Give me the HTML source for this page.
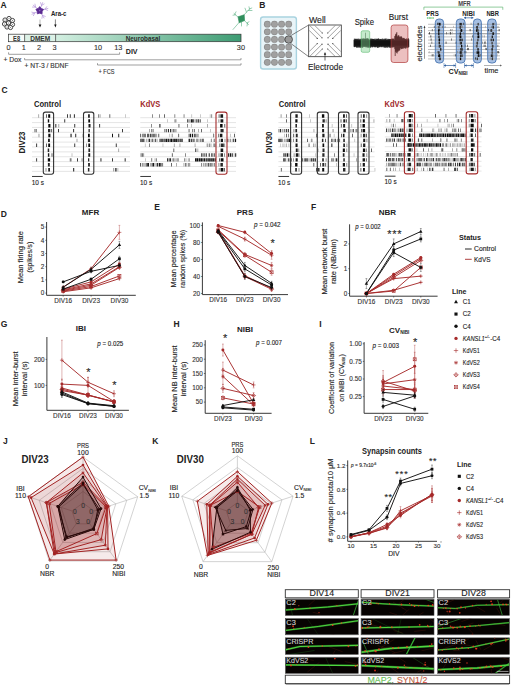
<!DOCTYPE html><html><head><meta charset="utf-8"><style>html,body{margin:0;padding:0;background:#fff;width:511px;height:685px;overflow:hidden}svg{display:block} text{font-family:"Liberation Sans", sans-serif}</style></head><body>
<svg width="511" height="685" viewBox="0 0 511 685">
<rect width="511" height="685" fill="#fff"/>
<text x="0.50" y="8.00" font-size="8.5" font-weight="bold" font-style="normal" fill="#222" text-anchor="start"  stroke="#222" stroke-width="0.0">A</text>
<circle cx="5" cy="20" r="2.1" fill="#fff" stroke="#333" stroke-width="0.9"/>
<circle cx="5" cy="20" r="0.6" fill="#777"/>
<circle cx="9" cy="18.5" r="2.1" fill="#fff" stroke="#333" stroke-width="0.9"/>
<circle cx="9" cy="18.5" r="0.6" fill="#777"/>
<circle cx="12.5" cy="20.5" r="2.1" fill="#fff" stroke="#333" stroke-width="0.9"/>
<circle cx="12.5" cy="20.5" r="0.6" fill="#777"/>
<circle cx="4.5" cy="24" r="2.1" fill="#fff" stroke="#333" stroke-width="0.9"/>
<circle cx="4.5" cy="24" r="0.6" fill="#777"/>
<circle cx="8.5" cy="23" r="2.1" fill="#fff" stroke="#333" stroke-width="0.9"/>
<circle cx="8.5" cy="23" r="0.6" fill="#777"/>
<circle cx="12.5" cy="24.5" r="2.1" fill="#fff" stroke="#333" stroke-width="0.9"/>
<circle cx="12.5" cy="24.5" r="0.6" fill="#777"/>
<circle cx="7" cy="27" r="2.1" fill="#fff" stroke="#333" stroke-width="0.9"/>
<circle cx="7" cy="27" r="0.6" fill="#777"/>
<circle cx="10.5" cy="27.5" r="2.1" fill="#fff" stroke="#333" stroke-width="0.9"/>
<circle cx="10.5" cy="27.5" r="0.6" fill="#777"/>
<g stroke="#b99ddc" stroke-width="0.75" fill="none" stroke-linecap="round"><line x1="39.7" y1="10.6" x2="42.61" y2="2.61"/><line x1="41.58" y1="5.43" x2="44.18" y2="3.93"/><line x1="41.58" y1="5.43" x2="40.56" y2="2.61"/><line x1="39.7" y1="10.6" x2="33.19" y2="5.14"/><line x1="35.49" y1="7.06" x2="34.97" y2="4.11"/><line x1="35.49" y1="7.06" x2="32.49" y2="7.06"/><line x1="39.7" y1="10.6" x2="47.91" y2="8.40"/><line x1="45.01" y1="9.18" x2="47.73" y2="10.44"/><line x1="45.01" y1="9.18" x2="46.73" y2="6.72"/><line x1="39.7" y1="10.6" x2="32.00" y2="14.19"/><line x1="34.72" y1="12.92" x2="31.82" y2="12.15"/><line x1="34.72" y1="12.92" x2="33.45" y2="15.64"/><line x1="39.7" y1="10.6" x2="43.95" y2="17.96"/><line x1="42.45" y1="15.36" x2="41.93" y2="18.32"/><line x1="42.45" y1="15.36" x2="45.27" y2="16.39"/></g>
<polygon points="39.70,6.60 38.17,8.50 35.90,9.36 37.23,11.40 37.35,13.84 39.70,13.20 42.05,13.84 42.17,11.40 43.50,9.36 41.23,8.50" fill="#5a2a92" stroke="#5a2a92" stroke-width="0.8" stroke-linejoin="round"/>
<circle cx="39.7" cy="10.6" r="0.8" fill="#8a6ab8"/>
<text x="51.00" y="15.50" font-size="7.2" font-weight="bold" font-style="normal" fill="#222" text-anchor="start" textLength="15.5" lengthAdjust="spacingAndGlyphs"  stroke="#222" stroke-width="0.0">Ara-c</text>
<line x1="40.00" y1="19.40" x2="40.00" y2="25.50" stroke="#c8c8c8" stroke-width="1.3" />
<polygon points="38.6,24.6 41.4,24.6 40,27.6" fill="#111"/>
<line x1="55.40" y1="19.40" x2="55.40" y2="25.50" stroke="#333" stroke-width="0.6" />
<polygon points="54.2,24.6 56.6,24.6 55.4,27.6" fill="#111"/>
<defs><linearGradient id="nb" x1="0" x2="1" y1="0" y2="0"><stop offset="0" stop-color="#d3efe1"/><stop offset="1" stop-color="#3d9c73"/></linearGradient></defs>
<rect x="55.60" y="34.20" width="185.40" height="7.50" fill="url(#nb)" stroke="none" stroke-width="0.8" rx="0" />
<rect x="8.60" y="34.20" width="16.00" height="7.50" fill="#f6fbf8" stroke="none" stroke-width="0.8" rx="0" />
<rect x="24.60" y="34.20" width="31.00" height="7.50" fill="#dcf1e6" stroke="none" stroke-width="0.8" rx="0" />
<rect x="8.60" y="34.20" width="232.40" height="7.50" fill="none" stroke="#333" stroke-width="0.7" rx="0" />
<line x1="24.60" y1="34.20" x2="24.60" y2="41.70" stroke="#333" stroke-width="0.7" />
<line x1="55.60" y1="34.20" x2="55.60" y2="41.70" stroke="#333" stroke-width="0.7" />
<text x="16.60" y="40.70" font-size="6.4" font-weight="bold" font-style="normal" fill="#333" text-anchor="middle" textLength="7" lengthAdjust="spacingAndGlyphs"  stroke="#333" stroke-width="0.0">E8</text>
<text x="40.20" y="40.70" font-size="6.4" font-weight="bold" font-style="normal" fill="#333" text-anchor="middle" textLength="20" lengthAdjust="spacingAndGlyphs"  stroke="#333" stroke-width="0.0">DMEM</text>
<text x="125.80" y="41.00" font-size="7.0" font-weight="bold" font-style="normal" fill="#2a2a2a" text-anchor="start" textLength="34.4" lengthAdjust="spacingAndGlyphs"  stroke="#2a2a2a" stroke-width="0.0">Neurobasal</text>
<text x="8.60" y="49.70" font-size="7.3" font-weight="normal" font-style="normal" fill="#333" text-anchor="middle"  stroke="#333" stroke-width="0.12">0</text>
<text x="23.80" y="49.70" font-size="7.3" font-weight="normal" font-style="normal" fill="#333" text-anchor="middle"  stroke="#333" stroke-width="0.12">1</text>
<text x="39.10" y="49.70" font-size="7.3" font-weight="normal" font-style="normal" fill="#333" text-anchor="middle"  stroke="#333" stroke-width="0.12">2</text>
<text x="54.50" y="49.70" font-size="7.3" font-weight="normal" font-style="normal" fill="#333" text-anchor="middle"  stroke="#333" stroke-width="0.12">3</text>
<text x="98.00" y="49.70" font-size="7.3" font-weight="normal" font-style="normal" fill="#333" text-anchor="middle"  stroke="#333" stroke-width="0.12">10</text>
<text x="118.30" y="49.70" font-size="7.3" font-weight="normal" font-style="normal" fill="#333" text-anchor="middle"  stroke="#333" stroke-width="0.12">13</text>
<text x="240.90" y="49.70" font-size="7.3" font-weight="normal" font-style="normal" fill="#333" text-anchor="middle"  stroke="#333" stroke-width="0.12">30</text>
<text x="125.80" y="54.30" font-size="6.6" font-weight="bold" font-style="normal" fill="#222" text-anchor="start" textLength="11.8" lengthAdjust="spacingAndGlyphs"  stroke="#222" stroke-width="0.0">DIV</text>
<g stroke="#777" stroke-width="0.7" fill="none">
<path d="M8.6,52.3 V54.3 H119.6 V52.3"/>
<path d="M24.6,58 V59.8 H241 V58"/>
<path d="M97.5,63.2 V65 H241 V63.2"/>
</g>
<text x="3.50" y="61.50" font-size="6.5" font-weight="normal" font-style="normal" fill="#333" text-anchor="start" textLength="18" lengthAdjust="spacingAndGlyphs"  stroke="#333" stroke-width="0.12">+ Dox</text>
<text x="24.50" y="67.90" font-size="6.5" font-weight="normal" font-style="normal" fill="#333" text-anchor="start" textLength="44" lengthAdjust="spacingAndGlyphs"  stroke="#333" stroke-width="0.12">+ NT-3 / BDNF</text>
<text x="98.50" y="74.00" font-size="6.5" font-weight="normal" font-style="normal" fill="#333" text-anchor="start" textLength="16" lengthAdjust="spacingAndGlyphs"  stroke="#333" stroke-width="0.12">+ FCS</text>
<g stroke="#4aa877" stroke-width="0.7" fill="none" stroke-linecap="round" stroke-opacity="0.8"><line x1="243.5" y1="15.5" x2="249.5" y2="9.0"/><line x1="246.5" y1="12.2" x2="245.0" y2="8.2"/><line x1="248.0" y1="10.5" x2="252.0" y2="10.5"/><line x1="249.5" y1="9.0" x2="249.0" y2="6.8"/><line x1="249.5" y1="9.0" x2="251.8" y2="8.0"/><line x1="238.0" y1="17.0" x2="234.0" y2="13.5"/><line x1="235.5" y1="14.8" x2="233.0" y2="15.2"/><line x1="234.8" y1="14.2" x2="236.0" y2="11.8"/><line x1="244.3" y1="20.5" x2="248.5" y2="24.5"/><line x1="246.8" y1="23.0" x2="249.0" y2="21.8"/><line x1="247.5" y1="23.5" x2="247.0" y2="26.0"/><line x1="239.5" y1="22.0" x2="233.0" y2="29.5"/><line x1="241.5" y1="22.0" x2="241.5" y2="26.0"/></g>
<polygon points="238.0,16.8 244.2,14.8 244.6,20.6 239.2,22.8" fill="#2f8f5c" stroke="#2f8f5c" stroke-width="0.6" stroke-linejoin="round"/>
<text x="259.30" y="7.60" font-size="8.5" font-weight="bold" font-style="normal" fill="#222" text-anchor="start"  stroke="#222" stroke-width="0.0">B</text>
<rect x="260.60" y="17.00" width="35.80" height="52.00" fill="#e9f4f8" stroke="#a9d3e0" stroke-width="1.4" rx="2.5" />
<circle cx="267.30" cy="24.20" r="3.4" fill="#8d8d8d"/>
<circle cx="267.30" cy="24.20" r="2.6" fill="#a0a0a0"/>
<circle cx="267.30" cy="31.82" r="3.4" fill="#8d8d8d"/>
<circle cx="267.30" cy="31.82" r="2.6" fill="#a0a0a0"/>
<circle cx="267.30" cy="39.44" r="3.4" fill="#8d8d8d"/>
<circle cx="267.30" cy="39.44" r="2.6" fill="#a0a0a0"/>
<circle cx="267.30" cy="47.06" r="3.4" fill="#8d8d8d"/>
<circle cx="267.30" cy="47.06" r="2.6" fill="#a0a0a0"/>
<circle cx="267.30" cy="54.68" r="3.4" fill="#8d8d8d"/>
<circle cx="267.30" cy="54.68" r="2.6" fill="#a0a0a0"/>
<circle cx="267.30" cy="62.30" r="3.4" fill="#8d8d8d"/>
<circle cx="267.30" cy="62.30" r="2.6" fill="#a0a0a0"/>
<circle cx="274.43" cy="24.20" r="3.4" fill="#8d8d8d"/>
<circle cx="274.43" cy="24.20" r="2.6" fill="#a0a0a0"/>
<circle cx="274.43" cy="31.82" r="3.4" fill="#8d8d8d"/>
<circle cx="274.43" cy="31.82" r="2.6" fill="#a0a0a0"/>
<circle cx="274.43" cy="39.44" r="3.4" fill="#8d8d8d"/>
<circle cx="274.43" cy="39.44" r="2.6" fill="#a0a0a0"/>
<circle cx="274.43" cy="47.06" r="3.4" fill="#8d8d8d"/>
<circle cx="274.43" cy="47.06" r="2.6" fill="#a0a0a0"/>
<circle cx="274.43" cy="54.68" r="3.4" fill="#8d8d8d"/>
<circle cx="274.43" cy="54.68" r="2.6" fill="#a0a0a0"/>
<circle cx="274.43" cy="62.30" r="3.4" fill="#8d8d8d"/>
<circle cx="274.43" cy="62.30" r="2.6" fill="#a0a0a0"/>
<circle cx="281.56" cy="24.20" r="3.4" fill="#8d8d8d"/>
<circle cx="281.56" cy="24.20" r="2.6" fill="#a0a0a0"/>
<circle cx="281.56" cy="31.82" r="3.4" fill="#8d8d8d"/>
<circle cx="281.56" cy="31.82" r="2.6" fill="#a0a0a0"/>
<circle cx="281.56" cy="39.44" r="3.4" fill="#8d8d8d"/>
<circle cx="281.56" cy="39.44" r="2.6" fill="#a0a0a0"/>
<circle cx="281.56" cy="47.06" r="3.4" fill="#8d8d8d"/>
<circle cx="281.56" cy="47.06" r="2.6" fill="#a0a0a0"/>
<circle cx="281.56" cy="54.68" r="3.4" fill="#8d8d8d"/>
<circle cx="281.56" cy="54.68" r="2.6" fill="#a0a0a0"/>
<circle cx="281.56" cy="62.30" r="3.4" fill="#8d8d8d"/>
<circle cx="281.56" cy="62.30" r="2.6" fill="#a0a0a0"/>
<circle cx="288.69" cy="24.20" r="3.4" fill="#8d8d8d"/>
<circle cx="288.69" cy="24.20" r="2.6" fill="#a0a0a0"/>
<circle cx="288.69" cy="31.82" r="3.4" fill="#8d8d8d"/>
<circle cx="288.69" cy="31.82" r="2.6" fill="#a0a0a0"/>
<circle cx="288.69" cy="39.44" r="3.4" fill="#8d8d8d"/>
<circle cx="288.69" cy="39.44" r="2.6" fill="#a0a0a0"/>
<circle cx="288.69" cy="47.06" r="3.4" fill="#8d8d8d"/>
<circle cx="288.69" cy="47.06" r="2.6" fill="#a0a0a0"/>
<circle cx="288.69" cy="54.68" r="3.4" fill="#8d8d8d"/>
<circle cx="288.69" cy="54.68" r="2.6" fill="#a0a0a0"/>
<circle cx="288.69" cy="62.30" r="3.4" fill="#8d8d8d"/>
<circle cx="288.69" cy="62.30" r="2.6" fill="#a0a0a0"/>
<circle cx="288.7" cy="39.5" r="3.8" fill="#999" stroke="#333" stroke-width="0.7"/>
<line x1="290.20" y1="36.00" x2="308.70" y2="25.00" stroke="#333" stroke-width="0.6" />
<line x1="290.20" y1="43.00" x2="308.70" y2="56.70" stroke="#333" stroke-width="0.6" />
<rect x="308.70" y="25.00" width="32.60" height="31.70" fill="#fff" stroke="#333" stroke-width="0.8" rx="0" />
<g stroke="#555" stroke-width="0.55">
<line x1="322.00" y1="37.80" x2="309.75" y2="25.55"/>
<line x1="322.30" y1="33.00" x2="314.85" y2="25.55"/>
<line x1="317.20" y1="38.40" x2="309.20" y2="30.40"/>
<line x1="322.00" y1="44.20" x2="309.75" y2="56.45"/>
<line x1="322.30" y1="49.00" x2="314.85" y2="56.45"/>
<line x1="317.20" y1="43.60" x2="309.20" y2="51.60"/>
<line x1="328.00" y1="37.80" x2="340.25" y2="25.55"/>
<line x1="327.70" y1="33.00" x2="335.15" y2="25.55"/>
<line x1="332.80" y1="38.40" x2="340.80" y2="30.40"/>
<line x1="328.00" y1="44.20" x2="340.25" y2="56.45"/>
<line x1="327.70" y1="49.00" x2="335.15" y2="56.45"/>
<line x1="332.80" y1="43.60" x2="340.80" y2="51.60"/>
</g>
<circle cx="322.00" cy="37.80" r="0.6" fill="#333"/>
<circle cx="322.30" cy="33.00" r="0.6" fill="#333"/>
<circle cx="317.20" cy="38.40" r="0.6" fill="#333"/>
<circle cx="322.00" cy="44.20" r="0.6" fill="#333"/>
<circle cx="322.30" cy="49.00" r="0.6" fill="#333"/>
<circle cx="317.20" cy="43.60" r="0.6" fill="#333"/>
<circle cx="328.00" cy="37.80" r="0.6" fill="#333"/>
<circle cx="327.70" cy="33.00" r="0.6" fill="#333"/>
<circle cx="332.80" cy="38.40" r="0.6" fill="#333"/>
<circle cx="328.00" cy="44.20" r="0.6" fill="#333"/>
<circle cx="327.70" cy="49.00" r="0.6" fill="#333"/>
<circle cx="332.80" cy="43.60" r="0.6" fill="#333"/>
<text x="309.00" y="22.90" font-size="8.3" font-weight="normal" font-style="normal" fill="#222" text-anchor="start" textLength="16.8" lengthAdjust="spacingAndGlyphs"  stroke="#222" stroke-width="0.12">Well</text>
<line x1="325.00" y1="53.50" x2="325.00" y2="60.50" stroke="#222" stroke-width="0.7" />
<polygon points="323.8,54.8 326.2,54.8 325,52.0" fill="#222"/>
<text x="308.00" y="69.80" font-size="8.3" font-weight="normal" font-style="normal" fill="#222" text-anchor="start" textLength="35" lengthAdjust="spacingAndGlyphs"  stroke="#222" stroke-width="0.12">Electrode</text>
<path d="M354.0,39.8V46.7M354.4,38.6V47.2M354.8,39.7V47.0M355.2,39.1V46.6M355.6,38.7V46.5M356.0,39.3V47.1M356.4,39.2V47.2M356.8,38.7V47.8M357.2,39.4V47.3M357.6,38.8V46.8M358.0,39.9V47.9M358.4,39.4V46.8M358.8,38.5V47.2M359.2,39.1V47.5M359.6,39.9V47.4M360.0,39.3V46.4M360.4,38.8V47.8M360.8,39.6V47.3M361.2,39.4V47.5M361.6,38.7V46.6M362.0,38.6V47.4M362.4,38.8V47.6M362.8,39.2V47.5M363.2,38.5V46.5M363.6,38.5V46.9M364.0,39.1V46.5M364.4,38.8V46.8M364.8,38.5V46.7M365.2,39.0V46.9M365.6,38.9V46.6M366.0,39.6V47.5M366.4,38.7V47.2M366.8,38.4V46.6M367.2,38.5V46.6M367.6,38.4V47.3M368.0,38.9V47.9M368.4,38.6V47.6M368.8,39.8V46.9M369.2,39.8V46.6M369.6,39.6V47.7M370.0,39.7V46.8M370.4,39.1V47.7M370.8,38.4V47.4M371.2,39.6V47.2M371.6,38.8V46.4M372.0,38.8V46.9M372.4,39.0V47.4M372.8,38.8V47.1M373.2,39.0V46.6M373.6,39.1V46.5M374.0,39.1V47.2M374.4,38.7V46.9M374.8,39.9V47.1M375.2,39.6V47.5M375.6,39.3V46.9M376.0,38.4V46.9M376.4,39.3V46.9M376.8,39.1V46.4M377.2,39.0V47.8M377.6,39.0V47.5M378.0,38.4V47.6M378.4,38.7V47.6M378.8,38.6V46.7M379.2,39.1V46.8M379.6,39.5V47.2M380.0,39.4V47.3M380.4,39.0V46.5M380.8,39.2V46.9M381.2,38.8V46.4M381.6,39.6V47.1M382.0,39.3V47.4M382.4,39.4V46.6M382.8,38.4V46.7M383.2,39.7V46.7M383.6,39.4V46.7M384.0,39.0V47.8M384.4,39.7V47.0M384.8,38.8V47.7M385.2,38.3V46.5M385.6,39.0V47.7M386.0,39.8V47.2M386.4,39.6V47.5M386.8,38.4V47.2M387.2,39.9V46.4M387.6,39.2V47.7M388.0,39.5V47.4M388.4,39.3V46.7M388.8,38.8V46.8M389.2,39.3V47.5M389.6,39.1V47.6M390.0,39.1V46.6M390.4,39.2V47.7M390.8,39.0V47.8M391.2,39.9V46.8M391.6,38.7V47.4M392.0,39.0V47.4M392.4,38.5V47.4M392.8,39.0V47.2M393.2,38.8V46.8M393.6,38.8V47.3M394.0,38.6V47.1M394.4,39.9V47.2M394.8,36.1V49.1M395.2,35.9V56.0M395.6,34.4V51.7M396.0,33.9V52.2M396.4,33.4V52.9M396.8,32.1V50.9M397.2,35.7V53.5M397.6,36.9V51.7M398.0,36.2V51.8M398.4,35.4V50.7M398.8,35.2V50.5M399.2,36.4V50.6M399.6,36.8V50.4M400.0,38.5V49.6M400.4,36.8V48.0M400.8,36.5V48.3M401.2,36.3V49.2M401.6,36.8V48.7M402.0,37.6V49.0M402.4,38.9V48.1M402.8,38.0V48.7M403.2,37.9V48.4M403.6,38.5V47.5M404.0,37.9V48.6M404.4,38.5V47.8M404.8,38.9V47.9M405.2,39.3V47.5M405.6,38.9V48.6M406.0,39.4V48.4M406.4,39.4V47.5M406.8,38.2V47.0M407.2,39.5V47.9M407.6,39.4V47.6M408.0,39.0V47.0M408.4,38.2V47.6M408.8,39.4V47.0" stroke="#111" stroke-width="0.75" fill="none"/>
<rect x="354" y="40.6" width="54.8" height="5" fill="#111"/>
<line x1="365.50" y1="32.70" x2="365.50" y2="45.00" stroke="#111" stroke-width="0.5" />
<rect x="361.20" y="30.80" width="8.50" height="21.50" fill="#7fd08f" stroke="#5bb86e" stroke-width="0.6" rx="1.5" fill-opacity="0.45"/>
<rect x="391.10" y="25.00" width="16.80" height="37.50" fill="#c94b4b" stroke="#b03a3a" stroke-width="0.7" rx="2.5" fill-opacity="0.35"/>
<text x="354.70" y="25.20" font-size="8.3" font-weight="normal" font-style="normal" fill="#222" text-anchor="start" textLength="19.3" lengthAdjust="spacingAndGlyphs"  stroke="#222" stroke-width="0.12">Spike</text>
<text x="388.70" y="20.00" font-size="8.3" font-weight="normal" font-style="normal" fill="#222" text-anchor="start" textLength="19.3" lengthAdjust="spacingAndGlyphs"  stroke="#222" stroke-width="0.12">Burst</text>
<text x="0" y="0" font-size="7.2" fill="#222" transform="translate(421.6,43.6) rotate(-90)" text-anchor="middle" textLength="36" lengthAdjust="spacingAndGlyphs" stroke="#222" stroke-width="0.12">electrodes</text>
<line x1="424.50" y1="58.80" x2="424.50" y2="27.00" stroke="#333" stroke-width="0.5" />
<polygon points="423.6,28 425.4,28 424.5,25.6" fill="#333"/>
<rect x="435.30" y="19.00" width="8.30" height="44.00" fill="#a6c0e4" stroke="none" stroke-width="0.8" rx="3.5" />
<rect x="456.30" y="19.00" width="8.80" height="44.00" fill="#a6c0e4" stroke="none" stroke-width="0.8" rx="3.5" />
<rect x="473.40" y="19.00" width="8.00" height="44.00" fill="#a6c0e4" stroke="none" stroke-width="0.8" rx="3.5" />
<rect x="487.70" y="19.00" width="8.50" height="44.00" fill="#a6c0e4" stroke="none" stroke-width="0.8" rx="3.5" />
<line x1="428.00" y1="24.30" x2="500.00" y2="24.30" stroke="#8f8f8f" stroke-width="0.55" />
<line x1="428.00" y1="27.45" x2="500.00" y2="27.45" stroke="#8f8f8f" stroke-width="0.55" />
<line x1="428.00" y1="30.60" x2="500.00" y2="30.60" stroke="#8f8f8f" stroke-width="0.55" />
<line x1="428.00" y1="33.75" x2="500.00" y2="33.75" stroke="#333" stroke-width="0.55" />
<line x1="428.00" y1="36.90" x2="500.00" y2="36.90" stroke="#8f8f8f" stroke-width="0.55" />
<line x1="428.00" y1="40.05" x2="500.00" y2="40.05" stroke="#8f8f8f" stroke-width="0.55" />
<line x1="428.00" y1="43.20" x2="500.00" y2="43.20" stroke="#8f8f8f" stroke-width="0.55" />
<line x1="428.00" y1="46.35" x2="500.00" y2="46.35" stroke="#8f8f8f" stroke-width="0.55" />
<line x1="428.00" y1="49.50" x2="500.00" y2="49.50" stroke="#8f8f8f" stroke-width="0.55" />
<line x1="428.00" y1="52.65" x2="500.00" y2="52.65" stroke="#8f8f8f" stroke-width="0.55" />
<line x1="428.00" y1="55.80" x2="500.00" y2="55.80" stroke="#8f8f8f" stroke-width="0.55" />
<line x1="428.00" y1="58.95" x2="500.00" y2="58.95" stroke="#8f8f8f" stroke-width="0.55" />
<rect x="463.45" y="22.70" width="0.70" height="2.20" fill="rgb(30,30,30)" stroke="none" stroke-width="0.8" rx="0" />
<rect x="470.71" y="22.70" width="0.70" height="2.20" fill="rgb(130,130,130)" stroke="none" stroke-width="0.8" rx="0" />
<rect x="438.50" y="22.70" width="0.70" height="2.20" fill="rgb(30,30,30)" stroke="none" stroke-width="0.8" rx="0" />
<rect x="493.90" y="22.70" width="0.70" height="2.20" fill="rgb(130,130,130)" stroke="none" stroke-width="0.8" rx="0" />
<rect x="437.21" y="22.70" width="0.70" height="2.20" fill="rgb(30,30,30)" stroke="none" stroke-width="0.8" rx="0" />
<rect x="439.44" y="22.90" width="1.30" height="2.60" fill="rgb(60,60,60)" stroke="none" stroke-width="0.8" rx="0" />
<rect x="438.84" y="22.90" width="1.30" height="2.60" fill="rgb(10,10,10)" stroke="none" stroke-width="0.8" rx="0" />
<rect x="460.79" y="22.90" width="1.30" height="2.60" fill="rgb(60,60,60)" stroke="none" stroke-width="0.8" rx="0" />
<rect x="459.53" y="22.90" width="1.30" height="2.60" fill="rgb(10,10,10)" stroke="none" stroke-width="0.8" rx="0" />
<rect x="477.51" y="22.90" width="1.30" height="2.60" fill="rgb(60,60,60)" stroke="none" stroke-width="0.8" rx="0" />
<rect x="492.41" y="22.90" width="1.30" height="2.60" fill="rgb(30,30,30)" stroke="none" stroke-width="0.8" rx="0" />
<rect x="497.64" y="25.85" width="0.70" height="2.20" fill="rgb(130,130,130)" stroke="none" stroke-width="0.8" rx="0" />
<rect x="442.52" y="25.85" width="0.70" height="2.20" fill="rgb(80,80,80)" stroke="none" stroke-width="0.8" rx="0" />
<rect x="462.34" y="25.85" width="0.70" height="2.20" fill="rgb(130,130,130)" stroke="none" stroke-width="0.8" rx="0" />
<rect x="453.08" y="25.85" width="0.70" height="2.20" fill="rgb(170,170,170)" stroke="none" stroke-width="0.8" rx="0" />
<rect x="444.71" y="25.85" width="0.70" height="2.20" fill="rgb(130,130,130)" stroke="none" stroke-width="0.8" rx="0" />
<rect x="484.96" y="25.85" width="0.70" height="2.20" fill="rgb(170,170,170)" stroke="none" stroke-width="0.8" rx="0" />
<rect x="437.14" y="25.85" width="0.70" height="2.20" fill="rgb(170,170,170)" stroke="none" stroke-width="0.8" rx="0" />
<rect x="461.16" y="25.85" width="0.70" height="2.20" fill="rgb(130,130,130)" stroke="none" stroke-width="0.8" rx="0" />
<rect x="433.90" y="25.85" width="0.70" height="2.20" fill="rgb(80,80,80)" stroke="none" stroke-width="0.8" rx="0" />
<rect x="491.61" y="25.85" width="0.70" height="2.20" fill="rgb(80,80,80)" stroke="none" stroke-width="0.8" rx="0" />
<rect x="438.30" y="26.05" width="1.30" height="2.60" fill="rgb(60,60,60)" stroke="none" stroke-width="0.8" rx="0" />
<rect x="459.69" y="26.05" width="1.30" height="2.60" fill="rgb(30,30,30)" stroke="none" stroke-width="0.8" rx="0" />
<rect x="459.72" y="26.05" width="1.30" height="2.60" fill="rgb(60,60,60)" stroke="none" stroke-width="0.8" rx="0" />
<rect x="476.38" y="26.05" width="1.30" height="2.60" fill="rgb(10,10,10)" stroke="none" stroke-width="0.8" rx="0" />
<rect x="476.73" y="26.05" width="1.30" height="2.60" fill="rgb(60,60,60)" stroke="none" stroke-width="0.8" rx="0" />
<rect x="492.62" y="26.05" width="1.30" height="2.60" fill="rgb(30,30,30)" stroke="none" stroke-width="0.8" rx="0" />
<rect x="452.09" y="29.00" width="0.70" height="2.20" fill="rgb(170,170,170)" stroke="none" stroke-width="0.8" rx="0" />
<rect x="439.35" y="29.00" width="0.70" height="2.20" fill="rgb(30,30,30)" stroke="none" stroke-width="0.8" rx="0" />
<rect x="498.75" y="29.00" width="0.70" height="2.20" fill="rgb(30,30,30)" stroke="none" stroke-width="0.8" rx="0" />
<rect x="477.06" y="29.00" width="0.70" height="2.20" fill="rgb(80,80,80)" stroke="none" stroke-width="0.8" rx="0" />
<rect x="431.88" y="29.00" width="0.70" height="2.20" fill="rgb(80,80,80)" stroke="none" stroke-width="0.8" rx="0" />
<rect x="488.06" y="29.00" width="0.70" height="2.20" fill="rgb(30,30,30)" stroke="none" stroke-width="0.8" rx="0" />
<rect x="469.74" y="29.00" width="0.70" height="2.20" fill="rgb(30,30,30)" stroke="none" stroke-width="0.8" rx="0" />
<rect x="450.53" y="29.00" width="0.70" height="2.20" fill="rgb(80,80,80)" stroke="none" stroke-width="0.8" rx="0" />
<rect x="434.34" y="29.00" width="0.70" height="2.20" fill="rgb(170,170,170)" stroke="none" stroke-width="0.8" rx="0" />
<rect x="438.01" y="29.20" width="1.30" height="2.60" fill="rgb(10,10,10)" stroke="none" stroke-width="0.8" rx="0" />
<rect x="460.32" y="29.20" width="1.30" height="2.60" fill="rgb(30,30,30)" stroke="none" stroke-width="0.8" rx="0" />
<rect x="460.97" y="29.20" width="1.30" height="2.60" fill="rgb(10,10,10)" stroke="none" stroke-width="0.8" rx="0" />
<rect x="476.05" y="29.20" width="1.30" height="2.60" fill="rgb(10,10,10)" stroke="none" stroke-width="0.8" rx="0" />
<rect x="477.34" y="29.20" width="1.30" height="2.60" fill="rgb(60,60,60)" stroke="none" stroke-width="0.8" rx="0" />
<rect x="490.51" y="29.20" width="1.30" height="2.60" fill="rgb(30,30,30)" stroke="none" stroke-width="0.8" rx="0" />
<rect x="490.91" y="29.20" width="1.30" height="2.60" fill="rgb(60,60,60)" stroke="none" stroke-width="0.8" rx="0" />
<rect x="429.28" y="32.15" width="0.70" height="2.20" fill="rgb(30,30,30)" stroke="none" stroke-width="0.8" rx="0" />
<rect x="448.80" y="32.15" width="0.70" height="2.20" fill="rgb(170,170,170)" stroke="none" stroke-width="0.8" rx="0" />
<rect x="463.02" y="32.15" width="0.70" height="2.20" fill="rgb(130,130,130)" stroke="none" stroke-width="0.8" rx="0" />
<rect x="488.56" y="32.15" width="0.70" height="2.20" fill="rgb(170,170,170)" stroke="none" stroke-width="0.8" rx="0" />
<rect x="450.38" y="32.15" width="0.70" height="2.20" fill="rgb(30,30,30)" stroke="none" stroke-width="0.8" rx="0" />
<rect x="446.33" y="32.15" width="0.70" height="2.20" fill="rgb(80,80,80)" stroke="none" stroke-width="0.8" rx="0" />
<rect x="494.81" y="32.15" width="0.70" height="2.20" fill="rgb(170,170,170)" stroke="none" stroke-width="0.8" rx="0" />
<rect x="452.19" y="32.15" width="0.70" height="2.20" fill="rgb(170,170,170)" stroke="none" stroke-width="0.8" rx="0" />
<rect x="450.32" y="32.15" width="0.70" height="2.20" fill="rgb(80,80,80)" stroke="none" stroke-width="0.8" rx="0" />
<rect x="438.05" y="32.35" width="1.30" height="2.60" fill="rgb(60,60,60)" stroke="none" stroke-width="0.8" rx="0" />
<rect x="438.11" y="32.35" width="1.30" height="2.60" fill="rgb(30,30,30)" stroke="none" stroke-width="0.8" rx="0" />
<rect x="459.79" y="32.35" width="1.30" height="2.60" fill="rgb(10,10,10)" stroke="none" stroke-width="0.8" rx="0" />
<rect x="477.68" y="32.35" width="1.30" height="2.60" fill="rgb(10,10,10)" stroke="none" stroke-width="0.8" rx="0" />
<rect x="477.49" y="32.35" width="1.30" height="2.60" fill="rgb(30,30,30)" stroke="none" stroke-width="0.8" rx="0" />
<rect x="492.32" y="32.35" width="1.30" height="2.60" fill="rgb(60,60,60)" stroke="none" stroke-width="0.8" rx="0" />
<rect x="492.68" y="32.35" width="1.30" height="2.60" fill="rgb(30,30,30)" stroke="none" stroke-width="0.8" rx="0" />
<rect x="472.46" y="35.30" width="0.70" height="2.20" fill="rgb(30,30,30)" stroke="none" stroke-width="0.8" rx="0" />
<rect x="459.46" y="35.30" width="0.70" height="2.20" fill="rgb(30,30,30)" stroke="none" stroke-width="0.8" rx="0" />
<rect x="483.83" y="35.30" width="0.70" height="2.20" fill="rgb(130,130,130)" stroke="none" stroke-width="0.8" rx="0" />
<rect x="481.91" y="35.30" width="0.70" height="2.20" fill="rgb(170,170,170)" stroke="none" stroke-width="0.8" rx="0" />
<rect x="430.51" y="35.30" width="0.70" height="2.20" fill="rgb(30,30,30)" stroke="none" stroke-width="0.8" rx="0" />
<rect x="438.34" y="35.50" width="1.30" height="2.60" fill="rgb(30,30,30)" stroke="none" stroke-width="0.8" rx="0" />
<rect x="459.55" y="35.50" width="1.30" height="2.60" fill="rgb(60,60,60)" stroke="none" stroke-width="0.8" rx="0" />
<rect x="460.06" y="35.50" width="1.30" height="2.60" fill="rgb(10,10,10)" stroke="none" stroke-width="0.8" rx="0" />
<rect x="477.99" y="35.50" width="1.30" height="2.60" fill="rgb(10,10,10)" stroke="none" stroke-width="0.8" rx="0" />
<rect x="477.43" y="35.50" width="1.30" height="2.60" fill="rgb(10,10,10)" stroke="none" stroke-width="0.8" rx="0" />
<rect x="491.65" y="35.50" width="1.30" height="2.60" fill="rgb(30,30,30)" stroke="none" stroke-width="0.8" rx="0" />
<rect x="471.38" y="38.45" width="0.70" height="2.20" fill="rgb(80,80,80)" stroke="none" stroke-width="0.8" rx="0" />
<rect x="430.74" y="38.45" width="0.70" height="2.20" fill="rgb(30,30,30)" stroke="none" stroke-width="0.8" rx="0" />
<rect x="436.18" y="38.45" width="0.70" height="2.20" fill="rgb(170,170,170)" stroke="none" stroke-width="0.8" rx="0" />
<rect x="473.23" y="38.45" width="0.70" height="2.20" fill="rgb(130,130,130)" stroke="none" stroke-width="0.8" rx="0" />
<rect x="451.06" y="38.45" width="0.70" height="2.20" fill="rgb(80,80,80)" stroke="none" stroke-width="0.8" rx="0" />
<rect x="438.79" y="38.65" width="1.30" height="2.60" fill="rgb(10,10,10)" stroke="none" stroke-width="0.8" rx="0" />
<rect x="438.71" y="38.65" width="1.30" height="2.60" fill="rgb(10,10,10)" stroke="none" stroke-width="0.8" rx="0" />
<rect x="461.39" y="38.65" width="1.30" height="2.60" fill="rgb(30,30,30)" stroke="none" stroke-width="0.8" rx="0" />
<rect x="459.48" y="38.65" width="1.30" height="2.60" fill="rgb(10,10,10)" stroke="none" stroke-width="0.8" rx="0" />
<rect x="477.25" y="38.65" width="1.30" height="2.60" fill="rgb(60,60,60)" stroke="none" stroke-width="0.8" rx="0" />
<rect x="492.63" y="38.65" width="1.30" height="2.60" fill="rgb(30,30,30)" stroke="none" stroke-width="0.8" rx="0" />
<rect x="490.61" y="38.65" width="1.30" height="2.60" fill="rgb(60,60,60)" stroke="none" stroke-width="0.8" rx="0" />
<rect x="476.52" y="41.60" width="0.70" height="2.20" fill="rgb(170,170,170)" stroke="none" stroke-width="0.8" rx="0" />
<rect x="438.22" y="41.60" width="0.70" height="2.20" fill="rgb(170,170,170)" stroke="none" stroke-width="0.8" rx="0" />
<rect x="431.50" y="41.60" width="0.70" height="2.20" fill="rgb(80,80,80)" stroke="none" stroke-width="0.8" rx="0" />
<rect x="484.93" y="41.60" width="0.70" height="2.20" fill="rgb(130,130,130)" stroke="none" stroke-width="0.8" rx="0" />
<rect x="485.13" y="41.60" width="0.70" height="2.20" fill="rgb(130,130,130)" stroke="none" stroke-width="0.8" rx="0" />
<rect x="481.99" y="41.60" width="0.70" height="2.20" fill="rgb(130,130,130)" stroke="none" stroke-width="0.8" rx="0" />
<rect x="484.07" y="41.60" width="0.70" height="2.20" fill="rgb(80,80,80)" stroke="none" stroke-width="0.8" rx="0" />
<rect x="445.69" y="41.60" width="0.70" height="2.20" fill="rgb(30,30,30)" stroke="none" stroke-width="0.8" rx="0" />
<rect x="455.72" y="41.60" width="0.70" height="2.20" fill="rgb(30,30,30)" stroke="none" stroke-width="0.8" rx="0" />
<rect x="438.64" y="41.80" width="1.30" height="2.60" fill="rgb(30,30,30)" stroke="none" stroke-width="0.8" rx="0" />
<rect x="460.65" y="41.80" width="1.30" height="2.60" fill="rgb(30,30,30)" stroke="none" stroke-width="0.8" rx="0" />
<rect x="459.78" y="41.80" width="1.30" height="2.60" fill="rgb(60,60,60)" stroke="none" stroke-width="0.8" rx="0" />
<rect x="476.76" y="41.80" width="1.30" height="2.60" fill="rgb(60,60,60)" stroke="none" stroke-width="0.8" rx="0" />
<rect x="476.60" y="41.80" width="1.30" height="2.60" fill="rgb(60,60,60)" stroke="none" stroke-width="0.8" rx="0" />
<rect x="491.45" y="41.80" width="1.30" height="2.60" fill="rgb(60,60,60)" stroke="none" stroke-width="0.8" rx="0" />
<rect x="475.81" y="44.75" width="0.70" height="2.20" fill="rgb(130,130,130)" stroke="none" stroke-width="0.8" rx="0" />
<rect x="464.80" y="44.75" width="0.70" height="2.20" fill="rgb(80,80,80)" stroke="none" stroke-width="0.8" rx="0" />
<rect x="497.54" y="44.75" width="0.70" height="2.20" fill="rgb(80,80,80)" stroke="none" stroke-width="0.8" rx="0" />
<rect x="434.82" y="44.75" width="0.70" height="2.20" fill="rgb(130,130,130)" stroke="none" stroke-width="0.8" rx="0" />
<rect x="466.99" y="44.75" width="0.70" height="2.20" fill="rgb(80,80,80)" stroke="none" stroke-width="0.8" rx="0" />
<rect x="430.04" y="44.75" width="0.70" height="2.20" fill="rgb(80,80,80)" stroke="none" stroke-width="0.8" rx="0" />
<rect x="484.75" y="44.75" width="0.70" height="2.20" fill="rgb(30,30,30)" stroke="none" stroke-width="0.8" rx="0" />
<rect x="483.65" y="44.75" width="0.70" height="2.20" fill="rgb(80,80,80)" stroke="none" stroke-width="0.8" rx="0" />
<rect x="492.03" y="44.75" width="0.70" height="2.20" fill="rgb(130,130,130)" stroke="none" stroke-width="0.8" rx="0" />
<rect x="438.67" y="44.95" width="1.30" height="2.60" fill="rgb(60,60,60)" stroke="none" stroke-width="0.8" rx="0" />
<rect x="439.50" y="44.95" width="1.30" height="2.60" fill="rgb(60,60,60)" stroke="none" stroke-width="0.8" rx="0" />
<rect x="461.00" y="44.95" width="1.30" height="2.60" fill="rgb(10,10,10)" stroke="none" stroke-width="0.8" rx="0" />
<rect x="476.27" y="44.95" width="1.30" height="2.60" fill="rgb(60,60,60)" stroke="none" stroke-width="0.8" rx="0" />
<rect x="492.11" y="44.95" width="1.30" height="2.60" fill="rgb(60,60,60)" stroke="none" stroke-width="0.8" rx="0" />
<rect x="491.79" y="44.95" width="1.30" height="2.60" fill="rgb(60,60,60)" stroke="none" stroke-width="0.8" rx="0" />
<rect x="459.80" y="47.90" width="0.70" height="2.20" fill="rgb(170,170,170)" stroke="none" stroke-width="0.8" rx="0" />
<rect x="468.17" y="47.90" width="0.70" height="2.20" fill="rgb(80,80,80)" stroke="none" stroke-width="0.8" rx="0" />
<rect x="467.41" y="47.90" width="0.70" height="2.20" fill="rgb(30,30,30)" stroke="none" stroke-width="0.8" rx="0" />
<rect x="485.84" y="47.90" width="0.70" height="2.20" fill="rgb(30,30,30)" stroke="none" stroke-width="0.8" rx="0" />
<rect x="485.02" y="47.90" width="0.70" height="2.20" fill="rgb(130,130,130)" stroke="none" stroke-width="0.8" rx="0" />
<rect x="440.07" y="48.10" width="1.30" height="2.60" fill="rgb(30,30,30)" stroke="none" stroke-width="0.8" rx="0" />
<rect x="461.30" y="48.10" width="1.30" height="2.60" fill="rgb(10,10,10)" stroke="none" stroke-width="0.8" rx="0" />
<rect x="460.09" y="48.10" width="1.30" height="2.60" fill="rgb(60,60,60)" stroke="none" stroke-width="0.8" rx="0" />
<rect x="477.39" y="48.10" width="1.30" height="2.60" fill="rgb(10,10,10)" stroke="none" stroke-width="0.8" rx="0" />
<rect x="491.48" y="48.10" width="1.30" height="2.60" fill="rgb(10,10,10)" stroke="none" stroke-width="0.8" rx="0" />
<rect x="437.78" y="51.05" width="0.70" height="2.20" fill="rgb(170,170,170)" stroke="none" stroke-width="0.8" rx="0" />
<rect x="457.38" y="51.05" width="0.70" height="2.20" fill="rgb(130,130,130)" stroke="none" stroke-width="0.8" rx="0" />
<rect x="465.51" y="51.05" width="0.70" height="2.20" fill="rgb(30,30,30)" stroke="none" stroke-width="0.8" rx="0" />
<rect x="437.52" y="51.05" width="0.70" height="2.20" fill="rgb(80,80,80)" stroke="none" stroke-width="0.8" rx="0" />
<rect x="464.35" y="51.05" width="0.70" height="2.20" fill="rgb(80,80,80)" stroke="none" stroke-width="0.8" rx="0" />
<rect x="440.16" y="51.05" width="0.70" height="2.20" fill="rgb(170,170,170)" stroke="none" stroke-width="0.8" rx="0" />
<rect x="428.81" y="51.05" width="0.70" height="2.20" fill="rgb(170,170,170)" stroke="none" stroke-width="0.8" rx="0" />
<rect x="460.65" y="51.05" width="0.70" height="2.20" fill="rgb(30,30,30)" stroke="none" stroke-width="0.8" rx="0" />
<rect x="497.19" y="51.05" width="0.70" height="2.20" fill="rgb(80,80,80)" stroke="none" stroke-width="0.8" rx="0" />
<rect x="498.36" y="51.05" width="0.70" height="2.20" fill="rgb(30,30,30)" stroke="none" stroke-width="0.8" rx="0" />
<rect x="438.24" y="51.25" width="1.30" height="2.60" fill="rgb(30,30,30)" stroke="none" stroke-width="0.8" rx="0" />
<rect x="459.70" y="51.25" width="1.30" height="2.60" fill="rgb(30,30,30)" stroke="none" stroke-width="0.8" rx="0" />
<rect x="460.91" y="51.25" width="1.30" height="2.60" fill="rgb(60,60,60)" stroke="none" stroke-width="0.8" rx="0" />
<rect x="476.59" y="51.25" width="1.30" height="2.60" fill="rgb(10,10,10)" stroke="none" stroke-width="0.8" rx="0" />
<rect x="477.98" y="51.25" width="1.30" height="2.60" fill="rgb(10,10,10)" stroke="none" stroke-width="0.8" rx="0" />
<rect x="491.50" y="51.25" width="1.30" height="2.60" fill="rgb(60,60,60)" stroke="none" stroke-width="0.8" rx="0" />
<rect x="480.36" y="54.20" width="0.70" height="2.20" fill="rgb(80,80,80)" stroke="none" stroke-width="0.8" rx="0" />
<rect x="496.92" y="54.20" width="0.70" height="2.20" fill="rgb(170,170,170)" stroke="none" stroke-width="0.8" rx="0" />
<rect x="439.29" y="54.20" width="0.70" height="2.20" fill="rgb(30,30,30)" stroke="none" stroke-width="0.8" rx="0" />
<rect x="453.73" y="54.20" width="0.70" height="2.20" fill="rgb(170,170,170)" stroke="none" stroke-width="0.8" rx="0" />
<rect x="433.07" y="54.20" width="0.70" height="2.20" fill="rgb(130,130,130)" stroke="none" stroke-width="0.8" rx="0" />
<rect x="431.80" y="54.20" width="0.70" height="2.20" fill="rgb(30,30,30)" stroke="none" stroke-width="0.8" rx="0" />
<rect x="455.40" y="54.20" width="0.70" height="2.20" fill="rgb(30,30,30)" stroke="none" stroke-width="0.8" rx="0" />
<rect x="480.49" y="54.20" width="0.70" height="2.20" fill="rgb(130,130,130)" stroke="none" stroke-width="0.8" rx="0" />
<rect x="438.02" y="54.40" width="1.30" height="2.60" fill="rgb(30,30,30)" stroke="none" stroke-width="0.8" rx="0" />
<rect x="439.03" y="54.40" width="1.30" height="2.60" fill="rgb(10,10,10)" stroke="none" stroke-width="0.8" rx="0" />
<rect x="461.40" y="54.40" width="1.30" height="2.60" fill="rgb(60,60,60)" stroke="none" stroke-width="0.8" rx="0" />
<rect x="460.08" y="54.40" width="1.30" height="2.60" fill="rgb(30,30,30)" stroke="none" stroke-width="0.8" rx="0" />
<rect x="478.13" y="54.40" width="1.30" height="2.60" fill="rgb(10,10,10)" stroke="none" stroke-width="0.8" rx="0" />
<rect x="477.69" y="54.40" width="1.30" height="2.60" fill="rgb(30,30,30)" stroke="none" stroke-width="0.8" rx="0" />
<rect x="490.82" y="54.40" width="1.30" height="2.60" fill="rgb(30,30,30)" stroke="none" stroke-width="0.8" rx="0" />
<rect x="491.83" y="54.40" width="1.30" height="2.60" fill="rgb(60,60,60)" stroke="none" stroke-width="0.8" rx="0" />
<rect x="475.10" y="57.35" width="0.70" height="2.20" fill="rgb(30,30,30)" stroke="none" stroke-width="0.8" rx="0" />
<rect x="492.99" y="57.35" width="0.70" height="2.20" fill="rgb(170,170,170)" stroke="none" stroke-width="0.8" rx="0" />
<rect x="459.81" y="57.35" width="0.70" height="2.20" fill="rgb(170,170,170)" stroke="none" stroke-width="0.8" rx="0" />
<rect x="492.08" y="57.35" width="0.70" height="2.20" fill="rgb(30,30,30)" stroke="none" stroke-width="0.8" rx="0" />
<rect x="489.80" y="57.35" width="0.70" height="2.20" fill="rgb(130,130,130)" stroke="none" stroke-width="0.8" rx="0" />
<rect x="439.38" y="57.55" width="1.30" height="2.60" fill="rgb(10,10,10)" stroke="none" stroke-width="0.8" rx="0" />
<rect x="438.85" y="57.55" width="1.30" height="2.60" fill="rgb(60,60,60)" stroke="none" stroke-width="0.8" rx="0" />
<rect x="459.90" y="57.55" width="1.30" height="2.60" fill="rgb(10,10,10)" stroke="none" stroke-width="0.8" rx="0" />
<rect x="476.68" y="57.55" width="1.30" height="2.60" fill="rgb(60,60,60)" stroke="none" stroke-width="0.8" rx="0" />
<rect x="491.66" y="57.55" width="1.30" height="2.60" fill="rgb(60,60,60)" stroke="none" stroke-width="0.8" rx="0" />
<rect x="435.30" y="19.00" width="8.30" height="44.00" fill="none" stroke="#4674b0" stroke-width="0.9" rx="3.5" />
<rect x="456.30" y="19.00" width="8.80" height="44.00" fill="none" stroke="#4674b0" stroke-width="0.9" rx="3.5" />
<rect x="473.40" y="19.00" width="8.00" height="44.00" fill="none" stroke="#4674b0" stroke-width="0.9" rx="3.5" />
<rect x="487.70" y="19.00" width="8.50" height="44.00" fill="none" stroke="#4674b0" stroke-width="0.9" rx="3.5" />
<path d="M423.9,9.8 V7.1 H502.8 V9.8" stroke="#62b672" stroke-width="0.7" fill="none"/>
<text x="464.50" y="5.60" font-size="6.4" font-weight="bold" font-style="normal" fill="#444" text-anchor="middle" textLength="12.5" lengthAdjust="spacingAndGlyphs"  stroke="#444" stroke-width="0.0">MFR</text>
<text x="426.20" y="16.20" font-size="6.5" font-weight="bold" font-style="normal" fill="#222" text-anchor="start" textLength="12.5" lengthAdjust="spacingAndGlyphs"  stroke="#222" stroke-width="0.0">PRS</text>
<text x="468.40" y="16.20" font-size="6.5" font-weight="bold" font-style="normal" fill="#222" text-anchor="middle" textLength="12.5" lengthAdjust="spacingAndGlyphs"  stroke="#222" stroke-width="0.0">NIBI</text>
<text x="492.70" y="16.20" font-size="6.5" font-weight="bold" font-style="normal" fill="#222" text-anchor="middle" textLength="12.5" lengthAdjust="spacingAndGlyphs"  stroke="#222" stroke-width="0.0">NBR</text>
<line x1="427.20" y1="18.00" x2="429.60" y2="18.00" stroke="#3db04d" stroke-width="0.6" />
<polygon points="430.20000000000005,18 429.0,17.2 429.0,18.8" fill="#3db04d"/>
<polygon points="426.59999999999997,18 427.8,17.2 427.8,18.8" fill="#3db04d"/>
<line x1="430.50" y1="18.00" x2="433.50" y2="18.00" stroke="#3db04d" stroke-width="0.6" />
<polygon points="434.1,18 432.9,17.2 432.9,18.8" fill="#3db04d"/>
<polygon points="429.9,18 431.1,17.2 431.1,18.8" fill="#3db04d"/>
<line x1="464.00" y1="17.80" x2="473.40" y2="17.80" stroke="#2f5f9e" stroke-width="0.7" />
<polygon points="464.0,17.8 466.0,16.6 466.0,19.0" fill="#2f5f9e"/>
<polygon points="473.4,17.8 471.4,16.6 471.4,19.0" fill="#2f5f9e"/>
<line x1="444.00" y1="65.50" x2="455.60" y2="65.50" stroke="#2f5f9e" stroke-width="0.7" />
<polygon points="444.0,65.5 446.0,64.3 446.0,66.7" fill="#2f5f9e"/>
<polygon points="455.6,65.5 453.6,64.3 453.6,66.7" fill="#2f5f9e"/>
<line x1="464.50" y1="65.50" x2="473.40" y2="65.50" stroke="#2f5f9e" stroke-width="0.7" />
<polygon points="464.5,65.5 466.5,64.3 466.5,66.7" fill="#2f5f9e"/>
<polygon points="473.4,65.5 471.4,64.3 471.4,66.7" fill="#2f5f9e"/>
<line x1="444.00" y1="63.00" x2="444.00" y2="68.00" stroke="#2f5f9e" stroke-width="0.5" />
<line x1="455.60" y1="63.00" x2="455.60" y2="68.00" stroke="#2f5f9e" stroke-width="0.5" />
<line x1="464.50" y1="63.00" x2="464.50" y2="68.00" stroke="#2f5f9e" stroke-width="0.5" />
<line x1="473.40" y1="63.00" x2="473.40" y2="68.00" stroke="#2f5f9e" stroke-width="0.5" />
<text x="448.5" y="73.5" font-size="7.2" font-weight="bold" fill="#222" stroke="#222" stroke-width="0.0">CV<tspan font-size="4.5" dy="1.8">NIBI</tspan></text>
<line x1="484.00" y1="65.50" x2="501.00" y2="65.50" stroke="#666" stroke-width="0.5" />
<polygon points="502,65.5 500,64.6 500,66.4" fill="#666"/>
<text x="484.50" y="73.20" font-size="8.0" font-weight="normal" font-style="normal" fill="#222" text-anchor="start" textLength="14" lengthAdjust="spacingAndGlyphs"  stroke="#222" stroke-width="0.12">time</text>
<text x="1.50" y="93.00" font-size="8.5" font-weight="bold" font-style="normal" fill="#222" text-anchor="start"  stroke="#222" stroke-width="0.0">C</text>
<text x="34.00" y="107.00" font-size="8.2" font-weight="bold" font-style="normal" fill="#222" text-anchor="start" textLength="27" lengthAdjust="spacingAndGlyphs"  stroke="#222" stroke-width="0.0">Control</text>
<text x="140.30" y="107.00" font-size="8.2" font-weight="bold" font-style="normal" fill="#a02828" text-anchor="start" textLength="20" lengthAdjust="spacingAndGlyphs"  stroke="#a02828" stroke-width="0.0">KdVS</text>
<text x="278.70" y="107.00" font-size="8.2" font-weight="bold" font-style="normal" fill="#222" text-anchor="start" textLength="27" lengthAdjust="spacingAndGlyphs"  stroke="#222" stroke-width="0.0">Control</text>
<text x="384.60" y="107.00" font-size="8.2" font-weight="bold" font-style="normal" fill="#a02828" text-anchor="start" textLength="20" lengthAdjust="spacingAndGlyphs"  stroke="#a02828" stroke-width="0.0">KdVS</text>
<text font-size="8.2" font-weight="bold" fill="#222" text-anchor="middle" transform="translate(25.2,142.5) rotate(-90)" textLength="22" lengthAdjust="spacingAndGlyphs" stroke="#222" stroke-width="0.0">DIV23</text>
<text font-size="8.2" font-weight="bold" fill="#222" text-anchor="middle" transform="translate(272.0,142.5) rotate(-90)" textLength="22" lengthAdjust="spacingAndGlyphs" stroke="#222" stroke-width="0.0">DIV30</text>
<line x1="32.00" y1="117.70" x2="130.00" y2="117.70" stroke="#d4d4d4" stroke-width="0.6" />
<line x1="32.00" y1="122.58" x2="130.00" y2="122.58" stroke="#d4d4d4" stroke-width="0.6" />
<line x1="32.00" y1="127.46" x2="130.00" y2="127.46" stroke="#d4d4d4" stroke-width="0.6" />
<line x1="32.00" y1="132.34" x2="130.00" y2="132.34" stroke="#d4d4d4" stroke-width="0.6" />
<line x1="32.00" y1="137.22" x2="130.00" y2="137.22" stroke="#d4d4d4" stroke-width="0.6" />
<line x1="32.00" y1="142.10" x2="130.00" y2="142.10" stroke="#d4d4d4" stroke-width="0.6" />
<line x1="32.00" y1="146.98" x2="130.00" y2="146.98" stroke="#d4d4d4" stroke-width="0.6" />
<line x1="32.00" y1="151.86" x2="130.00" y2="151.86" stroke="#d4d4d4" stroke-width="0.6" />
<line x1="32.00" y1="156.74" x2="130.00" y2="156.74" stroke="#d4d4d4" stroke-width="0.6" />
<line x1="32.00" y1="161.62" x2="130.00" y2="161.62" stroke="#d4d4d4" stroke-width="0.6" />
<line x1="32.00" y1="166.50" x2="130.00" y2="166.50" stroke="#d4d4d4" stroke-width="0.6" />
<line x1="32.00" y1="171.38" x2="130.00" y2="171.38" stroke="#d4d4d4" stroke-width="0.6" />
<path d="M38.3,114.3h0.8v3.4h-0.8zM58.4,124.1h0.8v3.4h-0.8zM76.6,138.7h0.8v3.4h-0.8zM118.3,148.5h0.8v3.4h-0.8z" fill="rgb(150,150,150)"/>
<path d="M67.0,114.3h0.9v3.4h-0.9zM69.8,114.3h0.9v3.4h-0.9zM109.5,114.3h0.7v3.4h-0.7zM64.3,119.2h0.9v3.4h-0.9zM74.3,124.1h0.9v3.4h-0.9zM99.2,124.1h0.9v3.4h-0.9zM58.1,128.9h0.9v3.4h-0.9zM122.0,128.9h0.9v3.4h-0.9zM48.0,128.9h2.3v3.4h-2.3zM88.5,128.9h1.3v3.4h-1.3zM87.9,138.7h2.2v3.4h-2.2zM36.2,143.6h0.9v3.4h-0.9zM74.3,143.6h0.9v3.4h-0.9zM115.8,143.6h0.9v3.4h-0.9zM47.7,148.5h1.5v3.4h-1.5zM88.4,148.5h1.7v3.4h-1.7zM36.2,158.2h0.9v3.4h-0.9zM77.0,158.2h0.9v3.4h-0.9zM112.0,158.2h0.9v3.4h-0.9zM88.0,158.2h1.3v3.4h-1.3zM47.9,163.1h1.9v3.4h-1.9zM87.9,168.0h1.5v3.4h-1.5z" fill="rgb(40,40,40)"/>
<path d="M73.9,114.3h0.9v3.4h-0.9zM55.4,124.1h0.9v3.4h-0.9zM73.2,128.9h0.9v3.4h-0.9zM70.5,133.8h1.1v3.4h-1.1zM75.3,133.8h0.9v3.4h-0.9zM82.8,133.8h0.9v3.4h-0.9zM112.0,133.8h1.0v3.4h-1.0zM118.3,133.8h0.9v3.4h-0.9zM100.5,158.2h0.9v3.4h-0.9zM124.7,158.2h0.9v3.4h-0.9zM73.2,168.0h1.0v3.4h-1.0zM115.3,168.0h1.2v3.4h-1.2z" fill="rgb(20,20,20)"/>
<path d="M98.0,114.3h1.1v3.4h-1.1zM34.2,128.9h0.7v3.4h-0.7zM35.2,128.9h0.7v3.4h-0.7zM70.9,158.2h0.7v3.4h-0.7z" fill="rgb(140,140,140)"/>
<path d="M99.5,114.3h1.2v3.4h-1.2zM125.3,114.3h0.7v3.4h-0.7zM38.3,133.8h1.3v3.4h-1.3zM71.6,153.3h0.8v3.4h-0.8z" fill="rgb(180,180,180)"/>
<path d="M48.2,114.3h2.0v3.4h-2.0zM47.8,119.2h1.4v3.4h-1.4zM88.3,119.2h1.8v3.4h-1.8zM48.3,124.1h2.1v3.4h-2.1zM48.3,133.8h2.1v3.4h-2.1zM88.0,133.8h1.8v3.4h-1.8zM48.1,138.7h1.7v3.4h-1.7zM48.2,143.6h1.9v3.4h-1.9zM88.3,143.6h1.8v3.4h-1.8zM47.8,158.2h2.3v3.4h-2.3zM88.2,163.1h1.6v3.4h-1.6zM48.3,168.0h1.6v3.4h-1.6z" fill="rgb(10,10,10)"/>
<path d="M46.1,114.3h0.8v3.4h-0.8zM51.3,128.9h0.8v3.4h-0.8zM46.0,143.6h0.8v3.4h-0.8zM51.6,153.3h0.8v3.4h-0.8z" fill="rgb(60,60,60)"/>
<path d="M88.1,114.3h1.7v3.4h-1.7zM88.5,124.1h2.0v3.4h-2.0zM47.9,153.3h1.4v3.4h-1.4zM88.3,153.3h1.9v3.4h-1.9z" fill="rgb(25,25,25)"/>
<path d="M36.0,128.9h0.7v3.4h-0.7zM69.8,158.2h1.0v3.4h-1.0z" fill="rgb(100,100,100)"/>
<path d="M86.1,143.6h0.8v3.4h-0.8zM45.6,168.0h0.8v3.4h-0.8z" fill="rgb(120,120,120)"/>
<path d="M81.4,158.2h0.9v3.4h-0.9zM113.0,168.0h1.2v3.4h-1.2zM117.5,168.0h0.8v3.4h-0.8z" fill="rgb(170,170,170)"/>
<path d="M82.6,158.2h0.9v3.4h-0.9z" fill="rgb(130,130,130)"/>
<rect x="43.30" y="112.10" width="10.30" height="62.08" fill="none" stroke="#333" stroke-width="1.1" rx="2.2" />
<rect x="83.50" y="112.10" width="10.30" height="62.08" fill="none" stroke="#333" stroke-width="1.1" rx="2.2" />
<line x1="32.00" y1="176.48" x2="42.70" y2="176.48" stroke="#222" stroke-width="0.9" />
<text x="31.70" y="184.58" font-size="7.2" font-weight="normal" font-style="normal" fill="#222" text-anchor="start" textLength="12.2" lengthAdjust="spacingAndGlyphs"  stroke="#222" stroke-width="0.12">10 s</text>
<line x1="140.30" y1="117.70" x2="236.00" y2="117.70" stroke="#d4d4d4" stroke-width="0.6" />
<line x1="140.30" y1="122.58" x2="236.00" y2="122.58" stroke="#d4d4d4" stroke-width="0.6" />
<line x1="140.30" y1="127.46" x2="236.00" y2="127.46" stroke="#d4d4d4" stroke-width="0.6" />
<line x1="140.30" y1="132.34" x2="236.00" y2="132.34" stroke="#d4d4d4" stroke-width="0.6" />
<line x1="140.30" y1="137.22" x2="236.00" y2="137.22" stroke="#d4d4d4" stroke-width="0.6" />
<line x1="140.30" y1="142.10" x2="236.00" y2="142.10" stroke="#d4d4d4" stroke-width="0.6" />
<line x1="140.30" y1="146.98" x2="236.00" y2="146.98" stroke="#d4d4d4" stroke-width="0.6" />
<line x1="140.30" y1="151.86" x2="236.00" y2="151.86" stroke="#d4d4d4" stroke-width="0.6" />
<line x1="140.30" y1="156.74" x2="236.00" y2="156.74" stroke="#d4d4d4" stroke-width="0.6" />
<line x1="140.30" y1="161.62" x2="236.00" y2="161.62" stroke="#d4d4d4" stroke-width="0.6" />
<line x1="140.30" y1="166.50" x2="236.00" y2="166.50" stroke="#d4d4d4" stroke-width="0.6" />
<line x1="140.30" y1="171.38" x2="236.00" y2="171.38" stroke="#d4d4d4" stroke-width="0.6" />
<path d="M152.2,114.3h0.7v3.4h-0.7zM159.1,114.3h0.7v3.4h-0.7zM174.5,114.3h0.7v3.4h-0.7zM183.7,114.3h0.7v3.4h-0.7zM211.4,114.3h0.7v3.4h-0.7zM188.6,119.2h0.9v3.4h-0.9zM195.7,119.2h1.0v3.4h-1.0zM198.7,119.2h0.7v3.4h-0.7zM200.1,119.2h0.8v3.4h-0.8zM151.1,124.1h0.7v3.4h-0.7zM159.8,124.1h0.7v3.4h-0.7zM187.2,124.1h0.7v3.4h-0.7zM151.3,128.9h0.7v3.4h-0.7zM164.4,128.9h0.8v3.4h-0.8zM165.8,128.9h1.1v3.4h-1.1zM173.2,128.9h1.3v3.4h-1.3zM192.3,128.9h0.7v3.4h-0.7zM143.4,133.8h1.4v3.4h-1.4zM145.1,133.8h0.8v3.4h-0.8zM148.0,133.8h1.0v3.4h-1.0zM154.2,133.8h1.4v3.4h-1.4zM178.2,133.8h0.7v3.4h-0.7zM178.4,133.8h0.7v3.4h-0.7zM171.8,133.8h0.7v3.4h-0.7zM188.6,133.8h1.1v3.4h-1.1zM193.8,133.8h1.3v3.4h-1.3zM197.5,133.8h0.9v3.4h-0.9zM143.0,138.7h1.1v3.4h-1.1zM155.0,138.7h1.2v3.4h-1.2zM192.5,138.7h1.3v3.4h-1.3zM201.6,138.7h0.7v3.4h-0.7zM202.4,138.7h1.4v3.4h-1.4zM210.9,138.7h0.7v3.4h-0.7zM233.0,138.7h1.0v3.4h-1.0zM149.3,143.6h0.7v3.4h-0.7zM195.4,148.5h0.7v3.4h-0.7zM185.1,153.3h0.7v3.4h-0.7zM211.1,153.3h1.0v3.4h-1.0zM231.7,153.3h1.3v3.4h-1.3zM156.1,158.2h0.7v3.4h-0.7zM151.4,158.2h0.7v3.4h-0.7zM173.3,158.2h0.9v3.4h-0.9zM144.7,163.1h0.6v3.4h-0.6zM151.5,163.1h1.2v3.4h-1.2zM201.3,163.1h0.7v3.4h-0.7zM204.8,163.1h0.8v3.4h-0.8zM206.6,163.1h0.8v3.4h-0.8zM214.0,163.1h0.7v3.4h-0.7z" fill="rgb(90,90,90)"/>
<path d="M164.0,114.3h0.7v3.4h-0.7zM159.4,124.1h0.7v3.4h-0.7zM178.6,124.1h0.7v3.4h-0.7zM152.7,128.9h0.7v3.4h-0.7zM201.3,128.9h0.7v3.4h-0.7zM193.9,128.9h0.7v3.4h-0.7zM188.7,128.9h0.7v3.4h-0.7zM220.5,128.9h3.1v3.4h-3.1zM213.4,133.8h0.7v3.4h-0.7zM234.3,133.8h0.7v3.4h-0.7zM162.1,138.7h0.8v3.4h-0.8zM167.8,138.7h1.7v3.4h-1.7zM172.4,138.7h1.2v3.4h-1.2zM173.8,138.7h1.3v3.4h-1.3zM179.9,138.7h0.9v3.4h-0.9zM181.3,138.7h1.4v3.4h-1.4zM213.8,138.7h0.7v3.4h-0.7zM220.7,143.6h3.1v3.4h-3.1zM173.5,148.5h0.7v3.4h-0.7zM195.5,148.5h0.7v3.4h-0.7zM171.9,153.3h0.7v3.4h-0.7zM220.5,153.3h2.5v3.4h-2.5zM184.5,158.2h0.7v3.4h-0.7zM188.7,158.2h0.7v3.4h-0.7zM205.5,158.2h1.4v3.4h-1.4zM209.1,158.2h1.7v3.4h-1.7zM212.7,158.2h1.6v3.4h-1.6zM214.7,158.2h1.2v3.4h-1.2zM171.1,163.1h0.7v3.4h-0.7zM185.4,163.1h0.7v3.4h-0.7zM220.4,163.1h2.5v3.4h-2.5z" fill="rgb(40,40,40)"/>
<path d="M191.4,114.3h0.7v3.4h-0.7zM200.0,114.3h0.7v3.4h-0.7zM209.8,114.3h0.7v3.4h-0.7zM167.1,119.2h0.7v3.4h-0.7zM176.4,119.2h0.6v3.4h-0.6zM207.1,119.2h0.7v3.4h-0.7zM191.2,124.1h0.7v3.4h-0.7zM210.0,128.9h0.7v3.4h-0.7zM169.4,133.8h0.7v3.4h-0.7zM230.3,133.8h0.7v3.4h-0.7zM144.9,143.6h0.7v3.4h-0.7zM162.6,143.6h0.7v3.4h-0.7zM210.4,143.6h1.1v3.4h-1.1zM213.0,143.6h1.1v3.4h-1.1zM145.1,158.2h0.7v3.4h-0.7zM186.5,158.2h0.7v3.4h-0.7zM188.3,163.1h0.7v3.4h-0.7z" fill="rgb(180,180,180)"/>
<path d="M220.4,114.3h2.7v3.4h-2.7zM220.5,119.2h2.8v3.4h-2.8zM220.0,133.8h2.4v3.4h-2.4zM220.7,138.7h2.3v3.4h-2.3zM220.6,148.5h2.6v3.4h-2.6z" fill="rgb(25,25,25)"/>
<path d="M218.7,114.3h0.8v3.4h-0.8zM224.4,124.1h0.8v3.4h-0.8zM218.4,133.8h0.8v3.4h-0.8zM219.2,158.2h0.8v3.4h-0.8zM224.0,168.0h0.8v3.4h-0.8z" fill="rgb(60,60,60)"/>
<path d="M174.6,119.2h1.0v3.4h-1.0zM207.4,143.6h0.7v3.4h-0.7zM208.9,143.6h0.8v3.4h-0.8zM214.3,143.6h1.1v3.4h-1.1z" fill="rgb(100,100,100)"/>
<path d="M187.3,119.2h0.8v3.4h-0.8zM190.7,119.2h1.4v3.4h-1.4zM192.3,119.2h1.4v3.4h-1.4zM196.8,119.2h0.6v3.4h-0.6zM198.0,119.2h0.7v3.4h-0.7zM167.9,128.9h1.0v3.4h-1.0zM149.8,133.8h1.0v3.4h-1.0zM190.0,133.8h1.1v3.4h-1.1zM191.9,133.8h1.1v3.4h-1.1zM141.5,138.7h1.2v3.4h-1.2zM148.6,138.7h1.3v3.4h-1.3zM164.6,138.7h0.9v3.4h-0.9zM165.9,138.7h1.5v3.4h-1.5zM188.6,138.7h1.3v3.4h-1.3zM234.8,138.7h1.3v3.4h-1.3zM141.6,153.3h1.0v3.4h-1.0zM201.3,153.3h1.1v3.4h-1.1zM228.1,153.3h1.1v3.4h-1.1zM229.9,153.3h1.3v3.4h-1.3zM235.2,153.3h1.0v3.4h-1.0zM170.1,158.2h1.0v3.4h-1.0zM195.0,158.2h1.3v3.4h-1.3zM198.6,158.2h1.8v3.4h-1.8zM200.7,158.2h1.7v3.4h-1.7zM202.7,158.2h0.9v3.4h-0.9zM204.0,158.2h1.0v3.4h-1.0zM140.3,163.1h0.8v3.4h-0.8zM146.4,163.1h1.1v3.4h-1.1zM147.7,163.1h1.3v3.4h-1.3zM152.8,163.1h1.3v3.4h-1.3zM158.7,163.1h1.4v3.4h-1.4zM160.4,163.1h1.0v3.4h-1.0zM208.3,163.1h0.8v3.4h-0.8z" fill="rgb(20,20,20)"/>
<path d="M194.4,119.2h1.2v3.4h-1.2zM171.2,128.9h0.7v3.4h-0.7zM155.8,133.8h1.3v3.4h-1.3zM146.1,138.7h1.3v3.4h-1.3zM153.4,138.7h1.2v3.4h-1.2zM156.8,138.7h0.8v3.4h-0.8zM195.9,138.7h0.7v3.4h-0.7zM198.3,138.7h1.2v3.4h-1.2zM228.1,138.7h0.8v3.4h-0.8zM231.8,138.7h0.9v3.4h-0.9zM140.3,153.3h1.0v3.4h-1.0zM208.0,153.3h0.8v3.4h-0.8zM233.7,153.3h0.8v3.4h-0.8zM172.0,158.2h0.8v3.4h-0.8zM174.5,158.2h1.1v3.4h-1.1zM176.3,158.2h1.0v3.4h-1.0zM143.5,163.1h0.9v3.4h-0.9zM149.9,163.1h1.2v3.4h-1.2zM154.4,163.1h1.2v3.4h-1.2zM202.9,163.1h1.3v3.4h-1.3zM209.3,163.1h0.9v3.4h-0.9zM212.2,163.1h1.3v3.4h-1.3z" fill="rgb(170,170,170)"/>
<path d="M218.5,119.2h0.8v3.4h-0.8zM218.9,138.7h0.8v3.4h-0.8zM224.6,138.7h0.8v3.4h-0.8zM219.3,143.6h0.8v3.4h-0.8zM224.3,143.6h0.8v3.4h-0.8zM218.6,153.3h0.8v3.4h-0.8zM224.1,153.3h0.8v3.4h-0.8zM218.5,163.1h0.8v3.4h-0.8zM218.8,168.0h0.8v3.4h-0.8z" fill="rgb(120,120,120)"/>
<path d="M207.3,124.1h0.7v3.4h-0.7zM149.2,128.9h0.7v3.4h-0.7zM198.1,128.9h0.7v3.4h-0.7zM213.3,133.8h0.7v3.4h-0.7zM179.6,143.6h0.7v3.4h-0.7zM173.9,143.6h0.7v3.4h-0.7zM194.7,143.6h0.7v3.4h-0.7zM197.5,148.5h0.7v3.4h-0.7zM151.4,158.2h0.7v3.4h-0.7zM154.7,158.2h0.7v3.4h-0.7zM183.6,163.1h0.7v3.4h-0.7zM188.6,163.1h0.7v3.4h-0.7zM188.2,163.1h0.7v3.4h-0.7zM176.0,163.1h0.7v3.4h-0.7zM189.5,163.1h0.7v3.4h-0.7zM186.5,163.1h0.7v3.4h-0.7zM188.6,163.1h0.7v3.4h-0.7z" fill="rgb(140,140,140)"/>
<path d="M220.1,124.1h2.5v3.4h-2.5zM163.5,138.7h0.9v3.4h-0.9zM170.9,138.7h1.1v3.4h-1.1zM175.3,138.7h1.6v3.4h-1.6zM196.4,158.2h1.8v3.4h-1.8zM211.2,158.2h1.4v3.4h-1.4zM220.7,158.2h2.8v3.4h-2.8zM220.6,168.0h2.8v3.4h-2.8z" fill="rgb(10,10,10)"/>
<path d="M170.0,128.9h1.0v3.4h-1.0zM140.3,133.8h0.8v3.4h-0.8zM147.0,133.8h0.8v3.4h-0.8zM151.5,133.8h0.9v3.4h-0.9zM152.8,133.8h0.9v3.4h-0.9zM195.4,133.8h1.0v3.4h-1.0zM140.3,138.7h1.0v3.4h-1.0zM151.9,138.7h0.8v3.4h-0.8zM190.7,138.7h1.2v3.4h-1.2zM196.7,138.7h0.8v3.4h-0.8zM205.8,153.3h1.0v3.4h-1.0zM209.1,153.3h0.8v3.4h-0.8zM212.5,153.3h0.8v3.4h-0.8zM214.1,153.3h0.7v3.4h-0.7zM167.0,158.2h1.1v3.4h-1.1zM168.7,158.2h1.0v3.4h-1.0zM156.6,163.1h1.4v3.4h-1.4zM210.3,163.1h0.6v3.4h-0.6zM211.5,163.1h0.6v3.4h-0.6z" fill="rgb(50,50,50)"/>
<path d="M172.5,128.9h0.6v3.4h-0.6zM175.4,128.9h1.0v3.4h-1.0zM142.1,133.8h1.3v3.4h-1.3zM158.0,133.8h1.3v3.4h-1.3zM144.4,138.7h0.7v3.4h-0.7zM150.7,138.7h0.8v3.4h-0.8zM194.2,138.7h0.8v3.4h-0.8zM200.1,138.7h0.9v3.4h-0.9zM226.8,138.7h1.2v3.4h-1.2zM229.7,138.7h1.1v3.4h-1.1zM143.3,153.3h0.8v3.4h-0.8zM203.2,153.3h0.9v3.4h-0.9zM204.1,153.3h1.2v3.4h-1.2zM177.4,158.2h1.3v3.4h-1.3zM142.2,163.1h1.1v3.4h-1.1zM145.7,163.1h0.6v3.4h-0.6zM161.7,163.1h1.4v3.4h-1.4z" fill="rgb(130,130,130)"/>
<path d="M159.4,138.7h1.3v3.4h-1.3zM160.9,138.7h1.0v3.4h-1.0zM170.0,138.7h0.9v3.4h-0.9zM177.3,138.7h1.3v3.4h-1.3zM178.7,138.7h0.9v3.4h-0.9zM206.9,158.2h0.8v3.4h-0.8zM207.9,158.2h1.2v3.4h-1.2z" fill="rgb(70,70,70)"/>
<path d="M206.4,143.6h0.8v3.4h-0.8z" fill="rgb(200,200,200)"/>
<rect x="216.00" y="112.10" width="11.00" height="62.08" fill="none" stroke="#a32a2a" stroke-width="1.1" rx="2.2" />
<line x1="140.30" y1="176.48" x2="151.00" y2="176.48" stroke="#222" stroke-width="0.9" />
<text x="140.00" y="184.58" font-size="7.2" font-weight="normal" font-style="normal" fill="#222" text-anchor="start" textLength="12.2" lengthAdjust="spacingAndGlyphs"  stroke="#222" stroke-width="0.12">10 s</text>
<line x1="278.40" y1="117.70" x2="374.60" y2="117.70" stroke="#d4d4d4" stroke-width="0.6" />
<line x1="278.40" y1="122.58" x2="374.60" y2="122.58" stroke="#d4d4d4" stroke-width="0.6" />
<line x1="278.40" y1="127.46" x2="374.60" y2="127.46" stroke="#d4d4d4" stroke-width="0.6" />
<line x1="278.40" y1="132.34" x2="374.60" y2="132.34" stroke="#d4d4d4" stroke-width="0.6" />
<line x1="278.40" y1="137.22" x2="374.60" y2="137.22" stroke="#d4d4d4" stroke-width="0.6" />
<line x1="278.40" y1="142.10" x2="374.60" y2="142.10" stroke="#d4d4d4" stroke-width="0.6" />
<line x1="278.40" y1="146.98" x2="374.60" y2="146.98" stroke="#d4d4d4" stroke-width="0.6" />
<line x1="278.40" y1="151.86" x2="374.60" y2="151.86" stroke="#d4d4d4" stroke-width="0.6" />
<line x1="278.40" y1="156.74" x2="374.60" y2="156.74" stroke="#d4d4d4" stroke-width="0.6" />
<line x1="278.40" y1="161.62" x2="374.60" y2="161.62" stroke="#d4d4d4" stroke-width="0.6" />
<line x1="278.40" y1="166.50" x2="374.60" y2="166.50" stroke="#d4d4d4" stroke-width="0.6" />
<line x1="278.40" y1="171.38" x2="374.60" y2="171.38" stroke="#d4d4d4" stroke-width="0.6" />
<path d="M280.5,114.3h0.7v3.4h-0.7zM281.1,114.3h0.7v3.4h-0.7zM309.3,114.3h0.7v3.4h-0.7zM310.2,119.2h0.7v3.4h-0.7zM331.8,124.1h0.7v3.4h-0.7zM351.4,124.1h0.7v3.4h-0.7zM369.2,128.9h0.7v3.4h-0.7zM284.0,133.8h0.7v3.4h-0.7zM333.8,133.8h0.7v3.4h-0.7zM354.4,138.7h0.7v3.4h-0.7zM280.4,143.6h0.6v3.4h-0.6zM282.5,143.6h1.0v3.4h-1.0zM315.1,143.6h0.7v3.4h-0.7zM315.4,153.3h0.7v3.4h-0.7zM353.7,153.3h0.7v3.4h-0.7zM336.3,163.1h0.7v3.4h-0.7zM374.6,168.0h0.7v3.4h-0.7z" fill="rgb(180,180,180)"/>
<path d="M286.2,114.3h0.7v3.4h-0.7zM332.7,128.9h0.7v3.4h-0.7zM288.0,133.8h0.7v3.4h-0.7zM285.7,138.7h0.7v3.4h-0.7zM311.6,138.7h0.7v3.4h-0.7zM334.9,138.7h1.2v3.4h-1.2zM313.5,143.6h0.7v3.4h-0.7zM331.0,143.6h0.7v3.4h-0.7zM331.8,143.6h0.7v3.4h-0.7zM283.0,153.3h0.8v3.4h-0.8zM288.5,153.3h0.9v3.4h-0.9zM334.0,153.3h0.7v3.4h-0.7zM290.5,158.2h1.3v3.4h-1.3zM302.1,158.2h1.1v3.4h-1.1zM331.3,158.2h1.2v3.4h-1.2z" fill="rgb(90,90,90)"/>
<path d="M295.4,114.3h2.3v3.4h-2.3zM343.3,119.2h2.0v3.4h-2.0zM322.1,128.9h2.0v3.4h-2.0zM343.4,128.9h2.4v3.4h-2.4zM322.3,133.8h2.2v3.4h-2.2zM342.9,133.8h1.6v3.4h-1.6zM343.3,138.7h1.5v3.4h-1.5zM363.2,138.7h2.0v3.4h-2.0zM295.5,143.6h2.1v3.4h-2.1zM343.3,143.6h1.6v3.4h-1.6zM363.1,143.6h2.2v3.4h-2.2zM295.8,148.5h1.9v3.4h-1.9zM295.8,153.3h2.3v3.4h-2.3zM362.5,153.3h2.1v3.4h-2.1zM295.6,158.2h2.1v3.4h-2.1zM322.2,158.2h1.6v3.4h-1.6zM362.6,158.2h2.4v3.4h-2.4zM342.8,163.1h2.2v3.4h-2.2zM362.7,163.1h2.2v3.4h-2.2z" fill="rgb(25,25,25)"/>
<path d="M321.9,114.3h2.4v3.4h-2.4zM343.1,114.3h1.7v3.4h-1.7zM295.3,119.2h2.2v3.4h-2.2zM362.8,119.2h2.0v3.4h-2.0zM322.1,124.1h1.7v3.4h-1.7zM362.5,124.1h2.4v3.4h-2.4zM362.6,128.9h2.5v3.4h-2.5zM322.5,143.6h1.7v3.4h-1.7zM342.8,148.5h2.1v3.4h-2.1zM362.9,148.5h2.3v3.4h-2.3zM295.1,163.1h2.4v3.4h-2.4zM322.2,168.0h2.0v3.4h-2.0zM363.0,168.0h1.9v3.4h-1.9z" fill="rgb(10,10,10)"/>
<path d="M346.0,114.3h0.8v3.4h-0.8zM360.8,114.3h0.8v3.4h-0.8zM340.6,119.2h0.8v3.4h-0.8zM346.0,119.2h0.8v3.4h-0.8zM360.4,119.2h0.8v3.4h-0.8zM340.9,124.1h0.8v3.4h-0.8zM361.2,128.9h0.8v3.4h-0.8zM293.3,133.8h0.8v3.4h-0.8zM341.2,133.8h0.8v3.4h-0.8zM366.2,133.8h0.8v3.4h-0.8zM325.2,138.7h0.8v3.4h-0.8zM360.8,143.6h0.8v3.4h-0.8zM298.5,153.3h0.8v3.4h-0.8zM365.9,158.2h0.8v3.4h-0.8zM320.0,163.1h0.8v3.4h-0.8zM325.3,163.1h0.8v3.4h-0.8zM360.5,168.0h0.8v3.4h-0.8z" fill="rgb(60,60,60)"/>
<path d="M363.0,114.3h1.8v3.4h-1.8zM286.0,119.2h0.7v3.4h-0.7zM322.5,119.2h2.3v3.4h-2.3zM295.4,124.1h1.6v3.4h-1.6zM343.1,124.1h2.0v3.4h-2.0zM295.4,128.9h1.7v3.4h-1.7zM286.1,133.8h0.7v3.4h-0.7zM316.4,133.8h0.7v3.4h-0.7zM329.7,133.8h0.7v3.4h-0.7zM352.1,133.8h0.7v3.4h-0.7zM295.8,133.8h1.9v3.4h-1.9zM363.0,133.8h2.3v3.4h-2.3zM307.0,138.7h0.7v3.4h-0.7zM295.8,138.7h1.6v3.4h-1.6zM321.9,138.7h1.5v3.4h-1.5zM308.7,143.6h0.7v3.4h-0.7zM371.1,148.5h0.7v3.4h-0.7zM322.5,148.5h2.0v3.4h-2.0zM322.3,153.3h2.2v3.4h-2.2zM342.8,153.3h1.7v3.4h-1.7zM343.3,158.2h1.5v3.4h-1.5zM290.6,163.1h0.7v3.4h-0.7zM313.5,163.1h0.7v3.4h-0.7zM322.3,163.1h2.0v3.4h-2.0zM280.9,168.0h0.7v3.4h-0.7zM318.1,168.0h1.4v3.4h-1.4zM295.2,168.0h1.7v3.4h-1.7zM343.0,168.0h2.4v3.4h-2.4z" fill="rgb(40,40,40)"/>
<path d="M366.3,114.3h0.8v3.4h-0.8zM325.7,119.2h0.8v3.4h-0.8zM360.5,124.1h0.8v3.4h-0.8zM293.5,128.9h0.8v3.4h-0.8zM360.7,133.8h0.8v3.4h-0.8zM293.0,138.7h0.8v3.4h-0.8zM366.5,138.7h0.8v3.4h-0.8zM346.5,143.6h0.8v3.4h-0.8zM298.4,148.5h0.8v3.4h-0.8zM346.4,148.5h0.8v3.4h-0.8zM366.2,148.5h0.8v3.4h-0.8zM293.7,153.3h0.8v3.4h-0.8zM366.4,153.3h0.8v3.4h-0.8zM293.0,158.2h0.8v3.4h-0.8zM325.7,158.2h0.8v3.4h-0.8zM346.4,163.1h0.8v3.4h-0.8zM360.3,163.1h0.8v3.4h-0.8zM298.6,168.0h0.8v3.4h-0.8z" fill="rgb(120,120,120)"/>
<path d="M373.6,119.2h0.7v3.4h-0.7zM313.6,128.9h0.7v3.4h-0.7zM310.9,138.7h0.7v3.4h-0.7zM286.3,143.6h0.6v3.4h-0.6zM317.7,148.5h0.7v3.4h-0.7zM356.0,158.2h0.7v3.4h-0.7z" fill="rgb(140,140,140)"/>
<path d="M278.4,128.9h1.0v3.4h-1.0zM283.7,128.9h1.3v3.4h-1.3zM350.4,128.9h1.0v3.4h-1.0zM352.1,128.9h0.6v3.4h-0.6zM356.1,128.9h1.3v3.4h-1.3zM281.7,138.7h1.1v3.4h-1.1zM333.5,138.7h1.2v3.4h-1.2zM337.0,138.7h0.7v3.4h-0.7zM338.8,138.7h1.3v3.4h-1.3zM290.0,153.3h1.0v3.4h-1.0zM284.6,158.2h1.4v3.4h-1.4zM332.7,158.2h1.2v3.4h-1.2z" fill="rgb(130,130,130)"/>
<path d="M279.9,128.9h1.2v3.4h-1.2zM280.2,138.7h1.4v3.4h-1.4zM287.8,138.7h0.9v3.4h-0.9zM290.4,138.7h0.8v3.4h-0.8zM331.3,138.7h1.2v3.4h-1.2zM284.4,153.3h0.8v3.4h-0.8zM285.4,153.3h0.7v3.4h-0.7zM283.0,158.2h0.6v3.4h-0.6zM283.8,158.2h0.9v3.4h-0.9zM288.2,158.2h1.2v3.4h-1.2zM304.4,158.2h1.4v3.4h-1.4zM310.6,158.2h0.6v3.4h-0.6zM311.3,158.2h1.2v3.4h-1.2zM335.7,158.2h1.3v3.4h-1.3z" fill="rgb(50,50,50)"/>
<path d="M281.8,128.9h1.3v3.4h-1.3zM355.0,128.9h0.8v3.4h-0.8zM283.8,138.7h1.1v3.4h-1.1zM286.7,158.2h0.7v3.4h-0.7zM307.8,158.2h0.9v3.4h-0.9zM309.0,158.2h0.7v3.4h-0.7zM334.8,158.2h0.7v3.4h-0.7zM337.2,158.2h1.2v3.4h-1.2z" fill="rgb(170,170,170)"/>
<path d="M285.8,128.9h1.0v3.4h-1.0zM287.8,128.9h1.0v3.4h-1.0zM353.1,128.9h0.7v3.4h-0.7zM278.4,138.7h1.3v3.4h-1.3zM286.9,138.7h0.6v3.4h-0.6zM289.0,138.7h1.3v3.4h-1.3zM286.7,153.3h1.3v3.4h-1.3zM306.4,158.2h1.2v3.4h-1.2zM313.2,158.2h1.0v3.4h-1.0zM314.8,158.2h1.0v3.4h-1.0z" fill="rgb(20,20,20)"/>
<path d="M284.4,143.6h1.0v3.4h-1.0zM288.3,143.6h1.1v3.4h-1.1zM290.0,143.6h0.6v3.4h-0.6z" fill="rgb(200,200,200)"/>
<path d="M316.1,168.0h1.6v3.4h-1.6z" fill="rgb(70,70,70)"/>
<rect x="290.60" y="112.10" width="11.00" height="62.08" fill="none" stroke="#333" stroke-width="1.1" rx="2.2" />
<rect x="317.30" y="112.10" width="11.00" height="62.08" fill="none" stroke="#333" stroke-width="1.1" rx="2.2" />
<rect x="338.50" y="112.10" width="10.50" height="62.08" fill="none" stroke="#333" stroke-width="1.1" rx="2.2" />
<rect x="358.00" y="112.10" width="11.00" height="62.08" fill="none" stroke="#333" stroke-width="1.1" rx="2.2" />
<line x1="278.40" y1="176.48" x2="289.10" y2="176.48" stroke="#222" stroke-width="0.9" />
<text x="278.10" y="184.58" font-size="7.2" font-weight="normal" font-style="normal" fill="#222" text-anchor="start" textLength="12.2" lengthAdjust="spacingAndGlyphs"  stroke="#222" stroke-width="0.12">10 s</text>
<line x1="384.80" y1="117.40" x2="481.50" y2="117.40" stroke="#d4d4d4" stroke-width="0.6" />
<line x1="384.80" y1="122.28" x2="481.50" y2="122.28" stroke="#d4d4d4" stroke-width="0.6" />
<line x1="384.80" y1="127.16" x2="481.50" y2="127.16" stroke="#d4d4d4" stroke-width="0.6" />
<line x1="384.80" y1="132.04" x2="481.50" y2="132.04" stroke="#d4d4d4" stroke-width="0.6" />
<line x1="384.80" y1="136.92" x2="481.50" y2="136.92" stroke="#d4d4d4" stroke-width="0.6" />
<line x1="384.80" y1="141.80" x2="481.50" y2="141.80" stroke="#d4d4d4" stroke-width="0.6" />
<line x1="384.80" y1="146.68" x2="481.50" y2="146.68" stroke="#d4d4d4" stroke-width="0.6" />
<line x1="384.80" y1="151.56" x2="481.50" y2="151.56" stroke="#d4d4d4" stroke-width="0.6" />
<line x1="384.80" y1="156.44" x2="481.50" y2="156.44" stroke="#d4d4d4" stroke-width="0.6" />
<line x1="384.80" y1="161.32" x2="481.50" y2="161.32" stroke="#d4d4d4" stroke-width="0.6" />
<line x1="384.80" y1="166.20" x2="481.50" y2="166.20" stroke="#d4d4d4" stroke-width="0.6" />
<line x1="384.80" y1="171.08" x2="481.50" y2="171.08" stroke="#d4d4d4" stroke-width="0.6" />
<path d="M389.0,114.0h0.7v3.4h-0.7zM386.5,118.9h0.7v3.4h-0.7zM444.0,118.9h0.7v3.4h-0.7zM456.8,118.9h0.7v3.4h-0.7zM421.2,123.8h0.7v3.4h-0.7zM417.3,123.8h0.7v3.4h-0.7zM451.4,123.8h0.7v3.4h-0.7zM447.7,123.8h0.7v3.4h-0.7zM432.2,138.4h0.7v3.4h-0.7zM454.2,138.4h0.7v3.4h-0.7zM442.9,143.3h1.1v3.4h-1.1zM456.7,143.3h1.0v3.4h-1.0zM458.7,143.3h0.8v3.4h-0.8zM460.3,143.3h0.7v3.4h-0.7zM463.8,143.3h0.8v3.4h-0.8zM431.6,148.2h0.7v3.4h-0.7zM428.3,148.2h0.7v3.4h-0.7zM452.2,148.2h0.7v3.4h-0.7zM461.7,148.2h0.7v3.4h-0.7zM418.4,153.0h0.8v3.4h-0.8zM427.0,153.0h0.9v3.4h-0.9zM449.7,153.0h0.8v3.4h-0.8zM454.7,153.0h0.9v3.4h-0.9zM457.0,153.0h0.9v3.4h-0.9zM393.1,167.7h0.7v3.4h-0.7zM448.2,167.7h0.7v3.4h-0.7zM416.8,167.7h0.7v3.4h-0.7z" fill="rgb(140,140,140)"/>
<path d="M396.7,114.0h0.7v3.4h-0.7zM445.6,114.0h0.7v3.4h-0.7zM455.8,114.0h0.7v3.4h-0.7zM389.5,118.9h0.7v3.4h-0.7zM447.1,118.9h0.7v3.4h-0.7zM461.3,118.9h0.7v3.4h-0.7zM453.0,123.8h0.7v3.4h-0.7zM387.8,128.6h0.7v3.4h-0.7zM402.9,128.6h0.7v3.4h-0.7zM440.8,128.6h0.7v3.4h-0.7zM446.4,128.6h0.7v3.4h-0.7zM460.2,128.6h0.7v3.4h-0.7zM452.4,128.6h0.7v3.4h-0.7zM432.6,128.6h0.7v3.4h-0.7zM438.6,128.6h0.7v3.4h-0.7zM386.1,138.4h0.9v3.4h-0.9zM388.7,138.4h1.0v3.4h-1.0zM418.4,138.4h0.7v3.4h-0.7zM454.9,138.4h0.7v3.4h-0.7zM460.9,138.4h0.7v3.4h-0.7zM456.6,138.4h0.7v3.4h-0.7zM414.4,148.2h0.7v3.4h-0.7zM456.5,148.2h0.7v3.4h-0.7zM463.4,148.2h0.7v3.4h-0.7zM386.1,153.0h0.7v3.4h-0.7zM388.1,153.0h1.1v3.4h-1.1zM390.1,153.0h0.8v3.4h-0.8zM400.8,153.0h1.1v3.4h-1.1zM390.0,157.9h1.3v3.4h-1.3zM399.2,157.9h1.1v3.4h-1.1zM416.6,157.9h0.9v3.4h-0.9zM421.1,157.9h0.9v3.4h-0.9zM427.8,157.9h0.6v3.4h-0.6zM435.9,157.9h1.3v3.4h-1.3zM438.6,157.9h1.2v3.4h-1.2zM446.1,157.9h1.4v3.4h-1.4zM448.3,157.9h1.2v3.4h-1.2zM459.8,157.9h1.0v3.4h-1.0zM463.3,157.9h0.8v3.4h-0.8zM388.3,162.8h1.2v3.4h-1.2zM389.9,162.8h0.7v3.4h-0.7zM399.8,162.8h1.2v3.4h-1.2zM434.8,162.8h1.0v3.4h-1.0zM443.5,162.8h1.0v3.4h-1.0zM446.4,162.8h0.7v3.4h-0.7zM464.3,162.8h0.9v3.4h-0.9zM430.5,167.7h0.7v3.4h-0.7zM455.6,167.7h0.7v3.4h-0.7z" fill="rgb(90,90,90)"/>
<path d="M435.1,114.0h0.7v3.4h-0.7zM439.6,118.9h0.7v3.4h-0.7zM458.4,118.9h0.7v3.4h-0.7zM392.9,123.8h0.7v3.4h-0.7zM481.1,123.8h0.7v3.4h-0.7zM421.4,128.6h0.7v3.4h-0.7zM455.5,128.6h0.7v3.4h-0.7zM458.2,128.6h0.7v3.4h-0.7zM453.8,128.6h0.7v3.4h-0.7zM408.7,128.6h3.0v3.4h-3.0zM391.2,133.5h1.1v3.4h-1.1zM402.1,133.5h0.8v3.4h-0.8zM405.1,133.5h1.3v3.4h-1.3zM419.2,133.5h1.5v3.4h-1.5zM433.4,133.5h1.5v3.4h-1.5zM441.5,133.5h0.9v3.4h-0.9zM451.9,133.5h1.0v3.4h-1.0zM455.6,133.5h1.8v3.4h-1.8zM421.5,138.4h0.7v3.4h-0.7zM417.9,138.4h0.7v3.4h-0.7zM440.3,138.4h0.7v3.4h-0.7zM446.6,138.4h0.7v3.4h-0.7zM470.9,138.4h2.6v3.4h-2.6zM393.2,143.3h0.7v3.4h-0.7zM396.1,143.3h0.7v3.4h-0.7zM416.2,143.3h1.3v3.4h-1.3zM420.3,143.3h1.4v3.4h-1.4zM425.0,143.3h1.8v3.4h-1.8zM431.1,143.3h1.0v3.4h-1.0zM423.2,148.2h0.7v3.4h-0.7zM442.5,148.2h0.7v3.4h-0.7zM464.6,148.2h0.7v3.4h-0.7zM462.4,148.2h0.7v3.4h-0.7zM441.5,148.2h0.7v3.4h-0.7zM479.8,153.0h0.7v3.4h-0.7zM470.6,153.0h2.7v3.4h-2.7zM408.4,162.8h2.7v3.4h-2.7zM470.4,162.8h3.1v3.4h-3.1zM389.9,167.7h0.7v3.4h-0.7zM386.5,167.7h0.7v3.4h-0.7zM455.1,167.7h0.7v3.4h-0.7zM454.8,167.7h0.7v3.4h-0.7zM454.2,167.7h0.7v3.4h-0.7zM429.1,167.7h0.7v3.4h-0.7zM432.6,167.7h0.7v3.4h-0.7zM457.2,167.7h0.7v3.4h-0.7zM443.7,167.7h0.7v3.4h-0.7zM429.1,167.7h0.7v3.4h-0.7zM423.4,167.7h0.7v3.4h-0.7zM432.1,167.7h0.7v3.4h-0.7zM408.0,167.7h2.6v3.4h-2.6z" fill="rgb(40,40,40)"/>
<path d="M455.1,114.0h0.7v3.4h-0.7zM456.1,114.0h0.7v3.4h-0.7zM393.8,118.9h0.7v3.4h-0.7zM426.8,118.9h0.7v3.4h-0.7zM395.3,123.8h0.7v3.4h-0.7zM390.9,123.8h0.7v3.4h-0.7zM437.6,123.8h0.7v3.4h-0.7zM449.2,123.8h0.7v3.4h-0.7zM440.6,128.6h0.7v3.4h-0.7zM446.9,128.6h0.7v3.4h-0.7zM445.8,128.6h0.7v3.4h-0.7zM421.7,128.6h0.7v3.4h-0.7zM444.5,128.6h0.7v3.4h-0.7zM433.5,128.6h0.7v3.4h-0.7zM440.1,138.4h0.7v3.4h-0.7zM441.0,138.4h0.7v3.4h-0.7zM444.9,143.3h1.1v3.4h-1.1zM448.6,143.3h0.6v3.4h-0.6zM454.3,143.3h1.2v3.4h-1.2zM461.5,143.3h1.1v3.4h-1.1zM416.6,148.2h0.7v3.4h-0.7zM461.7,148.2h0.7v3.4h-0.7zM414.1,153.0h1.2v3.4h-1.2zM429.9,153.0h1.1v3.4h-1.1zM433.7,153.0h0.6v3.4h-0.6zM440.1,153.0h0.8v3.4h-0.8zM441.9,153.0h0.7v3.4h-0.7zM443.7,153.0h0.6v3.4h-0.6zM447.5,153.0h1.1v3.4h-1.1zM452.1,153.0h0.8v3.4h-0.8zM453.2,153.0h1.2v3.4h-1.2zM395.3,167.7h0.7v3.4h-0.7zM399.3,167.7h0.7v3.4h-0.7zM395.0,167.7h0.7v3.4h-0.7zM421.1,167.7h0.7v3.4h-0.7zM427.0,167.7h0.7v3.4h-0.7z" fill="rgb(180,180,180)"/>
<path d="M408.7,114.0h3.0v3.4h-3.0zM470.9,118.9h2.9v3.4h-2.9zM470.5,123.8h3.2v3.4h-3.2zM470.4,128.6h3.0v3.4h-3.0zM392.4,133.5h1.2v3.4h-1.2zM394.9,133.5h1.7v3.4h-1.7zM398.9,133.5h1.7v3.4h-1.7zM401.0,133.5h0.8v3.4h-0.8zM446.8,133.5h1.5v3.4h-1.5zM450.1,133.5h1.5v3.4h-1.5zM453.2,133.5h1.0v3.4h-1.0zM408.1,133.5h2.4v3.4h-2.4zM408.4,138.4h2.6v3.4h-2.6zM412.6,143.3h1.4v3.4h-1.4zM414.0,143.3h1.6v3.4h-1.6zM423.8,143.3h1.1v3.4h-1.1zM439.5,143.3h1.6v3.4h-1.6zM470.8,143.3h3.1v3.4h-3.1zM471.0,148.2h2.3v3.4h-2.3z" fill="rgb(10,10,10)"/>
<path d="M412.1,114.0h0.8v3.4h-0.8zM469.1,114.0h0.8v3.4h-0.8zM474.7,118.9h0.8v3.4h-0.8zM412.0,128.6h0.8v3.4h-0.8zM475.1,133.5h0.8v3.4h-0.8zM411.8,138.4h0.8v3.4h-0.8zM474.2,143.3h0.8v3.4h-0.8zM411.8,148.2h0.8v3.4h-0.8zM407.3,153.0h0.8v3.4h-0.8zM469.3,153.0h0.8v3.4h-0.8zM474.3,153.0h0.8v3.4h-0.8zM412.5,157.9h0.8v3.4h-0.8zM468.9,162.8h0.8v3.4h-0.8zM474.2,162.8h0.8v3.4h-0.8zM412.4,167.7h0.8v3.4h-0.8z" fill="rgb(60,60,60)"/>
<path d="M470.6,114.0h2.6v3.4h-2.6zM408.5,118.9h2.6v3.4h-2.6zM408.7,123.8h2.8v3.4h-2.8zM470.6,133.5h2.2v3.4h-2.2zM408.0,143.3h2.9v3.4h-2.9zM408.5,148.2h2.8v3.4h-2.8zM408.1,153.0h2.6v3.4h-2.6zM408.0,157.9h2.3v3.4h-2.3zM470.5,157.9h2.3v3.4h-2.3zM470.7,167.7h3.1v3.4h-3.1z" fill="rgb(25,25,25)"/>
<path d="M474.5,114.0h0.8v3.4h-0.8zM407.1,118.9h0.8v3.4h-0.8zM411.9,118.9h0.8v3.4h-0.8zM468.8,118.9h0.8v3.4h-0.8zM412.3,123.8h0.8v3.4h-0.8zM468.8,123.8h0.8v3.4h-0.8zM406.6,128.6h0.8v3.4h-0.8zM412.0,133.5h0.8v3.4h-0.8zM469.7,133.5h0.8v3.4h-0.8zM406.9,143.3h0.8v3.4h-0.8zM406.5,157.9h0.8v3.4h-0.8zM406.9,162.8h0.8v3.4h-0.8zM406.9,167.7h0.8v3.4h-0.8zM469.6,167.7h0.8v3.4h-0.8zM474.8,167.7h0.8v3.4h-0.8z" fill="rgb(120,120,120)"/>
<path d="M401.4,118.9h1.4v3.4h-1.4zM392.0,128.6h1.1v3.4h-1.1zM475.1,128.6h1.0v3.4h-1.0zM477.0,128.6h0.9v3.4h-0.9zM480.5,128.6h0.9v3.4h-0.9zM391.9,138.4h0.8v3.4h-0.8zM393.7,138.4h1.3v3.4h-1.3zM397.6,138.4h0.6v3.4h-0.6zM398.4,138.4h1.0v3.4h-1.0zM387.2,153.0h0.8v3.4h-0.8zM393.6,153.0h0.9v3.4h-0.9zM399.2,153.0h1.3v3.4h-1.3zM389.2,157.9h0.8v3.4h-0.8zM396.1,157.9h0.8v3.4h-0.8zM397.9,157.9h0.9v3.4h-0.9zM401.5,157.9h1.3v3.4h-1.3zM418.4,157.9h0.9v3.4h-0.9zM419.6,157.9h1.1v3.4h-1.1zM424.2,157.9h0.8v3.4h-0.8zM430.7,157.9h0.9v3.4h-0.9zM432.6,157.9h1.4v3.4h-1.4zM437.8,157.9h0.7v3.4h-0.7zM442.5,157.9h0.8v3.4h-0.8zM444.9,157.9h0.6v3.4h-0.6zM453.0,157.9h0.6v3.4h-0.6zM455.4,157.9h0.8v3.4h-0.8zM394.4,162.8h1.0v3.4h-1.0zM418.3,162.8h1.2v3.4h-1.2zM425.4,162.8h1.4v3.4h-1.4zM429.7,162.8h0.8v3.4h-0.8zM436.5,162.8h1.2v3.4h-1.2zM449.7,162.8h1.2v3.4h-1.2zM451.4,162.8h0.7v3.4h-0.7zM457.0,162.8h0.9v3.4h-0.9zM462.0,162.8h0.8v3.4h-0.8zM463.5,162.8h0.7v3.4h-0.7z" fill="rgb(50,50,50)"/>
<path d="M403.7,118.9h0.8v3.4h-0.8zM386.1,128.6h0.8v3.4h-0.8zM390.5,128.6h0.6v3.4h-0.6zM393.7,128.6h0.7v3.4h-0.7zM399.8,128.6h1.1v3.4h-1.1zM401.6,128.6h1.1v3.4h-1.1zM397.1,133.5h1.3v3.4h-1.3zM403.2,133.5h1.5v3.4h-1.5zM420.7,133.5h1.6v3.4h-1.6zM422.8,133.5h1.1v3.4h-1.1zM425.3,133.5h1.5v3.4h-1.5zM427.1,133.5h1.6v3.4h-1.6zM428.8,133.5h1.4v3.4h-1.4zM430.6,133.5h0.9v3.4h-0.9zM431.5,133.5h1.8v3.4h-1.8zM436.8,133.5h1.1v3.4h-1.1zM440.2,133.5h1.2v3.4h-1.2zM442.5,133.5h1.7v3.4h-1.7zM444.7,133.5h1.6v3.4h-1.6zM448.4,133.5h1.5v3.4h-1.5zM457.6,133.5h1.4v3.4h-1.4zM461.1,133.5h1.7v3.4h-1.7zM462.9,133.5h1.2v3.4h-1.2zM400.1,138.4h0.6v3.4h-0.6zM403.5,138.4h1.3v3.4h-1.3zM407.7,143.3h1.1v3.4h-1.1zM418.6,143.3h1.6v3.4h-1.6zM422.1,143.3h1.3v3.4h-1.3zM429.0,143.3h1.7v3.4h-1.7zM436.0,143.3h1.7v3.4h-1.7zM403.5,153.0h0.6v3.4h-0.6zM386.1,157.9h0.9v3.4h-0.9zM388.1,157.9h0.7v3.4h-0.7zM392.3,157.9h1.4v3.4h-1.4zM426.1,157.9h1.3v3.4h-1.3zM443.7,157.9h1.1v3.4h-1.1zM453.8,157.9h1.2v3.4h-1.2zM461.2,157.9h1.4v3.4h-1.4zM464.7,157.9h1.0v3.4h-1.0zM391.5,162.8h1.1v3.4h-1.1zM393.0,162.8h0.6v3.4h-0.6zM416.6,162.8h1.3v3.4h-1.3zM419.5,162.8h1.2v3.4h-1.2zM438.7,162.8h0.8v3.4h-0.8zM441.7,162.8h0.8v3.4h-0.8zM448.2,162.8h1.1v3.4h-1.1zM455.0,162.8h0.8v3.4h-0.8zM458.8,162.8h1.4v3.4h-1.4z" fill="rgb(20,20,20)"/>
<path d="M389.1,128.6h0.7v3.4h-0.7zM396.7,128.6h0.9v3.4h-0.9zM479.0,128.6h1.2v3.4h-1.2zM396.1,138.4h0.6v3.4h-0.6zM401.5,138.4h1.1v3.4h-1.1zM395.3,153.0h1.3v3.4h-1.3zM397.8,153.0h1.2v3.4h-1.2zM402.3,153.0h0.7v3.4h-0.7zM404.9,153.0h0.8v3.4h-0.8zM393.9,157.9h1.4v3.4h-1.4zM422.5,157.9h1.4v3.4h-1.4zM434.8,157.9h0.7v3.4h-0.7zM440.0,157.9h1.4v3.4h-1.4zM450.5,157.9h0.9v3.4h-0.9zM452.1,157.9h0.6v3.4h-0.6zM386.1,162.8h1.1v3.4h-1.1zM396.1,162.8h1.3v3.4h-1.3zM398.4,162.8h0.8v3.4h-0.8zM401.8,162.8h1.3v3.4h-1.3zM403.1,162.8h1.4v3.4h-1.4zM421.8,162.8h1.2v3.4h-1.2zM428.5,162.8h1.2v3.4h-1.2zM432.9,162.8h0.9v3.4h-0.9zM440.5,162.8h0.8v3.4h-0.8z" fill="rgb(170,170,170)"/>
<path d="M394.7,128.6h1.0v3.4h-1.0zM398.2,128.6h0.9v3.4h-0.9zM387.4,138.4h0.9v3.4h-0.9zM389.9,138.4h1.2v3.4h-1.2zM402.6,138.4h0.8v3.4h-0.8zM404.8,138.4h1.2v3.4h-1.2zM391.8,153.0h1.4v3.4h-1.4zM400.5,157.9h0.6v3.4h-0.6zM403.7,157.9h1.3v3.4h-1.3zM429.3,157.9h1.0v3.4h-1.0zM456.5,157.9h0.8v3.4h-0.8zM457.6,157.9h1.0v3.4h-1.0zM423.8,162.8h1.1v3.4h-1.1zM427.1,162.8h1.3v3.4h-1.3zM430.9,162.8h0.9v3.4h-0.9zM444.8,162.8h1.4v3.4h-1.4zM452.9,162.8h1.2v3.4h-1.2zM460.2,162.8h1.1v3.4h-1.1z" fill="rgb(130,130,130)"/>
<path d="M393.8,133.5h0.9v3.4h-0.9zM424.1,133.5h0.8v3.4h-0.8zM435.0,133.5h1.4v3.4h-1.4zM438.2,133.5h1.7v3.4h-1.7zM454.3,133.5h1.2v3.4h-1.2zM459.4,133.5h1.5v3.4h-1.5zM464.4,133.5h1.2v3.4h-1.2zM409.2,143.3h1.6v3.4h-1.6zM411.0,143.3h1.1v3.4h-1.1zM417.6,143.3h0.9v3.4h-0.9zM427.1,143.3h1.5v3.4h-1.5zM432.3,143.3h1.0v3.4h-1.0zM433.4,143.3h1.0v3.4h-1.0zM434.7,143.3h1.0v3.4h-1.0zM437.9,143.3h1.0v3.4h-1.0z" fill="rgb(70,70,70)"/>
<path d="M442.1,143.3h0.7v3.4h-0.7zM446.2,143.3h1.1v3.4h-1.1zM450.3,143.3h0.7v3.4h-0.7zM452.5,143.3h0.9v3.4h-0.9zM416.7,153.0h1.1v3.4h-1.1zM431.4,153.0h1.1v3.4h-1.1zM436.3,153.0h1.1v3.4h-1.1zM451.1,153.0h0.8v3.4h-0.8z" fill="rgb(100,100,100)"/>
<path d="M449.7,143.3h0.6v3.4h-0.6zM415.6,153.0h1.1v3.4h-1.1zM420.6,153.0h1.2v3.4h-1.2zM423.0,153.0h1.1v3.4h-1.1zM425.5,153.0h0.7v3.4h-0.7zM428.7,153.0h0.6v3.4h-0.6zM435.3,153.0h0.9v3.4h-0.9zM438.9,153.0h0.8v3.4h-0.8zM445.0,153.0h1.0v3.4h-1.0zM455.7,153.0h1.1v3.4h-1.1z" fill="rgb(200,200,200)"/>
<rect x="404.40" y="111.80" width="10.20" height="62.08" fill="none" stroke="#a32a2a" stroke-width="1.1" rx="2.2" />
<rect x="466.20" y="111.80" width="11.50" height="62.08" fill="none" stroke="#a32a2a" stroke-width="1.1" rx="2.2" />
<line x1="384.80" y1="176.18" x2="395.50" y2="176.18" stroke="#222" stroke-width="0.9" />
<text x="384.50" y="184.28" font-size="7.2" font-weight="normal" font-style="normal" fill="#222" text-anchor="start" textLength="12.2" lengthAdjust="spacingAndGlyphs"  stroke="#222" stroke-width="0.12">10 s</text>
<path d="M63.20,287.16 L91.10,268.68 L119.40,232.38" stroke="#a62b2b" stroke-width="0.95" fill="none"/>
<path d="M63.20,289.14 L91.10,281.88 L119.40,264.06" stroke="#a62b2b" stroke-width="0.95" fill="none"/>
<path d="M63.20,289.80 L91.10,283.86 L119.40,266.70" stroke="#a62b2b" stroke-width="0.95" fill="none"/>
<path d="M63.20,290.46 L91.10,285.18 L119.40,267.36" stroke="#a62b2b" stroke-width="0.95" fill="none"/>
<path d="M63.20,291.12 L91.10,286.50 L119.40,275.94" stroke="#a62b2b" stroke-width="0.95" fill="none"/>
<path d="M63.20,291.78 L91.10,287.82 L119.40,278.58" stroke="#a62b2b" stroke-width="0.95" fill="none"/>
<path d="M63.20,281.88 L91.10,271.32 L119.40,265.38" stroke="#111" stroke-width="0.95" fill="none"/>
<path d="M63.20,287.16 L91.10,269.34 L119.40,244.92" stroke="#111" stroke-width="0.95" fill="none"/>
<path d="M63.20,289.14 L91.10,279.24 L119.40,258.78" stroke="#111" stroke-width="0.95" fill="none"/>
<line x1="63.20" y1="286.36" x2="63.20" y2="287.96" stroke="#a62b2b" stroke-width="0.5" stroke-opacity="0.7"/>
<line x1="62.30" y1="286.36" x2="64.10" y2="286.36" stroke="#a62b2b" stroke-width="0.5" stroke-opacity="0.7"/>
<line x1="62.30" y1="287.96" x2="64.10" y2="287.96" stroke="#a62b2b" stroke-width="0.5" stroke-opacity="0.7"/>
<line x1="61.25" y1="287.16" x2="65.16" y2="287.16" stroke="#a62b2b" stroke-width="0.6" />
<line x1="63.20" y1="285.21" x2="63.20" y2="289.12" stroke="#a62b2b" stroke-width="0.6" />
<line x1="91.10" y1="267.18" x2="91.10" y2="270.18" stroke="#a62b2b" stroke-width="0.5" stroke-opacity="0.7"/>
<line x1="90.20" y1="267.18" x2="92.00" y2="267.18" stroke="#a62b2b" stroke-width="0.5" stroke-opacity="0.7"/>
<line x1="90.20" y1="270.18" x2="92.00" y2="270.18" stroke="#a62b2b" stroke-width="0.5" stroke-opacity="0.7"/>
<line x1="89.14" y1="268.68" x2="93.05" y2="268.68" stroke="#a62b2b" stroke-width="0.6" />
<line x1="91.10" y1="266.73" x2="91.10" y2="270.63" stroke="#a62b2b" stroke-width="0.6" />
<line x1="119.40" y1="225.38" x2="119.40" y2="239.38" stroke="#a62b2b" stroke-width="0.5" stroke-opacity="0.7"/>
<line x1="118.50" y1="225.38" x2="120.30" y2="225.38" stroke="#a62b2b" stroke-width="0.5" stroke-opacity="0.7"/>
<line x1="118.50" y1="239.38" x2="120.30" y2="239.38" stroke="#a62b2b" stroke-width="0.5" stroke-opacity="0.7"/>
<line x1="117.45" y1="232.38" x2="121.36" y2="232.38" stroke="#a62b2b" stroke-width="0.6" />
<line x1="119.40" y1="230.43" x2="119.40" y2="234.34" stroke="#a62b2b" stroke-width="0.6" />
<line x1="63.20" y1="288.54" x2="63.20" y2="289.74" stroke="#a62b2b" stroke-width="0.5" stroke-opacity="0.7"/>
<line x1="62.30" y1="288.54" x2="64.10" y2="288.54" stroke="#a62b2b" stroke-width="0.5" stroke-opacity="0.7"/>
<line x1="62.30" y1="289.74" x2="64.10" y2="289.74" stroke="#a62b2b" stroke-width="0.5" stroke-opacity="0.7"/>
<circle cx="63.20" cy="289.14" r="1.49" fill="#a62b2b"/>
<line x1="91.10" y1="280.88" x2="91.10" y2="282.88" stroke="#a62b2b" stroke-width="0.5" stroke-opacity="0.7"/>
<line x1="90.20" y1="280.88" x2="92.00" y2="280.88" stroke="#a62b2b" stroke-width="0.5" stroke-opacity="0.7"/>
<line x1="90.20" y1="282.88" x2="92.00" y2="282.88" stroke="#a62b2b" stroke-width="0.5" stroke-opacity="0.7"/>
<circle cx="91.10" cy="281.88" r="1.49" fill="#a62b2b"/>
<line x1="119.40" y1="262.56" x2="119.40" y2="265.56" stroke="#a62b2b" stroke-width="0.5" stroke-opacity="0.7"/>
<line x1="118.50" y1="262.56" x2="120.30" y2="262.56" stroke="#a62b2b" stroke-width="0.5" stroke-opacity="0.7"/>
<line x1="118.50" y1="265.56" x2="120.30" y2="265.56" stroke="#a62b2b" stroke-width="0.5" stroke-opacity="0.7"/>
<circle cx="119.40" cy="264.06" r="1.49" fill="#a62b2b"/>
<line x1="63.20" y1="289.20" x2="63.20" y2="290.40" stroke="#a62b2b" stroke-width="0.5" stroke-opacity="0.7"/>
<line x1="62.30" y1="289.20" x2="64.10" y2="289.20" stroke="#a62b2b" stroke-width="0.5" stroke-opacity="0.7"/>
<line x1="62.30" y1="290.40" x2="64.10" y2="290.40" stroke="#a62b2b" stroke-width="0.5" stroke-opacity="0.7"/>
<line x1="61.48" y1="289.80" x2="64.92" y2="289.80" stroke="#a62b2b" stroke-width="0.6" />
<line x1="63.20" y1="288.07" x2="63.20" y2="291.53" stroke="#a62b2b" stroke-width="0.6" />
<line x1="61.94" y1="288.54" x2="64.47" y2="291.06" stroke="#a62b2b" stroke-width="0.6" />
<line x1="61.94" y1="291.06" x2="64.47" y2="288.54" stroke="#a62b2b" stroke-width="0.6" />
<line x1="91.10" y1="282.86" x2="91.10" y2="284.86" stroke="#a62b2b" stroke-width="0.5" stroke-opacity="0.7"/>
<line x1="90.20" y1="282.86" x2="92.00" y2="282.86" stroke="#a62b2b" stroke-width="0.5" stroke-opacity="0.7"/>
<line x1="90.20" y1="284.86" x2="92.00" y2="284.86" stroke="#a62b2b" stroke-width="0.5" stroke-opacity="0.7"/>
<line x1="89.38" y1="283.86" x2="92.82" y2="283.86" stroke="#a62b2b" stroke-width="0.6" />
<line x1="91.10" y1="282.13" x2="91.10" y2="285.59" stroke="#a62b2b" stroke-width="0.6" />
<line x1="89.83" y1="282.60" x2="92.36" y2="285.12" stroke="#a62b2b" stroke-width="0.6" />
<line x1="89.83" y1="285.12" x2="92.36" y2="282.60" stroke="#a62b2b" stroke-width="0.6" />
<line x1="119.40" y1="265.20" x2="119.40" y2="268.20" stroke="#a62b2b" stroke-width="0.5" stroke-opacity="0.7"/>
<line x1="118.50" y1="265.20" x2="120.30" y2="265.20" stroke="#a62b2b" stroke-width="0.5" stroke-opacity="0.7"/>
<line x1="118.50" y1="268.20" x2="120.30" y2="268.20" stroke="#a62b2b" stroke-width="0.5" stroke-opacity="0.7"/>
<line x1="117.68" y1="266.70" x2="121.12" y2="266.70" stroke="#a62b2b" stroke-width="0.6" />
<line x1="119.40" y1="264.98" x2="119.40" y2="268.43" stroke="#a62b2b" stroke-width="0.6" />
<line x1="118.14" y1="265.44" x2="120.67" y2="267.97" stroke="#a62b2b" stroke-width="0.6" />
<line x1="118.14" y1="267.97" x2="120.67" y2="265.44" stroke="#a62b2b" stroke-width="0.6" />
<line x1="63.20" y1="289.86" x2="63.20" y2="291.06" stroke="#a62b2b" stroke-width="0.5" stroke-opacity="0.7"/>
<line x1="62.30" y1="289.86" x2="64.10" y2="289.86" stroke="#a62b2b" stroke-width="0.5" stroke-opacity="0.7"/>
<line x1="62.30" y1="291.06" x2="64.10" y2="291.06" stroke="#a62b2b" stroke-width="0.5" stroke-opacity="0.7"/>
<polygon points="63.20,288.51 65.16,290.46 63.20,292.42 61.25,290.46" fill="none" stroke="#a62b2b" stroke-width="0.6"/>
<line x1="61.25" y1="290.46" x2="65.16" y2="290.46" stroke="#a62b2b" stroke-width="0.5" />
<line x1="63.20" y1="288.51" x2="63.20" y2="292.42" stroke="#a62b2b" stroke-width="0.5" />
<line x1="91.10" y1="284.18" x2="91.10" y2="286.18" stroke="#a62b2b" stroke-width="0.5" stroke-opacity="0.7"/>
<line x1="90.20" y1="284.18" x2="92.00" y2="284.18" stroke="#a62b2b" stroke-width="0.5" stroke-opacity="0.7"/>
<line x1="90.20" y1="286.18" x2="92.00" y2="286.18" stroke="#a62b2b" stroke-width="0.5" stroke-opacity="0.7"/>
<polygon points="91.10,283.23 93.05,285.18 91.10,287.13 89.14,285.18" fill="none" stroke="#a62b2b" stroke-width="0.6"/>
<line x1="89.14" y1="285.18" x2="93.05" y2="285.18" stroke="#a62b2b" stroke-width="0.5" />
<line x1="91.10" y1="283.23" x2="91.10" y2="287.13" stroke="#a62b2b" stroke-width="0.5" />
<line x1="119.40" y1="265.86" x2="119.40" y2="268.86" stroke="#a62b2b" stroke-width="0.5" stroke-opacity="0.7"/>
<line x1="118.50" y1="265.86" x2="120.30" y2="265.86" stroke="#a62b2b" stroke-width="0.5" stroke-opacity="0.7"/>
<line x1="118.50" y1="268.86" x2="120.30" y2="268.86" stroke="#a62b2b" stroke-width="0.5" stroke-opacity="0.7"/>
<polygon points="119.40,265.41 121.36,267.36 119.40,269.31 117.45,267.36" fill="none" stroke="#a62b2b" stroke-width="0.6"/>
<line x1="117.45" y1="267.36" x2="121.36" y2="267.36" stroke="#a62b2b" stroke-width="0.5" />
<line x1="119.40" y1="265.41" x2="119.40" y2="269.31" stroke="#a62b2b" stroke-width="0.5" />
<line x1="63.20" y1="290.52" x2="63.20" y2="291.72" stroke="#a62b2b" stroke-width="0.5" stroke-opacity="0.7"/>
<line x1="62.30" y1="290.52" x2="64.10" y2="290.52" stroke="#a62b2b" stroke-width="0.5" stroke-opacity="0.7"/>
<line x1="62.30" y1="291.72" x2="64.10" y2="291.72" stroke="#a62b2b" stroke-width="0.5" stroke-opacity="0.7"/>
<rect x="61.71" y="289.62" width="2.99" height="2.99" fill="none" stroke="#a62b2b" stroke-width="0.6" rx="0" />
<line x1="61.71" y1="289.62" x2="64.70" y2="292.62" stroke="#a62b2b" stroke-width="0.5" />
<line x1="61.71" y1="292.62" x2="64.70" y2="289.62" stroke="#a62b2b" stroke-width="0.5" />
<line x1="91.10" y1="285.50" x2="91.10" y2="287.50" stroke="#a62b2b" stroke-width="0.5" stroke-opacity="0.7"/>
<line x1="90.20" y1="285.50" x2="92.00" y2="285.50" stroke="#a62b2b" stroke-width="0.5" stroke-opacity="0.7"/>
<line x1="90.20" y1="287.50" x2="92.00" y2="287.50" stroke="#a62b2b" stroke-width="0.5" stroke-opacity="0.7"/>
<rect x="89.60" y="285.00" width="2.99" height="2.99" fill="none" stroke="#a62b2b" stroke-width="0.6" rx="0" />
<line x1="89.60" y1="285.00" x2="92.59" y2="288.00" stroke="#a62b2b" stroke-width="0.5" />
<line x1="89.60" y1="288.00" x2="92.59" y2="285.00" stroke="#a62b2b" stroke-width="0.5" />
<line x1="119.40" y1="274.74" x2="119.40" y2="277.14" stroke="#a62b2b" stroke-width="0.5" stroke-opacity="0.7"/>
<line x1="118.50" y1="274.74" x2="120.30" y2="274.74" stroke="#a62b2b" stroke-width="0.5" stroke-opacity="0.7"/>
<line x1="118.50" y1="277.14" x2="120.30" y2="277.14" stroke="#a62b2b" stroke-width="0.5" stroke-opacity="0.7"/>
<rect x="117.91" y="274.44" width="2.99" height="2.99" fill="none" stroke="#a62b2b" stroke-width="0.6" rx="0" />
<line x1="117.91" y1="274.44" x2="120.90" y2="277.44" stroke="#a62b2b" stroke-width="0.5" />
<line x1="117.91" y1="277.44" x2="120.90" y2="274.44" stroke="#a62b2b" stroke-width="0.5" />
<line x1="63.20" y1="291.18" x2="63.20" y2="292.38" stroke="#a62b2b" stroke-width="0.5" stroke-opacity="0.7"/>
<line x1="62.30" y1="291.18" x2="64.10" y2="291.18" stroke="#a62b2b" stroke-width="0.5" stroke-opacity="0.7"/>
<line x1="62.30" y1="292.38" x2="64.10" y2="292.38" stroke="#a62b2b" stroke-width="0.5" stroke-opacity="0.7"/>
<line x1="61.25" y1="291.78" x2="65.16" y2="291.78" stroke="#a62b2b" stroke-width="0.6" />
<line x1="63.20" y1="289.83" x2="63.20" y2="293.74" stroke="#a62b2b" stroke-width="0.6" />
<line x1="91.10" y1="286.82" x2="91.10" y2="288.82" stroke="#a62b2b" stroke-width="0.5" stroke-opacity="0.7"/>
<line x1="90.20" y1="286.82" x2="92.00" y2="286.82" stroke="#a62b2b" stroke-width="0.5" stroke-opacity="0.7"/>
<line x1="90.20" y1="288.82" x2="92.00" y2="288.82" stroke="#a62b2b" stroke-width="0.5" stroke-opacity="0.7"/>
<line x1="89.14" y1="287.82" x2="93.05" y2="287.82" stroke="#a62b2b" stroke-width="0.6" />
<line x1="91.10" y1="285.87" x2="91.10" y2="289.78" stroke="#a62b2b" stroke-width="0.6" />
<line x1="119.40" y1="277.38" x2="119.40" y2="279.78" stroke="#a62b2b" stroke-width="0.5" stroke-opacity="0.7"/>
<line x1="118.50" y1="277.38" x2="120.30" y2="277.38" stroke="#a62b2b" stroke-width="0.5" stroke-opacity="0.7"/>
<line x1="118.50" y1="279.78" x2="120.30" y2="279.78" stroke="#a62b2b" stroke-width="0.5" stroke-opacity="0.7"/>
<line x1="117.45" y1="278.58" x2="121.36" y2="278.58" stroke="#a62b2b" stroke-width="0.6" />
<line x1="119.40" y1="276.63" x2="119.40" y2="280.54" stroke="#a62b2b" stroke-width="0.6" />
<line x1="63.20" y1="281.28" x2="63.20" y2="282.48" stroke="#111" stroke-width="0.5" stroke-opacity="0.7"/>
<line x1="62.30" y1="281.28" x2="64.10" y2="281.28" stroke="#111" stroke-width="0.5" stroke-opacity="0.7"/>
<line x1="62.30" y1="282.48" x2="64.10" y2="282.48" stroke="#111" stroke-width="0.5" stroke-opacity="0.7"/>
<circle cx="63.20" cy="281.88" r="1.49" fill="#111"/>
<line x1="91.10" y1="269.82" x2="91.10" y2="272.82" stroke="#111" stroke-width="0.5" stroke-opacity="0.7"/>
<line x1="90.20" y1="269.82" x2="92.00" y2="269.82" stroke="#111" stroke-width="0.5" stroke-opacity="0.7"/>
<line x1="90.20" y1="272.82" x2="92.00" y2="272.82" stroke="#111" stroke-width="0.5" stroke-opacity="0.7"/>
<circle cx="91.10" cy="271.32" r="1.49" fill="#111"/>
<line x1="119.40" y1="263.38" x2="119.40" y2="267.38" stroke="#111" stroke-width="0.5" stroke-opacity="0.7"/>
<line x1="118.50" y1="263.38" x2="120.30" y2="263.38" stroke="#111" stroke-width="0.5" stroke-opacity="0.7"/>
<line x1="118.50" y1="267.38" x2="120.30" y2="267.38" stroke="#111" stroke-width="0.5" stroke-opacity="0.7"/>
<circle cx="119.40" cy="265.38" r="1.49" fill="#111"/>
<line x1="63.20" y1="286.56" x2="63.20" y2="287.76" stroke="#111" stroke-width="0.5" stroke-opacity="0.7"/>
<line x1="62.30" y1="286.56" x2="64.10" y2="286.56" stroke="#111" stroke-width="0.5" stroke-opacity="0.7"/>
<line x1="62.30" y1="287.76" x2="64.10" y2="287.76" stroke="#111" stroke-width="0.5" stroke-opacity="0.7"/>
<polygon points="63.20,285.32 64.92,288.31 61.48,288.31" fill="#111"/>
<line x1="91.10" y1="267.84" x2="91.10" y2="270.84" stroke="#111" stroke-width="0.5" stroke-opacity="0.7"/>
<line x1="90.20" y1="267.84" x2="92.00" y2="267.84" stroke="#111" stroke-width="0.5" stroke-opacity="0.7"/>
<line x1="90.20" y1="270.84" x2="92.00" y2="270.84" stroke="#111" stroke-width="0.5" stroke-opacity="0.7"/>
<polygon points="91.10,267.50 92.82,270.49 89.38,270.49" fill="#111"/>
<line x1="119.40" y1="241.42" x2="119.40" y2="248.42" stroke="#111" stroke-width="0.5" stroke-opacity="0.7"/>
<line x1="118.50" y1="241.42" x2="120.30" y2="241.42" stroke="#111" stroke-width="0.5" stroke-opacity="0.7"/>
<line x1="118.50" y1="248.42" x2="120.30" y2="248.42" stroke="#111" stroke-width="0.5" stroke-opacity="0.7"/>
<polygon points="119.40,243.08 121.12,246.07 117.68,246.07" fill="#111"/>
<line x1="63.20" y1="288.54" x2="63.20" y2="289.74" stroke="#111" stroke-width="0.5" stroke-opacity="0.7"/>
<line x1="62.30" y1="288.54" x2="64.10" y2="288.54" stroke="#111" stroke-width="0.5" stroke-opacity="0.7"/>
<line x1="62.30" y1="289.74" x2="64.10" y2="289.74" stroke="#111" stroke-width="0.5" stroke-opacity="0.7"/>
<rect x="61.82" y="287.76" width="2.76" height="2.76" fill="#111" stroke="none" stroke-width="0.8" rx="0" />
<line x1="91.10" y1="278.04" x2="91.10" y2="280.44" stroke="#111" stroke-width="0.5" stroke-opacity="0.7"/>
<line x1="90.20" y1="278.04" x2="92.00" y2="278.04" stroke="#111" stroke-width="0.5" stroke-opacity="0.7"/>
<line x1="90.20" y1="280.44" x2="92.00" y2="280.44" stroke="#111" stroke-width="0.5" stroke-opacity="0.7"/>
<rect x="89.72" y="277.86" width="2.76" height="2.76" fill="#111" stroke="none" stroke-width="0.8" rx="0" />
<line x1="119.40" y1="256.28" x2="119.40" y2="261.28" stroke="#111" stroke-width="0.5" stroke-opacity="0.7"/>
<line x1="118.50" y1="256.28" x2="120.30" y2="256.28" stroke="#111" stroke-width="0.5" stroke-opacity="0.7"/>
<line x1="118.50" y1="261.28" x2="120.30" y2="261.28" stroke="#111" stroke-width="0.5" stroke-opacity="0.7"/>
<rect x="118.02" y="257.40" width="2.76" height="2.76" fill="#111" stroke="none" stroke-width="0.8" rx="0" />
<line x1="46.60" y1="222.00" x2="46.60" y2="295.30" stroke="#222" stroke-width="0.9" />
<line x1="46.60" y1="295.30" x2="135.80" y2="295.30" stroke="#222" stroke-width="0.9" />
<line x1="45.30" y1="293.10" x2="46.60" y2="293.10" stroke="#222" stroke-width="0.6" />
<text x="44.30" y="295.40" font-size="6.4" font-weight="normal" font-style="normal" fill="#333" text-anchor="end"  stroke="#333" stroke-width="0.12">0</text>
<line x1="45.30" y1="279.90" x2="46.60" y2="279.90" stroke="#222" stroke-width="0.6" />
<text x="44.30" y="282.20" font-size="6.4" font-weight="normal" font-style="normal" fill="#333" text-anchor="end"  stroke="#333" stroke-width="0.12">1</text>
<line x1="45.30" y1="266.70" x2="46.60" y2="266.70" stroke="#222" stroke-width="0.6" />
<text x="44.30" y="269.00" font-size="6.4" font-weight="normal" font-style="normal" fill="#333" text-anchor="end"  stroke="#333" stroke-width="0.12">2</text>
<line x1="45.30" y1="253.50" x2="46.60" y2="253.50" stroke="#222" stroke-width="0.6" />
<text x="44.30" y="255.80" font-size="6.4" font-weight="normal" font-style="normal" fill="#333" text-anchor="end"  stroke="#333" stroke-width="0.12">3</text>
<line x1="45.30" y1="240.30" x2="46.60" y2="240.30" stroke="#222" stroke-width="0.6" />
<text x="44.30" y="242.60" font-size="6.4" font-weight="normal" font-style="normal" fill="#333" text-anchor="end"  stroke="#333" stroke-width="0.12">4</text>
<line x1="45.30" y1="227.10" x2="46.60" y2="227.10" stroke="#222" stroke-width="0.6" />
<text x="44.30" y="229.40" font-size="6.4" font-weight="normal" font-style="normal" fill="#333" text-anchor="end"  stroke="#333" stroke-width="0.12">5</text>
<line x1="63.20" y1="295.30" x2="63.20" y2="296.60" stroke="#222" stroke-width="0.6" />
<text x="63.20" y="302.90" font-size="6.4" font-weight="normal" font-style="normal" fill="#333" text-anchor="middle"  stroke="#333" stroke-width="0.12">DIV16</text>
<line x1="91.10" y1="295.30" x2="91.10" y2="296.60" stroke="#222" stroke-width="0.6" />
<text x="91.10" y="302.90" font-size="6.4" font-weight="normal" font-style="normal" fill="#333" text-anchor="middle"  stroke="#333" stroke-width="0.12">DIV23</text>
<line x1="119.40" y1="295.30" x2="119.40" y2="296.60" stroke="#222" stroke-width="0.6" />
<text x="119.40" y="302.90" font-size="6.4" font-weight="normal" font-style="normal" fill="#333" text-anchor="middle"  stroke="#333" stroke-width="0.12">DIV30</text>
<text x="90.50" y="214.50" font-size="8.0" font-weight="bold" font-style="normal" fill="#222" text-anchor="middle"  stroke="#222" stroke-width="0.0">MFR</text>
<text x="0.80" y="217.00" font-size="8.5" font-weight="bold" font-style="normal" fill="#222" text-anchor="start"  stroke="#222" stroke-width="0.0">D</text>
<text font-size="7.0" fill="#222" text-anchor="middle" transform="translate(22.80,257.20) rotate(-90)" textLength="52" lengthAdjust="spacingAndGlyphs" stroke="#222" stroke-width="0.12">Mean firing rate</text><text font-size="7.0" fill="#222" text-anchor="middle" transform="translate(32.30,257.20) rotate(-90)" textLength="31" lengthAdjust="spacingAndGlyphs" stroke="#222" stroke-width="0.12">(spikes/s)</text>
<path d="M218.20,225.50 L244.80,232.30 L271.60,253.55" stroke="#a62b2b" stroke-width="0.95" fill="none"/>
<path d="M218.20,226.35 L244.80,239.10 L271.60,255.25" stroke="#a62b2b" stroke-width="0.95" fill="none"/>
<path d="M218.20,229.75 L244.80,254.40 L271.60,265.45" stroke="#a62b2b" stroke-width="0.95" fill="none"/>
<path d="M218.20,230.60 L244.80,255.25 L271.60,272.25" stroke="#a62b2b" stroke-width="0.95" fill="none"/>
<path d="M218.20,232.30 L244.80,276.50 L271.60,289.25" stroke="#a62b2b" stroke-width="0.95" fill="none"/>
<path d="M218.20,231.45 L244.80,275.65 L271.60,288.40" stroke="#a62b2b" stroke-width="0.95" fill="none"/>
<path d="M218.20,230.60 L244.80,265.45 L271.60,283.30" stroke="#111" stroke-width="0.95" fill="none"/>
<path d="M218.20,231.45 L244.80,268.85 L271.60,285.00" stroke="#111" stroke-width="0.95" fill="none"/>
<path d="M218.20,232.30 L244.80,276.50 L271.60,287.55" stroke="#111" stroke-width="0.95" fill="none"/>
<line x1="218.20" y1="224.50" x2="218.20" y2="226.50" stroke="#a62b2b" stroke-width="0.5" stroke-opacity="0.7"/>
<line x1="217.30" y1="224.50" x2="219.10" y2="224.50" stroke="#a62b2b" stroke-width="0.5" stroke-opacity="0.7"/>
<line x1="217.30" y1="226.50" x2="219.10" y2="226.50" stroke="#a62b2b" stroke-width="0.5" stroke-opacity="0.7"/>
<circle cx="218.20" cy="225.50" r="1.49" fill="#a62b2b"/>
<line x1="244.80" y1="230.80" x2="244.80" y2="233.80" stroke="#a62b2b" stroke-width="0.5" stroke-opacity="0.7"/>
<line x1="243.90" y1="230.80" x2="245.70" y2="230.80" stroke="#a62b2b" stroke-width="0.5" stroke-opacity="0.7"/>
<line x1="243.90" y1="233.80" x2="245.70" y2="233.80" stroke="#a62b2b" stroke-width="0.5" stroke-opacity="0.7"/>
<circle cx="244.80" cy="232.30" r="1.49" fill="#a62b2b"/>
<line x1="271.60" y1="250.55" x2="271.60" y2="256.55" stroke="#a62b2b" stroke-width="0.5" stroke-opacity="0.7"/>
<line x1="270.70" y1="250.55" x2="272.50" y2="250.55" stroke="#a62b2b" stroke-width="0.5" stroke-opacity="0.7"/>
<line x1="270.70" y1="256.55" x2="272.50" y2="256.55" stroke="#a62b2b" stroke-width="0.5" stroke-opacity="0.7"/>
<circle cx="271.60" cy="253.55" r="1.49" fill="#a62b2b"/>
<line x1="218.20" y1="225.35" x2="218.20" y2="227.35" stroke="#a62b2b" stroke-width="0.5" stroke-opacity="0.7"/>
<line x1="217.30" y1="225.35" x2="219.10" y2="225.35" stroke="#a62b2b" stroke-width="0.5" stroke-opacity="0.7"/>
<line x1="217.30" y1="227.35" x2="219.10" y2="227.35" stroke="#a62b2b" stroke-width="0.5" stroke-opacity="0.7"/>
<line x1="216.24" y1="226.35" x2="220.16" y2="226.35" stroke="#a62b2b" stroke-width="0.6" />
<line x1="218.20" y1="224.40" x2="218.20" y2="228.31" stroke="#a62b2b" stroke-width="0.6" />
<line x1="244.80" y1="237.10" x2="244.80" y2="241.10" stroke="#a62b2b" stroke-width="0.5" stroke-opacity="0.7"/>
<line x1="243.90" y1="237.10" x2="245.70" y2="237.10" stroke="#a62b2b" stroke-width="0.5" stroke-opacity="0.7"/>
<line x1="243.90" y1="241.10" x2="245.70" y2="241.10" stroke="#a62b2b" stroke-width="0.5" stroke-opacity="0.7"/>
<line x1="242.84" y1="239.10" x2="246.76" y2="239.10" stroke="#a62b2b" stroke-width="0.6" />
<line x1="244.80" y1="237.14" x2="244.80" y2="241.06" stroke="#a62b2b" stroke-width="0.6" />
<line x1="271.60" y1="251.25" x2="271.60" y2="259.25" stroke="#a62b2b" stroke-width="0.5" stroke-opacity="0.7"/>
<line x1="270.70" y1="251.25" x2="272.50" y2="251.25" stroke="#a62b2b" stroke-width="0.5" stroke-opacity="0.7"/>
<line x1="270.70" y1="259.25" x2="272.50" y2="259.25" stroke="#a62b2b" stroke-width="0.5" stroke-opacity="0.7"/>
<line x1="269.65" y1="255.25" x2="273.56" y2="255.25" stroke="#a62b2b" stroke-width="0.6" />
<line x1="271.60" y1="253.29" x2="271.60" y2="257.20" stroke="#a62b2b" stroke-width="0.6" />
<line x1="218.20" y1="228.75" x2="218.20" y2="230.75" stroke="#a62b2b" stroke-width="0.5" stroke-opacity="0.7"/>
<line x1="217.30" y1="228.75" x2="219.10" y2="228.75" stroke="#a62b2b" stroke-width="0.5" stroke-opacity="0.7"/>
<line x1="217.30" y1="230.75" x2="219.10" y2="230.75" stroke="#a62b2b" stroke-width="0.5" stroke-opacity="0.7"/>
<line x1="216.47" y1="229.75" x2="219.92" y2="229.75" stroke="#a62b2b" stroke-width="0.6" />
<line x1="218.20" y1="228.03" x2="218.20" y2="231.47" stroke="#a62b2b" stroke-width="0.6" />
<line x1="216.94" y1="228.49" x2="219.46" y2="231.01" stroke="#a62b2b" stroke-width="0.6" />
<line x1="216.94" y1="231.01" x2="219.46" y2="228.49" stroke="#a62b2b" stroke-width="0.6" />
<line x1="244.80" y1="252.40" x2="244.80" y2="256.40" stroke="#a62b2b" stroke-width="0.5" stroke-opacity="0.7"/>
<line x1="243.90" y1="252.40" x2="245.70" y2="252.40" stroke="#a62b2b" stroke-width="0.5" stroke-opacity="0.7"/>
<line x1="243.90" y1="256.40" x2="245.70" y2="256.40" stroke="#a62b2b" stroke-width="0.5" stroke-opacity="0.7"/>
<line x1="243.08" y1="254.40" x2="246.53" y2="254.40" stroke="#a62b2b" stroke-width="0.6" />
<line x1="244.80" y1="252.68" x2="244.80" y2="256.12" stroke="#a62b2b" stroke-width="0.6" />
<line x1="243.54" y1="253.14" x2="246.06" y2="255.66" stroke="#a62b2b" stroke-width="0.6" />
<line x1="243.54" y1="255.66" x2="246.06" y2="253.14" stroke="#a62b2b" stroke-width="0.6" />
<line x1="271.60" y1="262.45" x2="271.60" y2="268.45" stroke="#a62b2b" stroke-width="0.5" stroke-opacity="0.7"/>
<line x1="270.70" y1="262.45" x2="272.50" y2="262.45" stroke="#a62b2b" stroke-width="0.5" stroke-opacity="0.7"/>
<line x1="270.70" y1="268.45" x2="272.50" y2="268.45" stroke="#a62b2b" stroke-width="0.5" stroke-opacity="0.7"/>
<line x1="269.88" y1="265.45" x2="273.33" y2="265.45" stroke="#a62b2b" stroke-width="0.6" />
<line x1="271.60" y1="263.72" x2="271.60" y2="267.18" stroke="#a62b2b" stroke-width="0.6" />
<line x1="270.34" y1="264.19" x2="272.87" y2="266.71" stroke="#a62b2b" stroke-width="0.6" />
<line x1="270.34" y1="266.71" x2="272.87" y2="264.19" stroke="#a62b2b" stroke-width="0.6" />
<line x1="218.20" y1="229.60" x2="218.20" y2="231.60" stroke="#a62b2b" stroke-width="0.5" stroke-opacity="0.7"/>
<line x1="217.30" y1="229.60" x2="219.10" y2="229.60" stroke="#a62b2b" stroke-width="0.5" stroke-opacity="0.7"/>
<line x1="217.30" y1="231.60" x2="219.10" y2="231.60" stroke="#a62b2b" stroke-width="0.5" stroke-opacity="0.7"/>
<rect x="216.70" y="229.10" width="2.99" height="2.99" fill="none" stroke="#a62b2b" stroke-width="0.6" rx="0" />
<line x1="216.70" y1="229.10" x2="219.69" y2="232.09" stroke="#a62b2b" stroke-width="0.5" />
<line x1="216.70" y1="232.09" x2="219.69" y2="229.10" stroke="#a62b2b" stroke-width="0.5" />
<line x1="244.80" y1="253.25" x2="244.80" y2="257.25" stroke="#a62b2b" stroke-width="0.5" stroke-opacity="0.7"/>
<line x1="243.90" y1="253.25" x2="245.70" y2="253.25" stroke="#a62b2b" stroke-width="0.5" stroke-opacity="0.7"/>
<line x1="243.90" y1="257.25" x2="245.70" y2="257.25" stroke="#a62b2b" stroke-width="0.5" stroke-opacity="0.7"/>
<rect x="243.31" y="253.75" width="2.99" height="2.99" fill="none" stroke="#a62b2b" stroke-width="0.6" rx="0" />
<line x1="243.31" y1="253.75" x2="246.30" y2="256.75" stroke="#a62b2b" stroke-width="0.5" />
<line x1="243.31" y1="256.75" x2="246.30" y2="253.75" stroke="#a62b2b" stroke-width="0.5" />
<line x1="271.60" y1="269.25" x2="271.60" y2="275.25" stroke="#a62b2b" stroke-width="0.5" stroke-opacity="0.7"/>
<line x1="270.70" y1="269.25" x2="272.50" y2="269.25" stroke="#a62b2b" stroke-width="0.5" stroke-opacity="0.7"/>
<line x1="270.70" y1="275.25" x2="272.50" y2="275.25" stroke="#a62b2b" stroke-width="0.5" stroke-opacity="0.7"/>
<rect x="270.11" y="270.75" width="2.99" height="2.99" fill="none" stroke="#a62b2b" stroke-width="0.6" rx="0" />
<line x1="270.11" y1="270.75" x2="273.10" y2="273.75" stroke="#a62b2b" stroke-width="0.5" />
<line x1="270.11" y1="273.75" x2="273.10" y2="270.75" stroke="#a62b2b" stroke-width="0.5" />
<line x1="218.20" y1="231.30" x2="218.20" y2="233.30" stroke="#a62b2b" stroke-width="0.5" stroke-opacity="0.7"/>
<line x1="217.30" y1="231.30" x2="219.10" y2="231.30" stroke="#a62b2b" stroke-width="0.5" stroke-opacity="0.7"/>
<line x1="217.30" y1="233.30" x2="219.10" y2="233.30" stroke="#a62b2b" stroke-width="0.5" stroke-opacity="0.7"/>
<polygon points="218.20,230.34 220.16,232.30 218.20,234.26 216.24,232.30" fill="none" stroke="#a62b2b" stroke-width="0.6"/>
<line x1="216.24" y1="232.30" x2="220.16" y2="232.30" stroke="#a62b2b" stroke-width="0.5" />
<line x1="218.20" y1="230.34" x2="218.20" y2="234.26" stroke="#a62b2b" stroke-width="0.5" />
<line x1="244.80" y1="274.50" x2="244.80" y2="278.50" stroke="#a62b2b" stroke-width="0.5" stroke-opacity="0.7"/>
<line x1="243.90" y1="274.50" x2="245.70" y2="274.50" stroke="#a62b2b" stroke-width="0.5" stroke-opacity="0.7"/>
<line x1="243.90" y1="278.50" x2="245.70" y2="278.50" stroke="#a62b2b" stroke-width="0.5" stroke-opacity="0.7"/>
<polygon points="244.80,274.55 246.76,276.50 244.80,278.45 242.84,276.50" fill="none" stroke="#a62b2b" stroke-width="0.6"/>
<line x1="242.84" y1="276.50" x2="246.76" y2="276.50" stroke="#a62b2b" stroke-width="0.5" />
<line x1="244.80" y1="274.55" x2="244.80" y2="278.45" stroke="#a62b2b" stroke-width="0.5" />
<line x1="271.60" y1="287.25" x2="271.60" y2="291.25" stroke="#a62b2b" stroke-width="0.5" stroke-opacity="0.7"/>
<line x1="270.70" y1="287.25" x2="272.50" y2="287.25" stroke="#a62b2b" stroke-width="0.5" stroke-opacity="0.7"/>
<line x1="270.70" y1="291.25" x2="272.50" y2="291.25" stroke="#a62b2b" stroke-width="0.5" stroke-opacity="0.7"/>
<polygon points="271.60,287.30 273.56,289.25 271.60,291.20 269.65,289.25" fill="none" stroke="#a62b2b" stroke-width="0.6"/>
<line x1="269.65" y1="289.25" x2="273.56" y2="289.25" stroke="#a62b2b" stroke-width="0.5" />
<line x1="271.60" y1="287.30" x2="271.60" y2="291.20" stroke="#a62b2b" stroke-width="0.5" />
<line x1="218.20" y1="230.45" x2="218.20" y2="232.45" stroke="#a62b2b" stroke-width="0.5" stroke-opacity="0.7"/>
<line x1="217.30" y1="230.45" x2="219.10" y2="230.45" stroke="#a62b2b" stroke-width="0.5" stroke-opacity="0.7"/>
<line x1="217.30" y1="232.45" x2="219.10" y2="232.45" stroke="#a62b2b" stroke-width="0.5" stroke-opacity="0.7"/>
<line x1="216.24" y1="231.45" x2="220.16" y2="231.45" stroke="#a62b2b" stroke-width="0.6" />
<line x1="218.20" y1="229.49" x2="218.20" y2="233.41" stroke="#a62b2b" stroke-width="0.6" />
<line x1="244.80" y1="273.65" x2="244.80" y2="277.65" stroke="#a62b2b" stroke-width="0.5" stroke-opacity="0.7"/>
<line x1="243.90" y1="273.65" x2="245.70" y2="273.65" stroke="#a62b2b" stroke-width="0.5" stroke-opacity="0.7"/>
<line x1="243.90" y1="277.65" x2="245.70" y2="277.65" stroke="#a62b2b" stroke-width="0.5" stroke-opacity="0.7"/>
<line x1="242.84" y1="275.65" x2="246.76" y2="275.65" stroke="#a62b2b" stroke-width="0.6" />
<line x1="244.80" y1="273.69" x2="244.80" y2="277.60" stroke="#a62b2b" stroke-width="0.6" />
<line x1="271.60" y1="286.40" x2="271.60" y2="290.40" stroke="#a62b2b" stroke-width="0.5" stroke-opacity="0.7"/>
<line x1="270.70" y1="286.40" x2="272.50" y2="286.40" stroke="#a62b2b" stroke-width="0.5" stroke-opacity="0.7"/>
<line x1="270.70" y1="290.40" x2="272.50" y2="290.40" stroke="#a62b2b" stroke-width="0.5" stroke-opacity="0.7"/>
<line x1="269.65" y1="288.40" x2="273.56" y2="288.40" stroke="#a62b2b" stroke-width="0.6" />
<line x1="271.60" y1="286.44" x2="271.60" y2="290.35" stroke="#a62b2b" stroke-width="0.6" />
<line x1="218.20" y1="229.60" x2="218.20" y2="231.60" stroke="#111" stroke-width="0.5" stroke-opacity="0.7"/>
<line x1="217.30" y1="229.60" x2="219.10" y2="229.60" stroke="#111" stroke-width="0.5" stroke-opacity="0.7"/>
<line x1="217.30" y1="231.60" x2="219.10" y2="231.60" stroke="#111" stroke-width="0.5" stroke-opacity="0.7"/>
<polygon points="218.20,228.76 219.92,231.75 216.47,231.75" fill="#111"/>
<line x1="244.80" y1="262.45" x2="244.80" y2="268.45" stroke="#111" stroke-width="0.5" stroke-opacity="0.7"/>
<line x1="243.90" y1="262.45" x2="245.70" y2="262.45" stroke="#111" stroke-width="0.5" stroke-opacity="0.7"/>
<line x1="243.90" y1="268.45" x2="245.70" y2="268.45" stroke="#111" stroke-width="0.5" stroke-opacity="0.7"/>
<polygon points="244.80,263.61 246.53,266.60 243.08,266.60" fill="#111"/>
<line x1="271.60" y1="281.30" x2="271.60" y2="285.30" stroke="#111" stroke-width="0.5" stroke-opacity="0.7"/>
<line x1="270.70" y1="281.30" x2="272.50" y2="281.30" stroke="#111" stroke-width="0.5" stroke-opacity="0.7"/>
<line x1="270.70" y1="285.30" x2="272.50" y2="285.30" stroke="#111" stroke-width="0.5" stroke-opacity="0.7"/>
<polygon points="271.60,281.46 273.33,284.45 269.88,284.45" fill="#111"/>
<line x1="218.20" y1="230.45" x2="218.20" y2="232.45" stroke="#111" stroke-width="0.5" stroke-opacity="0.7"/>
<line x1="217.30" y1="230.45" x2="219.10" y2="230.45" stroke="#111" stroke-width="0.5" stroke-opacity="0.7"/>
<line x1="217.30" y1="232.45" x2="219.10" y2="232.45" stroke="#111" stroke-width="0.5" stroke-opacity="0.7"/>
<rect x="216.82" y="230.07" width="2.76" height="2.76" fill="#111" stroke="none" stroke-width="0.8" rx="0" />
<line x1="244.80" y1="265.85" x2="244.80" y2="271.85" stroke="#111" stroke-width="0.5" stroke-opacity="0.7"/>
<line x1="243.90" y1="265.85" x2="245.70" y2="265.85" stroke="#111" stroke-width="0.5" stroke-opacity="0.7"/>
<line x1="243.90" y1="271.85" x2="245.70" y2="271.85" stroke="#111" stroke-width="0.5" stroke-opacity="0.7"/>
<rect x="243.42" y="267.47" width="2.76" height="2.76" fill="#111" stroke="none" stroke-width="0.8" rx="0" />
<line x1="271.60" y1="283.00" x2="271.60" y2="287.00" stroke="#111" stroke-width="0.5" stroke-opacity="0.7"/>
<line x1="270.70" y1="283.00" x2="272.50" y2="283.00" stroke="#111" stroke-width="0.5" stroke-opacity="0.7"/>
<line x1="270.70" y1="287.00" x2="272.50" y2="287.00" stroke="#111" stroke-width="0.5" stroke-opacity="0.7"/>
<rect x="270.22" y="283.62" width="2.76" height="2.76" fill="#111" stroke="none" stroke-width="0.8" rx="0" />
<line x1="218.20" y1="231.30" x2="218.20" y2="233.30" stroke="#111" stroke-width="0.5" stroke-opacity="0.7"/>
<line x1="217.30" y1="231.30" x2="219.10" y2="231.30" stroke="#111" stroke-width="0.5" stroke-opacity="0.7"/>
<line x1="217.30" y1="233.30" x2="219.10" y2="233.30" stroke="#111" stroke-width="0.5" stroke-opacity="0.7"/>
<circle cx="218.20" cy="232.30" r="1.49" fill="#111"/>
<line x1="244.80" y1="273.50" x2="244.80" y2="279.50" stroke="#111" stroke-width="0.5" stroke-opacity="0.7"/>
<line x1="243.90" y1="273.50" x2="245.70" y2="273.50" stroke="#111" stroke-width="0.5" stroke-opacity="0.7"/>
<line x1="243.90" y1="279.50" x2="245.70" y2="279.50" stroke="#111" stroke-width="0.5" stroke-opacity="0.7"/>
<circle cx="244.80" cy="276.50" r="1.49" fill="#111"/>
<line x1="271.60" y1="285.55" x2="271.60" y2="289.55" stroke="#111" stroke-width="0.5" stroke-opacity="0.7"/>
<line x1="270.70" y1="285.55" x2="272.50" y2="285.55" stroke="#111" stroke-width="0.5" stroke-opacity="0.7"/>
<line x1="270.70" y1="289.55" x2="272.50" y2="289.55" stroke="#111" stroke-width="0.5" stroke-opacity="0.7"/>
<circle cx="271.60" cy="287.55" r="1.49" fill="#111"/>
<line x1="202.40" y1="222.40" x2="202.40" y2="294.60" stroke="#222" stroke-width="0.9" />
<line x1="202.40" y1="294.60" x2="288.00" y2="294.60" stroke="#222" stroke-width="0.9" />
<line x1="201.10" y1="293.50" x2="202.40" y2="293.50" stroke="#222" stroke-width="0.6" />
<text x="200.10" y="295.80" font-size="6.4" font-weight="normal" font-style="normal" fill="#333" text-anchor="end"  stroke="#333" stroke-width="0.12">20</text>
<line x1="201.10" y1="276.50" x2="202.40" y2="276.50" stroke="#222" stroke-width="0.6" />
<text x="200.10" y="278.80" font-size="6.4" font-weight="normal" font-style="normal" fill="#333" text-anchor="end"  stroke="#333" stroke-width="0.12">40</text>
<line x1="201.10" y1="259.50" x2="202.40" y2="259.50" stroke="#222" stroke-width="0.6" />
<text x="200.10" y="261.80" font-size="6.4" font-weight="normal" font-style="normal" fill="#333" text-anchor="end"  stroke="#333" stroke-width="0.12">60</text>
<line x1="201.10" y1="242.50" x2="202.40" y2="242.50" stroke="#222" stroke-width="0.6" />
<text x="200.10" y="244.80" font-size="6.4" font-weight="normal" font-style="normal" fill="#333" text-anchor="end"  stroke="#333" stroke-width="0.12">80</text>
<line x1="201.10" y1="225.50" x2="202.40" y2="225.50" stroke="#222" stroke-width="0.6" />
<text x="200.10" y="227.80" font-size="6.4" font-weight="normal" font-style="normal" fill="#333" text-anchor="end"  stroke="#333" stroke-width="0.12">100</text>
<line x1="218.20" y1="294.60" x2="218.20" y2="295.90" stroke="#222" stroke-width="0.6" />
<text x="218.20" y="302.20" font-size="6.4" font-weight="normal" font-style="normal" fill="#333" text-anchor="middle"  stroke="#333" stroke-width="0.12">DIV16</text>
<line x1="244.80" y1="294.60" x2="244.80" y2="295.90" stroke="#222" stroke-width="0.6" />
<text x="244.80" y="302.20" font-size="6.4" font-weight="normal" font-style="normal" fill="#333" text-anchor="middle"  stroke="#333" stroke-width="0.12">DIV23</text>
<line x1="271.60" y1="294.60" x2="271.60" y2="295.90" stroke="#222" stroke-width="0.6" />
<text x="271.60" y="302.20" font-size="6.4" font-weight="normal" font-style="normal" fill="#333" text-anchor="middle"  stroke="#333" stroke-width="0.12">DIV30</text>
<text x="245.00" y="214.50" font-size="8.0" font-weight="bold" font-style="normal" fill="#222" text-anchor="middle"  stroke="#222" stroke-width="0.0">PRS</text>
<text x="154.30" y="210.00" font-size="8.5" font-weight="bold" font-style="normal" fill="#222" text-anchor="start"  stroke="#222" stroke-width="0.0">E</text>
<text font-size="7.0" fill="#222" text-anchor="middle" transform="translate(176.00,259.00) rotate(-90)" textLength="57" lengthAdjust="spacingAndGlyphs" stroke="#222" stroke-width="0.12">Mean percentage</text><text font-size="7.0" fill="#222" text-anchor="middle" transform="translate(185.20,259.00) rotate(-90)" textLength="58" lengthAdjust="spacingAndGlyphs" stroke="#222" stroke-width="0.12">random spikes (%)</text>
<text x="254.0" y="227.4" font-size="6.4" fill="#222" textLength="26.5" lengthAdjust="spacingAndGlyphs" stroke="#222" stroke-width="0.12"><tspan font-style="italic">p</tspan> = 0.042</text>
<text x="272.60" y="246.50" font-size="11" font-weight="normal" font-style="normal" fill="#222" text-anchor="middle"  stroke="#222" stroke-width="0.12">*</text>
<path d="M366.40,293.50 L393.70,274.16 L420.80,257.54" stroke="#a62b2b" stroke-width="0.95" fill="none"/>
<path d="M366.40,293.50 L393.70,275.64 L420.80,258.78" stroke="#a62b2b" stroke-width="0.95" fill="none"/>
<path d="M366.40,293.50 L393.70,277.38 L420.80,260.52" stroke="#a62b2b" stroke-width="0.95" fill="none"/>
<path d="M366.40,293.50 L393.70,278.62 L420.80,276.14" stroke="#a62b2b" stroke-width="0.95" fill="none"/>
<path d="M366.40,293.50 L393.70,291.02 L420.80,267.46" stroke="#a62b2b" stroke-width="0.95" fill="none"/>
<path d="M366.40,293.50 L393.70,290.28 L420.80,282.34" stroke="#a62b2b" stroke-width="0.95" fill="none"/>
<path d="M366.40,283.58 L393.70,243.90 L420.80,231.50" stroke="#111" stroke-width="0.95" fill="none"/>
<path d="M366.40,293.50 L393.70,250.10 L420.80,238.94" stroke="#111" stroke-width="0.95" fill="none"/>
<path d="M366.40,293.50 L393.70,252.58 L420.80,267.46" stroke="#111" stroke-width="0.95" fill="none"/>
<line x1="366.40" y1="293.20" x2="366.40" y2="293.80" stroke="#a62b2b" stroke-width="0.5" stroke-opacity="0.7"/>
<line x1="365.50" y1="293.20" x2="367.30" y2="293.20" stroke="#a62b2b" stroke-width="0.5" stroke-opacity="0.7"/>
<line x1="365.50" y1="293.80" x2="367.30" y2="293.80" stroke="#a62b2b" stroke-width="0.5" stroke-opacity="0.7"/>
<circle cx="366.40" cy="293.50" r="1.49" fill="#a62b2b"/>
<line x1="393.70" y1="273.96" x2="393.70" y2="274.36" stroke="#a62b2b" stroke-width="0.5" stroke-opacity="0.7"/>
<line x1="392.80" y1="273.96" x2="394.60" y2="273.96" stroke="#a62b2b" stroke-width="0.5" stroke-opacity="0.7"/>
<line x1="392.80" y1="274.36" x2="394.60" y2="274.36" stroke="#a62b2b" stroke-width="0.5" stroke-opacity="0.7"/>
<circle cx="393.70" cy="274.16" r="1.49" fill="#a62b2b"/>
<line x1="420.80" y1="257.34" x2="420.80" y2="257.74" stroke="#a62b2b" stroke-width="0.5" stroke-opacity="0.7"/>
<line x1="419.90" y1="257.34" x2="421.70" y2="257.34" stroke="#a62b2b" stroke-width="0.5" stroke-opacity="0.7"/>
<line x1="419.90" y1="257.74" x2="421.70" y2="257.74" stroke="#a62b2b" stroke-width="0.5" stroke-opacity="0.7"/>
<circle cx="420.80" cy="257.54" r="1.49" fill="#a62b2b"/>
<line x1="366.40" y1="293.20" x2="366.40" y2="293.80" stroke="#a62b2b" stroke-width="0.5" stroke-opacity="0.7"/>
<line x1="365.50" y1="293.20" x2="367.30" y2="293.20" stroke="#a62b2b" stroke-width="0.5" stroke-opacity="0.7"/>
<line x1="365.50" y1="293.80" x2="367.30" y2="293.80" stroke="#a62b2b" stroke-width="0.5" stroke-opacity="0.7"/>
<line x1="364.67" y1="293.50" x2="368.12" y2="293.50" stroke="#a62b2b" stroke-width="0.6" />
<line x1="366.40" y1="291.77" x2="366.40" y2="295.23" stroke="#a62b2b" stroke-width="0.6" />
<line x1="365.13" y1="292.24" x2="367.66" y2="294.76" stroke="#a62b2b" stroke-width="0.6" />
<line x1="365.13" y1="294.76" x2="367.66" y2="292.24" stroke="#a62b2b" stroke-width="0.6" />
<line x1="393.70" y1="275.44" x2="393.70" y2="275.84" stroke="#a62b2b" stroke-width="0.5" stroke-opacity="0.7"/>
<line x1="392.80" y1="275.44" x2="394.60" y2="275.44" stroke="#a62b2b" stroke-width="0.5" stroke-opacity="0.7"/>
<line x1="392.80" y1="275.84" x2="394.60" y2="275.84" stroke="#a62b2b" stroke-width="0.5" stroke-opacity="0.7"/>
<line x1="391.97" y1="275.64" x2="395.43" y2="275.64" stroke="#a62b2b" stroke-width="0.6" />
<line x1="393.70" y1="273.92" x2="393.70" y2="277.37" stroke="#a62b2b" stroke-width="0.6" />
<line x1="392.44" y1="274.38" x2="394.96" y2="276.91" stroke="#a62b2b" stroke-width="0.6" />
<line x1="392.44" y1="276.91" x2="394.96" y2="274.38" stroke="#a62b2b" stroke-width="0.6" />
<line x1="420.80" y1="258.58" x2="420.80" y2="258.98" stroke="#a62b2b" stroke-width="0.5" stroke-opacity="0.7"/>
<line x1="419.90" y1="258.58" x2="421.70" y2="258.58" stroke="#a62b2b" stroke-width="0.5" stroke-opacity="0.7"/>
<line x1="419.90" y1="258.98" x2="421.70" y2="258.98" stroke="#a62b2b" stroke-width="0.5" stroke-opacity="0.7"/>
<line x1="419.07" y1="258.78" x2="422.53" y2="258.78" stroke="#a62b2b" stroke-width="0.6" />
<line x1="420.80" y1="257.05" x2="420.80" y2="260.50" stroke="#a62b2b" stroke-width="0.6" />
<line x1="419.54" y1="257.51" x2="422.06" y2="260.04" stroke="#a62b2b" stroke-width="0.6" />
<line x1="419.54" y1="260.04" x2="422.06" y2="257.51" stroke="#a62b2b" stroke-width="0.6" />
<line x1="366.40" y1="293.20" x2="366.40" y2="293.80" stroke="#a62b2b" stroke-width="0.5" stroke-opacity="0.7"/>
<line x1="365.50" y1="293.20" x2="367.30" y2="293.20" stroke="#a62b2b" stroke-width="0.5" stroke-opacity="0.7"/>
<line x1="365.50" y1="293.80" x2="367.30" y2="293.80" stroke="#a62b2b" stroke-width="0.5" stroke-opacity="0.7"/>
<polygon points="366.40,291.55 368.35,293.50 366.40,295.45 364.44,293.50" fill="none" stroke="#a62b2b" stroke-width="0.6"/>
<line x1="364.44" y1="293.50" x2="368.35" y2="293.50" stroke="#a62b2b" stroke-width="0.5" />
<line x1="366.40" y1="291.55" x2="366.40" y2="295.45" stroke="#a62b2b" stroke-width="0.5" />
<line x1="393.70" y1="277.18" x2="393.70" y2="277.58" stroke="#a62b2b" stroke-width="0.5" stroke-opacity="0.7"/>
<line x1="392.80" y1="277.18" x2="394.60" y2="277.18" stroke="#a62b2b" stroke-width="0.5" stroke-opacity="0.7"/>
<line x1="392.80" y1="277.58" x2="394.60" y2="277.58" stroke="#a62b2b" stroke-width="0.5" stroke-opacity="0.7"/>
<polygon points="393.70,275.43 395.65,277.38 393.70,279.33 391.75,277.38" fill="none" stroke="#a62b2b" stroke-width="0.6"/>
<line x1="391.75" y1="277.38" x2="395.65" y2="277.38" stroke="#a62b2b" stroke-width="0.5" />
<line x1="393.70" y1="275.43" x2="393.70" y2="279.33" stroke="#a62b2b" stroke-width="0.5" />
<line x1="420.80" y1="260.32" x2="420.80" y2="260.72" stroke="#a62b2b" stroke-width="0.5" stroke-opacity="0.7"/>
<line x1="419.90" y1="260.32" x2="421.70" y2="260.32" stroke="#a62b2b" stroke-width="0.5" stroke-opacity="0.7"/>
<line x1="419.90" y1="260.72" x2="421.70" y2="260.72" stroke="#a62b2b" stroke-width="0.5" stroke-opacity="0.7"/>
<polygon points="420.80,258.56 422.75,260.52 420.80,262.47 418.85,260.52" fill="none" stroke="#a62b2b" stroke-width="0.6"/>
<line x1="418.85" y1="260.52" x2="422.75" y2="260.52" stroke="#a62b2b" stroke-width="0.5" />
<line x1="420.80" y1="258.56" x2="420.80" y2="262.47" stroke="#a62b2b" stroke-width="0.5" />
<line x1="366.40" y1="293.20" x2="366.40" y2="293.80" stroke="#a62b2b" stroke-width="0.5" stroke-opacity="0.7"/>
<line x1="365.50" y1="293.20" x2="367.30" y2="293.20" stroke="#a62b2b" stroke-width="0.5" stroke-opacity="0.7"/>
<line x1="365.50" y1="293.80" x2="367.30" y2="293.80" stroke="#a62b2b" stroke-width="0.5" stroke-opacity="0.7"/>
<line x1="364.44" y1="293.50" x2="368.35" y2="293.50" stroke="#a62b2b" stroke-width="0.6" />
<line x1="366.40" y1="291.55" x2="366.40" y2="295.45" stroke="#a62b2b" stroke-width="0.6" />
<line x1="393.70" y1="278.42" x2="393.70" y2="278.82" stroke="#a62b2b" stroke-width="0.5" stroke-opacity="0.7"/>
<line x1="392.80" y1="278.42" x2="394.60" y2="278.42" stroke="#a62b2b" stroke-width="0.5" stroke-opacity="0.7"/>
<line x1="392.80" y1="278.82" x2="394.60" y2="278.82" stroke="#a62b2b" stroke-width="0.5" stroke-opacity="0.7"/>
<line x1="391.75" y1="278.62" x2="395.65" y2="278.62" stroke="#a62b2b" stroke-width="0.6" />
<line x1="393.70" y1="276.67" x2="393.70" y2="280.57" stroke="#a62b2b" stroke-width="0.6" />
<line x1="420.80" y1="275.94" x2="420.80" y2="276.34" stroke="#a62b2b" stroke-width="0.5" stroke-opacity="0.7"/>
<line x1="419.90" y1="275.94" x2="421.70" y2="275.94" stroke="#a62b2b" stroke-width="0.5" stroke-opacity="0.7"/>
<line x1="419.90" y1="276.34" x2="421.70" y2="276.34" stroke="#a62b2b" stroke-width="0.5" stroke-opacity="0.7"/>
<line x1="418.85" y1="276.14" x2="422.75" y2="276.14" stroke="#a62b2b" stroke-width="0.6" />
<line x1="420.80" y1="274.19" x2="420.80" y2="278.09" stroke="#a62b2b" stroke-width="0.6" />
<line x1="366.40" y1="293.20" x2="366.40" y2="293.80" stroke="#a62b2b" stroke-width="0.5" stroke-opacity="0.7"/>
<line x1="365.50" y1="293.20" x2="367.30" y2="293.20" stroke="#a62b2b" stroke-width="0.5" stroke-opacity="0.7"/>
<line x1="365.50" y1="293.80" x2="367.30" y2="293.80" stroke="#a62b2b" stroke-width="0.5" stroke-opacity="0.7"/>
<rect x="364.90" y="292.00" width="2.99" height="2.99" fill="none" stroke="#a62b2b" stroke-width="0.6" rx="0" />
<line x1="364.90" y1="292.00" x2="367.89" y2="295.00" stroke="#a62b2b" stroke-width="0.5" />
<line x1="364.90" y1="295.00" x2="367.89" y2="292.00" stroke="#a62b2b" stroke-width="0.5" />
<line x1="393.70" y1="290.82" x2="393.70" y2="291.22" stroke="#a62b2b" stroke-width="0.5" stroke-opacity="0.7"/>
<line x1="392.80" y1="290.82" x2="394.60" y2="290.82" stroke="#a62b2b" stroke-width="0.5" stroke-opacity="0.7"/>
<line x1="392.80" y1="291.22" x2="394.60" y2="291.22" stroke="#a62b2b" stroke-width="0.5" stroke-opacity="0.7"/>
<rect x="392.20" y="289.52" width="2.99" height="2.99" fill="none" stroke="#a62b2b" stroke-width="0.6" rx="0" />
<line x1="392.20" y1="289.52" x2="395.19" y2="292.51" stroke="#a62b2b" stroke-width="0.5" />
<line x1="392.20" y1="292.51" x2="395.19" y2="289.52" stroke="#a62b2b" stroke-width="0.5" />
<line x1="420.80" y1="267.26" x2="420.80" y2="267.66" stroke="#a62b2b" stroke-width="0.5" stroke-opacity="0.7"/>
<line x1="419.90" y1="267.26" x2="421.70" y2="267.26" stroke="#a62b2b" stroke-width="0.5" stroke-opacity="0.7"/>
<line x1="419.90" y1="267.66" x2="421.70" y2="267.66" stroke="#a62b2b" stroke-width="0.5" stroke-opacity="0.7"/>
<rect x="419.31" y="265.96" width="2.99" height="2.99" fill="none" stroke="#a62b2b" stroke-width="0.6" rx="0" />
<line x1="419.31" y1="265.96" x2="422.30" y2="268.95" stroke="#a62b2b" stroke-width="0.5" />
<line x1="419.31" y1="268.95" x2="422.30" y2="265.96" stroke="#a62b2b" stroke-width="0.5" />
<line x1="366.40" y1="293.20" x2="366.40" y2="293.80" stroke="#a62b2b" stroke-width="0.5" stroke-opacity="0.7"/>
<line x1="365.50" y1="293.20" x2="367.30" y2="293.20" stroke="#a62b2b" stroke-width="0.5" stroke-opacity="0.7"/>
<line x1="365.50" y1="293.80" x2="367.30" y2="293.80" stroke="#a62b2b" stroke-width="0.5" stroke-opacity="0.7"/>
<line x1="364.44" y1="293.50" x2="368.35" y2="293.50" stroke="#a62b2b" stroke-width="0.6" />
<line x1="366.40" y1="291.55" x2="366.40" y2="295.45" stroke="#a62b2b" stroke-width="0.6" />
<line x1="393.70" y1="290.08" x2="393.70" y2="290.48" stroke="#a62b2b" stroke-width="0.5" stroke-opacity="0.7"/>
<line x1="392.80" y1="290.08" x2="394.60" y2="290.08" stroke="#a62b2b" stroke-width="0.5" stroke-opacity="0.7"/>
<line x1="392.80" y1="290.48" x2="394.60" y2="290.48" stroke="#a62b2b" stroke-width="0.5" stroke-opacity="0.7"/>
<line x1="391.75" y1="290.28" x2="395.65" y2="290.28" stroke="#a62b2b" stroke-width="0.6" />
<line x1="393.70" y1="288.32" x2="393.70" y2="292.23" stroke="#a62b2b" stroke-width="0.6" />
<line x1="420.80" y1="282.14" x2="420.80" y2="282.54" stroke="#a62b2b" stroke-width="0.5" stroke-opacity="0.7"/>
<line x1="419.90" y1="282.14" x2="421.70" y2="282.14" stroke="#a62b2b" stroke-width="0.5" stroke-opacity="0.7"/>
<line x1="419.90" y1="282.54" x2="421.70" y2="282.54" stroke="#a62b2b" stroke-width="0.5" stroke-opacity="0.7"/>
<line x1="418.85" y1="282.34" x2="422.75" y2="282.34" stroke="#a62b2b" stroke-width="0.6" />
<line x1="420.80" y1="280.38" x2="420.80" y2="284.29" stroke="#a62b2b" stroke-width="0.6" />
<line x1="366.40" y1="278.58" x2="366.40" y2="288.58" stroke="#111" stroke-width="0.5" stroke-opacity="0.7"/>
<line x1="365.50" y1="278.58" x2="367.30" y2="278.58" stroke="#111" stroke-width="0.5" stroke-opacity="0.7"/>
<line x1="365.50" y1="288.58" x2="367.30" y2="288.58" stroke="#111" stroke-width="0.5" stroke-opacity="0.7"/>
<polygon points="366.40,281.74 368.12,284.73 364.67,284.73" fill="#111"/>
<line x1="393.70" y1="238.90" x2="393.70" y2="248.90" stroke="#111" stroke-width="0.5" stroke-opacity="0.7"/>
<line x1="392.80" y1="238.90" x2="394.60" y2="238.90" stroke="#111" stroke-width="0.5" stroke-opacity="0.7"/>
<line x1="392.80" y1="248.90" x2="394.60" y2="248.90" stroke="#111" stroke-width="0.5" stroke-opacity="0.7"/>
<polygon points="393.70,242.06 395.43,245.05 391.97,245.05" fill="#111"/>
<line x1="420.80" y1="228.50" x2="420.80" y2="234.50" stroke="#111" stroke-width="0.5" stroke-opacity="0.7"/>
<line x1="419.90" y1="228.50" x2="421.70" y2="228.50" stroke="#111" stroke-width="0.5" stroke-opacity="0.7"/>
<line x1="419.90" y1="234.50" x2="421.70" y2="234.50" stroke="#111" stroke-width="0.5" stroke-opacity="0.7"/>
<polygon points="420.80,229.66 422.53,232.65 419.07,232.65" fill="#111"/>
<line x1="366.40" y1="292.50" x2="366.40" y2="294.50" stroke="#111" stroke-width="0.5" stroke-opacity="0.7"/>
<line x1="365.50" y1="292.50" x2="367.30" y2="292.50" stroke="#111" stroke-width="0.5" stroke-opacity="0.7"/>
<line x1="365.50" y1="294.50" x2="367.30" y2="294.50" stroke="#111" stroke-width="0.5" stroke-opacity="0.7"/>
<rect x="365.02" y="292.12" width="2.76" height="2.76" fill="#111" stroke="none" stroke-width="0.8" rx="0" />
<line x1="393.70" y1="246.10" x2="393.70" y2="254.10" stroke="#111" stroke-width="0.5" stroke-opacity="0.7"/>
<line x1="392.80" y1="246.10" x2="394.60" y2="246.10" stroke="#111" stroke-width="0.5" stroke-opacity="0.7"/>
<line x1="392.80" y1="254.10" x2="394.60" y2="254.10" stroke="#111" stroke-width="0.5" stroke-opacity="0.7"/>
<rect x="392.32" y="248.72" width="2.76" height="2.76" fill="#111" stroke="none" stroke-width="0.8" rx="0" />
<line x1="420.80" y1="235.94" x2="420.80" y2="241.94" stroke="#111" stroke-width="0.5" stroke-opacity="0.7"/>
<line x1="419.90" y1="235.94" x2="421.70" y2="235.94" stroke="#111" stroke-width="0.5" stroke-opacity="0.7"/>
<line x1="419.90" y1="241.94" x2="421.70" y2="241.94" stroke="#111" stroke-width="0.5" stroke-opacity="0.7"/>
<rect x="419.42" y="237.56" width="2.76" height="2.76" fill="#111" stroke="none" stroke-width="0.8" rx="0" />
<line x1="366.40" y1="292.50" x2="366.40" y2="294.50" stroke="#111" stroke-width="0.5" stroke-opacity="0.7"/>
<line x1="365.50" y1="292.50" x2="367.30" y2="292.50" stroke="#111" stroke-width="0.5" stroke-opacity="0.7"/>
<line x1="365.50" y1="294.50" x2="367.30" y2="294.50" stroke="#111" stroke-width="0.5" stroke-opacity="0.7"/>
<circle cx="366.40" cy="293.50" r="1.49" fill="#111"/>
<line x1="393.70" y1="248.58" x2="393.70" y2="256.58" stroke="#111" stroke-width="0.5" stroke-opacity="0.7"/>
<line x1="392.80" y1="248.58" x2="394.60" y2="248.58" stroke="#111" stroke-width="0.5" stroke-opacity="0.7"/>
<line x1="392.80" y1="256.58" x2="394.60" y2="256.58" stroke="#111" stroke-width="0.5" stroke-opacity="0.7"/>
<circle cx="393.70" cy="252.58" r="1.49" fill="#111"/>
<line x1="420.80" y1="263.46" x2="420.80" y2="271.46" stroke="#111" stroke-width="0.5" stroke-opacity="0.7"/>
<line x1="419.90" y1="263.46" x2="421.70" y2="263.46" stroke="#111" stroke-width="0.5" stroke-opacity="0.7"/>
<line x1="419.90" y1="271.46" x2="421.70" y2="271.46" stroke="#111" stroke-width="0.5" stroke-opacity="0.7"/>
<circle cx="420.80" cy="267.46" r="1.49" fill="#111"/>
<line x1="349.60" y1="224.30" x2="349.60" y2="296.20" stroke="#222" stroke-width="0.9" />
<line x1="349.60" y1="296.20" x2="437.60" y2="296.20" stroke="#222" stroke-width="0.9" />
<line x1="348.30" y1="293.50" x2="349.60" y2="293.50" stroke="#222" stroke-width="0.6" />
<text x="347.30" y="295.80" font-size="6.4" font-weight="normal" font-style="normal" fill="#333" text-anchor="end"  stroke="#333" stroke-width="0.12">0</text>
<line x1="348.30" y1="268.70" x2="349.60" y2="268.70" stroke="#222" stroke-width="0.6" />
<text x="347.30" y="271.00" font-size="6.4" font-weight="normal" font-style="normal" fill="#333" text-anchor="end"  stroke="#333" stroke-width="0.12">1</text>
<line x1="348.30" y1="243.90" x2="349.60" y2="243.90" stroke="#222" stroke-width="0.6" />
<text x="347.30" y="246.20" font-size="6.4" font-weight="normal" font-style="normal" fill="#333" text-anchor="end"  stroke="#333" stroke-width="0.12">2</text>
<line x1="366.40" y1="296.20" x2="366.40" y2="297.50" stroke="#222" stroke-width="0.6" />
<text x="366.40" y="303.80" font-size="6.4" font-weight="normal" font-style="normal" fill="#333" text-anchor="middle"  stroke="#333" stroke-width="0.12">DIV16</text>
<line x1="393.70" y1="296.20" x2="393.70" y2="297.50" stroke="#222" stroke-width="0.6" />
<text x="393.70" y="303.80" font-size="6.4" font-weight="normal" font-style="normal" fill="#333" text-anchor="middle"  stroke="#333" stroke-width="0.12">DIV23</text>
<line x1="420.80" y1="296.20" x2="420.80" y2="297.50" stroke="#222" stroke-width="0.6" />
<text x="420.80" y="303.80" font-size="6.4" font-weight="normal" font-style="normal" fill="#333" text-anchor="middle"  stroke="#333" stroke-width="0.12">DIV30</text>
<text x="387.40" y="214.50" font-size="8.0" font-weight="bold" font-style="normal" fill="#222" text-anchor="middle"  stroke="#222" stroke-width="0.0">NBR</text>
<text x="311.00" y="210.00" font-size="8.5" font-weight="bold" font-style="normal" fill="#222" text-anchor="start"  stroke="#222" stroke-width="0.0">F</text>
<text font-size="7.0" fill="#222" text-anchor="middle" transform="translate(326.80,261.60) rotate(-90)" textLength="66" lengthAdjust="spacingAndGlyphs" stroke="#222" stroke-width="0.12">Mean network burst</text><text font-size="7.0" fill="#222" text-anchor="middle" transform="translate(336.00,261.60) rotate(-90)" textLength="45" lengthAdjust="spacingAndGlyphs" stroke="#222" stroke-width="0.12">rate (NB/min)</text>
<text x="355.2" y="229.0" font-size="6.4" fill="#222" textLength="25.5" lengthAdjust="spacingAndGlyphs" stroke="#222" stroke-width="0.12"><tspan font-style="italic">p</tspan> = 0.002</text>
<text x="389.30" y="237.60" font-size="11" font-weight="normal" font-style="normal" fill="#222" text-anchor="middle"  stroke="#222" stroke-width="0.12">*</text>
<text x="394.30" y="237.60" font-size="11" font-weight="normal" font-style="normal" fill="#222" text-anchor="middle"  stroke="#222" stroke-width="0.12">*</text>
<text x="399.30" y="237.60" font-size="11" font-weight="normal" font-style="normal" fill="#222" text-anchor="middle"  stroke="#222" stroke-width="0.12">*</text>
<path d="M61.90,360.18 L88.00,382.28 L114.00,393.72" stroke="#a62b2b" stroke-width="0.95" fill="none"/>
<path d="M61.90,384.10 L88.00,385.40 L114.00,401.52" stroke="#a62b2b" stroke-width="0.95" fill="none"/>
<path d="M61.90,388.00 L88.00,395.02 L114.00,401.78" stroke="#a62b2b" stroke-width="0.95" fill="none"/>
<path d="M61.90,389.30 L88.00,395.28 L114.00,402.04" stroke="#a62b2b" stroke-width="0.95" fill="none"/>
<path d="M61.90,390.60 L88.00,395.02 L114.00,401.78" stroke="#a62b2b" stroke-width="0.95" fill="none"/>
<path d="M61.90,391.90 L88.00,403.08 L114.00,405.68" stroke="#111" stroke-width="0.95" fill="none"/>
<path d="M61.90,393.20 L88.00,403.60 L114.00,406.20" stroke="#111" stroke-width="0.95" fill="none"/>
<path d="M61.90,394.50 L88.00,403.60 L114.00,406.46" stroke="#111" stroke-width="0.95" fill="none"/>
<line x1="61.90" y1="340.18" x2="61.90" y2="380.18" stroke="#a62b2b" stroke-width="0.5" stroke-opacity="0.7"/>
<line x1="61.00" y1="340.18" x2="62.80" y2="340.18" stroke="#a62b2b" stroke-width="0.5" stroke-opacity="0.7"/>
<line x1="61.00" y1="380.18" x2="62.80" y2="380.18" stroke="#a62b2b" stroke-width="0.5" stroke-opacity="0.7"/>
<line x1="59.95" y1="360.18" x2="63.85" y2="360.18" stroke="#a62b2b" stroke-width="0.6" />
<line x1="61.90" y1="358.22" x2="61.90" y2="362.13" stroke="#a62b2b" stroke-width="0.6" />
<line x1="88.00" y1="377.28" x2="88.00" y2="387.28" stroke="#a62b2b" stroke-width="0.5" stroke-opacity="0.7"/>
<line x1="87.10" y1="377.28" x2="88.90" y2="377.28" stroke="#a62b2b" stroke-width="0.5" stroke-opacity="0.7"/>
<line x1="87.10" y1="387.28" x2="88.90" y2="387.28" stroke="#a62b2b" stroke-width="0.5" stroke-opacity="0.7"/>
<line x1="86.05" y1="382.28" x2="89.95" y2="382.28" stroke="#a62b2b" stroke-width="0.6" />
<line x1="88.00" y1="380.32" x2="88.00" y2="384.23" stroke="#a62b2b" stroke-width="0.6" />
<line x1="114.00" y1="390.72" x2="114.00" y2="396.72" stroke="#a62b2b" stroke-width="0.5" stroke-opacity="0.7"/>
<line x1="113.10" y1="390.72" x2="114.90" y2="390.72" stroke="#a62b2b" stroke-width="0.5" stroke-opacity="0.7"/>
<line x1="113.10" y1="396.72" x2="114.90" y2="396.72" stroke="#a62b2b" stroke-width="0.5" stroke-opacity="0.7"/>
<line x1="112.05" y1="393.72" x2="115.95" y2="393.72" stroke="#a62b2b" stroke-width="0.6" />
<line x1="114.00" y1="391.76" x2="114.00" y2="395.67" stroke="#a62b2b" stroke-width="0.6" />
<line x1="61.90" y1="379.10" x2="61.90" y2="389.10" stroke="#a62b2b" stroke-width="0.5" stroke-opacity="0.7"/>
<line x1="61.00" y1="379.10" x2="62.80" y2="379.10" stroke="#a62b2b" stroke-width="0.5" stroke-opacity="0.7"/>
<line x1="61.00" y1="389.10" x2="62.80" y2="389.10" stroke="#a62b2b" stroke-width="0.5" stroke-opacity="0.7"/>
<circle cx="61.90" cy="384.10" r="1.49" fill="#a62b2b"/>
<line x1="88.00" y1="377.40" x2="88.00" y2="393.40" stroke="#a62b2b" stroke-width="0.5" stroke-opacity="0.7"/>
<line x1="87.10" y1="377.40" x2="88.90" y2="377.40" stroke="#a62b2b" stroke-width="0.5" stroke-opacity="0.7"/>
<line x1="87.10" y1="393.40" x2="88.90" y2="393.40" stroke="#a62b2b" stroke-width="0.5" stroke-opacity="0.7"/>
<circle cx="88.00" cy="385.40" r="1.49" fill="#a62b2b"/>
<line x1="114.00" y1="399.52" x2="114.00" y2="403.52" stroke="#a62b2b" stroke-width="0.5" stroke-opacity="0.7"/>
<line x1="113.10" y1="399.52" x2="114.90" y2="399.52" stroke="#a62b2b" stroke-width="0.5" stroke-opacity="0.7"/>
<line x1="113.10" y1="403.52" x2="114.90" y2="403.52" stroke="#a62b2b" stroke-width="0.5" stroke-opacity="0.7"/>
<circle cx="114.00" cy="401.52" r="1.49" fill="#a62b2b"/>
<line x1="61.90" y1="384.00" x2="61.90" y2="392.00" stroke="#a62b2b" stroke-width="0.5" stroke-opacity="0.7"/>
<line x1="61.00" y1="384.00" x2="62.80" y2="384.00" stroke="#a62b2b" stroke-width="0.5" stroke-opacity="0.7"/>
<line x1="61.00" y1="392.00" x2="62.80" y2="392.00" stroke="#a62b2b" stroke-width="0.5" stroke-opacity="0.7"/>
<line x1="60.17" y1="388.00" x2="63.62" y2="388.00" stroke="#a62b2b" stroke-width="0.6" />
<line x1="61.90" y1="386.27" x2="61.90" y2="389.73" stroke="#a62b2b" stroke-width="0.6" />
<line x1="60.63" y1="386.74" x2="63.16" y2="389.26" stroke="#a62b2b" stroke-width="0.6" />
<line x1="60.63" y1="389.26" x2="63.16" y2="386.74" stroke="#a62b2b" stroke-width="0.6" />
<line x1="88.00" y1="393.02" x2="88.00" y2="397.02" stroke="#a62b2b" stroke-width="0.5" stroke-opacity="0.7"/>
<line x1="87.10" y1="393.02" x2="88.90" y2="393.02" stroke="#a62b2b" stroke-width="0.5" stroke-opacity="0.7"/>
<line x1="87.10" y1="397.02" x2="88.90" y2="397.02" stroke="#a62b2b" stroke-width="0.5" stroke-opacity="0.7"/>
<line x1="86.28" y1="395.02" x2="89.72" y2="395.02" stroke="#a62b2b" stroke-width="0.6" />
<line x1="88.00" y1="393.29" x2="88.00" y2="396.75" stroke="#a62b2b" stroke-width="0.6" />
<line x1="86.73" y1="393.75" x2="89.27" y2="396.28" stroke="#a62b2b" stroke-width="0.6" />
<line x1="86.73" y1="396.28" x2="89.27" y2="393.75" stroke="#a62b2b" stroke-width="0.6" />
<line x1="114.00" y1="399.78" x2="114.00" y2="403.78" stroke="#a62b2b" stroke-width="0.5" stroke-opacity="0.7"/>
<line x1="113.10" y1="399.78" x2="114.90" y2="399.78" stroke="#a62b2b" stroke-width="0.5" stroke-opacity="0.7"/>
<line x1="113.10" y1="403.78" x2="114.90" y2="403.78" stroke="#a62b2b" stroke-width="0.5" stroke-opacity="0.7"/>
<line x1="112.28" y1="401.78" x2="115.72" y2="401.78" stroke="#a62b2b" stroke-width="0.6" />
<line x1="114.00" y1="400.05" x2="114.00" y2="403.50" stroke="#a62b2b" stroke-width="0.6" />
<line x1="112.73" y1="400.51" x2="115.27" y2="403.04" stroke="#a62b2b" stroke-width="0.6" />
<line x1="112.73" y1="403.04" x2="115.27" y2="400.51" stroke="#a62b2b" stroke-width="0.6" />
<line x1="61.90" y1="385.30" x2="61.90" y2="393.30" stroke="#a62b2b" stroke-width="0.5" stroke-opacity="0.7"/>
<line x1="61.00" y1="385.30" x2="62.80" y2="385.30" stroke="#a62b2b" stroke-width="0.5" stroke-opacity="0.7"/>
<line x1="61.00" y1="393.30" x2="62.80" y2="393.30" stroke="#a62b2b" stroke-width="0.5" stroke-opacity="0.7"/>
<polygon points="61.90,387.34 63.85,389.30 61.90,391.25 59.95,389.30" fill="none" stroke="#a62b2b" stroke-width="0.6"/>
<line x1="59.95" y1="389.30" x2="63.85" y2="389.30" stroke="#a62b2b" stroke-width="0.5" />
<line x1="61.90" y1="387.34" x2="61.90" y2="391.25" stroke="#a62b2b" stroke-width="0.5" />
<line x1="88.00" y1="393.28" x2="88.00" y2="397.28" stroke="#a62b2b" stroke-width="0.5" stroke-opacity="0.7"/>
<line x1="87.10" y1="393.28" x2="88.90" y2="393.28" stroke="#a62b2b" stroke-width="0.5" stroke-opacity="0.7"/>
<line x1="87.10" y1="397.28" x2="88.90" y2="397.28" stroke="#a62b2b" stroke-width="0.5" stroke-opacity="0.7"/>
<polygon points="88.00,393.32 89.95,395.28 88.00,397.23 86.05,395.28" fill="none" stroke="#a62b2b" stroke-width="0.6"/>
<line x1="86.05" y1="395.28" x2="89.95" y2="395.28" stroke="#a62b2b" stroke-width="0.5" />
<line x1="88.00" y1="393.32" x2="88.00" y2="397.23" stroke="#a62b2b" stroke-width="0.5" />
<line x1="114.00" y1="400.04" x2="114.00" y2="404.04" stroke="#a62b2b" stroke-width="0.5" stroke-opacity="0.7"/>
<line x1="113.10" y1="400.04" x2="114.90" y2="400.04" stroke="#a62b2b" stroke-width="0.5" stroke-opacity="0.7"/>
<line x1="113.10" y1="404.04" x2="114.90" y2="404.04" stroke="#a62b2b" stroke-width="0.5" stroke-opacity="0.7"/>
<polygon points="114.00,400.08 115.95,402.04 114.00,403.99 112.05,402.04" fill="none" stroke="#a62b2b" stroke-width="0.6"/>
<line x1="112.05" y1="402.04" x2="115.95" y2="402.04" stroke="#a62b2b" stroke-width="0.5" />
<line x1="114.00" y1="400.08" x2="114.00" y2="403.99" stroke="#a62b2b" stroke-width="0.5" />
<line x1="61.90" y1="386.60" x2="61.90" y2="394.60" stroke="#a62b2b" stroke-width="0.5" stroke-opacity="0.7"/>
<line x1="61.00" y1="386.60" x2="62.80" y2="386.60" stroke="#a62b2b" stroke-width="0.5" stroke-opacity="0.7"/>
<line x1="61.00" y1="394.60" x2="62.80" y2="394.60" stroke="#a62b2b" stroke-width="0.5" stroke-opacity="0.7"/>
<rect x="60.41" y="389.10" width="2.99" height="2.99" fill="none" stroke="#a62b2b" stroke-width="0.6" rx="0" />
<line x1="60.41" y1="389.10" x2="63.39" y2="392.09" stroke="#a62b2b" stroke-width="0.5" />
<line x1="60.41" y1="392.09" x2="63.39" y2="389.10" stroke="#a62b2b" stroke-width="0.5" />
<line x1="88.00" y1="393.02" x2="88.00" y2="397.02" stroke="#a62b2b" stroke-width="0.5" stroke-opacity="0.7"/>
<line x1="87.10" y1="393.02" x2="88.90" y2="393.02" stroke="#a62b2b" stroke-width="0.5" stroke-opacity="0.7"/>
<line x1="87.10" y1="397.02" x2="88.90" y2="397.02" stroke="#a62b2b" stroke-width="0.5" stroke-opacity="0.7"/>
<rect x="86.50" y="393.52" width="2.99" height="2.99" fill="none" stroke="#a62b2b" stroke-width="0.6" rx="0" />
<line x1="86.50" y1="393.52" x2="89.50" y2="396.51" stroke="#a62b2b" stroke-width="0.5" />
<line x1="86.50" y1="396.51" x2="89.50" y2="393.52" stroke="#a62b2b" stroke-width="0.5" />
<line x1="114.00" y1="399.78" x2="114.00" y2="403.78" stroke="#a62b2b" stroke-width="0.5" stroke-opacity="0.7"/>
<line x1="113.10" y1="399.78" x2="114.90" y2="399.78" stroke="#a62b2b" stroke-width="0.5" stroke-opacity="0.7"/>
<line x1="113.10" y1="403.78" x2="114.90" y2="403.78" stroke="#a62b2b" stroke-width="0.5" stroke-opacity="0.7"/>
<rect x="112.50" y="400.28" width="2.99" height="2.99" fill="none" stroke="#a62b2b" stroke-width="0.6" rx="0" />
<line x1="112.50" y1="400.28" x2="115.50" y2="403.27" stroke="#a62b2b" stroke-width="0.5" />
<line x1="112.50" y1="403.27" x2="115.50" y2="400.28" stroke="#a62b2b" stroke-width="0.5" />
<line x1="61.90" y1="388.90" x2="61.90" y2="394.90" stroke="#111" stroke-width="0.5" stroke-opacity="0.7"/>
<line x1="61.00" y1="388.90" x2="62.80" y2="388.90" stroke="#111" stroke-width="0.5" stroke-opacity="0.7"/>
<line x1="61.00" y1="394.90" x2="62.80" y2="394.90" stroke="#111" stroke-width="0.5" stroke-opacity="0.7"/>
<polygon points="61.90,390.06 63.62,393.05 60.17,393.05" fill="#111"/>
<line x1="88.00" y1="401.58" x2="88.00" y2="404.58" stroke="#111" stroke-width="0.5" stroke-opacity="0.7"/>
<line x1="87.10" y1="401.58" x2="88.90" y2="401.58" stroke="#111" stroke-width="0.5" stroke-opacity="0.7"/>
<line x1="87.10" y1="404.58" x2="88.90" y2="404.58" stroke="#111" stroke-width="0.5" stroke-opacity="0.7"/>
<polygon points="88.00,401.24 89.72,404.23 86.28,404.23" fill="#111"/>
<line x1="114.00" y1="404.68" x2="114.00" y2="406.68" stroke="#111" stroke-width="0.5" stroke-opacity="0.7"/>
<line x1="113.10" y1="404.68" x2="114.90" y2="404.68" stroke="#111" stroke-width="0.5" stroke-opacity="0.7"/>
<line x1="113.10" y1="406.68" x2="114.90" y2="406.68" stroke="#111" stroke-width="0.5" stroke-opacity="0.7"/>
<polygon points="114.00,403.84 115.72,406.83 112.28,406.83" fill="#111"/>
<line x1="61.90" y1="390.20" x2="61.90" y2="396.20" stroke="#111" stroke-width="0.5" stroke-opacity="0.7"/>
<line x1="61.00" y1="390.20" x2="62.80" y2="390.20" stroke="#111" stroke-width="0.5" stroke-opacity="0.7"/>
<line x1="61.00" y1="396.20" x2="62.80" y2="396.20" stroke="#111" stroke-width="0.5" stroke-opacity="0.7"/>
<rect x="60.52" y="391.82" width="2.76" height="2.76" fill="#111" stroke="none" stroke-width="0.8" rx="0" />
<line x1="88.00" y1="402.10" x2="88.00" y2="405.10" stroke="#111" stroke-width="0.5" stroke-opacity="0.7"/>
<line x1="87.10" y1="402.10" x2="88.90" y2="402.10" stroke="#111" stroke-width="0.5" stroke-opacity="0.7"/>
<line x1="87.10" y1="405.10" x2="88.90" y2="405.10" stroke="#111" stroke-width="0.5" stroke-opacity="0.7"/>
<rect x="86.62" y="402.22" width="2.76" height="2.76" fill="#111" stroke="none" stroke-width="0.8" rx="0" />
<line x1="114.00" y1="405.20" x2="114.00" y2="407.20" stroke="#111" stroke-width="0.5" stroke-opacity="0.7"/>
<line x1="113.10" y1="405.20" x2="114.90" y2="405.20" stroke="#111" stroke-width="0.5" stroke-opacity="0.7"/>
<line x1="113.10" y1="407.20" x2="114.90" y2="407.20" stroke="#111" stroke-width="0.5" stroke-opacity="0.7"/>
<rect x="112.62" y="404.82" width="2.76" height="2.76" fill="#111" stroke="none" stroke-width="0.8" rx="0" />
<line x1="61.90" y1="391.50" x2="61.90" y2="397.50" stroke="#111" stroke-width="0.5" stroke-opacity="0.7"/>
<line x1="61.00" y1="391.50" x2="62.80" y2="391.50" stroke="#111" stroke-width="0.5" stroke-opacity="0.7"/>
<line x1="61.00" y1="397.50" x2="62.80" y2="397.50" stroke="#111" stroke-width="0.5" stroke-opacity="0.7"/>
<circle cx="61.90" cy="394.50" r="1.49" fill="#111"/>
<line x1="88.00" y1="402.10" x2="88.00" y2="405.10" stroke="#111" stroke-width="0.5" stroke-opacity="0.7"/>
<line x1="87.10" y1="402.10" x2="88.90" y2="402.10" stroke="#111" stroke-width="0.5" stroke-opacity="0.7"/>
<line x1="87.10" y1="405.10" x2="88.90" y2="405.10" stroke="#111" stroke-width="0.5" stroke-opacity="0.7"/>
<circle cx="88.00" cy="403.60" r="1.49" fill="#111"/>
<line x1="114.00" y1="405.46" x2="114.00" y2="407.46" stroke="#111" stroke-width="0.5" stroke-opacity="0.7"/>
<line x1="113.10" y1="405.46" x2="114.90" y2="405.46" stroke="#111" stroke-width="0.5" stroke-opacity="0.7"/>
<line x1="113.10" y1="407.46" x2="114.90" y2="407.46" stroke="#111" stroke-width="0.5" stroke-opacity="0.7"/>
<circle cx="114.00" cy="406.46" r="1.49" fill="#111"/>
<line x1="46.90" y1="337.00" x2="46.90" y2="410.30" stroke="#222" stroke-width="0.9" />
<line x1="46.90" y1="410.30" x2="128.90" y2="410.30" stroke="#222" stroke-width="0.9" />
<line x1="45.60" y1="385.40" x2="46.90" y2="385.40" stroke="#222" stroke-width="0.6" />
<text x="44.60" y="387.70" font-size="6.4" font-weight="normal" font-style="normal" fill="#333" text-anchor="end"  stroke="#333" stroke-width="0.12">100</text>
<line x1="45.60" y1="359.40" x2="46.90" y2="359.40" stroke="#222" stroke-width="0.6" />
<text x="44.60" y="361.70" font-size="6.4" font-weight="normal" font-style="normal" fill="#333" text-anchor="end"  stroke="#333" stroke-width="0.12">200</text>
<line x1="61.90" y1="410.30" x2="61.90" y2="411.60" stroke="#222" stroke-width="0.6" />
<text x="61.90" y="417.90" font-size="6.4" font-weight="normal" font-style="normal" fill="#333" text-anchor="middle"  stroke="#333" stroke-width="0.12">DIV16</text>
<line x1="88.00" y1="410.30" x2="88.00" y2="411.60" stroke="#222" stroke-width="0.6" />
<text x="88.00" y="417.90" font-size="6.4" font-weight="normal" font-style="normal" fill="#333" text-anchor="middle"  stroke="#333" stroke-width="0.12">DIV23</text>
<line x1="114.00" y1="410.30" x2="114.00" y2="411.60" stroke="#222" stroke-width="0.6" />
<text x="114.00" y="417.90" font-size="6.4" font-weight="normal" font-style="normal" fill="#333" text-anchor="middle"  stroke="#333" stroke-width="0.12">DIV30</text>
<text x="80.80" y="330.70" font-size="8.0" font-weight="bold" font-style="normal" fill="#222" text-anchor="middle"  stroke="#222" stroke-width="0.0">IBI</text>
<text x="0.80" y="327.00" font-size="8.5" font-weight="bold" font-style="normal" fill="#222" text-anchor="start"  stroke="#222" stroke-width="0.0">G</text>
<text font-size="7.0" fill="#222" text-anchor="middle" transform="translate(18.10,378.80) rotate(-90)" textLength="55" lengthAdjust="spacingAndGlyphs" stroke="#222" stroke-width="0.12">Mean inter-burst</text><text font-size="7.0" fill="#222" text-anchor="middle" transform="translate(27.40,378.80) rotate(-90)" textLength="35" lengthAdjust="spacingAndGlyphs" stroke="#222" stroke-width="0.12">interval (s)</text>
<text x="97.3" y="346.3" font-size="6.4" fill="#222" textLength="26" lengthAdjust="spacingAndGlyphs" stroke="#222" stroke-width="0.12"><tspan font-style="italic">p</tspan> = 0.025</text>
<text x="88.30" y="376.30" font-size="11" font-weight="normal" font-style="normal" fill="#222" text-anchor="middle"  stroke="#222" stroke-width="0.12">*</text>
<text x="114.50" y="388.50" font-size="11" font-weight="normal" font-style="normal" fill="#222" text-anchor="middle"  stroke="#222" stroke-width="0.12">*</text>
<path d="M222.90,350.05 L253.60,403.53" stroke="#a62b2b" stroke-width="0.95" fill="none"/>
<path d="M222.90,370.07 L253.60,384.94" stroke="#a62b2b" stroke-width="0.95" fill="none"/>
<path d="M222.90,376.36 L253.60,404.96" stroke="#a62b2b" stroke-width="0.95" fill="none"/>
<path d="M222.90,388.37 L253.60,395.52" stroke="#a62b2b" stroke-width="0.95" fill="none"/>
<path d="M222.90,397.81 L253.60,404.10" stroke="#a62b2b" stroke-width="0.95" fill="none"/>
<path d="M222.90,405.53 L253.60,399.81" stroke="#111" stroke-width="0.95" fill="none"/>
<path d="M222.90,406.96 L253.60,409.25" stroke="#111" stroke-width="0.95" fill="none"/>
<path d="M222.90,407.82 L253.60,410.11" stroke="#111" stroke-width="0.95" fill="none"/>
<line x1="222.90" y1="344.05" x2="222.90" y2="356.05" stroke="#a62b2b" stroke-width="0.5" stroke-opacity="0.7"/>
<line x1="222.00" y1="344.05" x2="223.80" y2="344.05" stroke="#a62b2b" stroke-width="0.5" stroke-opacity="0.7"/>
<line x1="222.00" y1="356.05" x2="223.80" y2="356.05" stroke="#a62b2b" stroke-width="0.5" stroke-opacity="0.7"/>
<circle cx="222.90" cy="350.05" r="1.49" fill="#a62b2b"/>
<line x1="253.60" y1="401.53" x2="253.60" y2="405.53" stroke="#a62b2b" stroke-width="0.5" stroke-opacity="0.7"/>
<line x1="252.70" y1="401.53" x2="254.50" y2="401.53" stroke="#a62b2b" stroke-width="0.5" stroke-opacity="0.7"/>
<line x1="252.70" y1="405.53" x2="254.50" y2="405.53" stroke="#a62b2b" stroke-width="0.5" stroke-opacity="0.7"/>
<circle cx="253.60" cy="403.53" r="1.49" fill="#a62b2b"/>
<line x1="222.90" y1="362.07" x2="222.90" y2="378.07" stroke="#a62b2b" stroke-width="0.5" stroke-opacity="0.7"/>
<line x1="222.00" y1="362.07" x2="223.80" y2="362.07" stroke="#a62b2b" stroke-width="0.5" stroke-opacity="0.7"/>
<line x1="222.00" y1="378.07" x2="223.80" y2="378.07" stroke="#a62b2b" stroke-width="0.5" stroke-opacity="0.7"/>
<line x1="220.94" y1="370.07" x2="224.86" y2="370.07" stroke="#a62b2b" stroke-width="0.6" />
<line x1="222.90" y1="368.11" x2="222.90" y2="372.02" stroke="#a62b2b" stroke-width="0.6" />
<line x1="253.60" y1="381.94" x2="253.60" y2="387.94" stroke="#a62b2b" stroke-width="0.5" stroke-opacity="0.7"/>
<line x1="252.70" y1="381.94" x2="254.50" y2="381.94" stroke="#a62b2b" stroke-width="0.5" stroke-opacity="0.7"/>
<line x1="252.70" y1="387.94" x2="254.50" y2="387.94" stroke="#a62b2b" stroke-width="0.5" stroke-opacity="0.7"/>
<line x1="251.64" y1="384.94" x2="255.56" y2="384.94" stroke="#a62b2b" stroke-width="0.6" />
<line x1="253.60" y1="382.99" x2="253.60" y2="386.89" stroke="#a62b2b" stroke-width="0.6" />
<line x1="222.90" y1="368.36" x2="222.90" y2="384.36" stroke="#a62b2b" stroke-width="0.5" stroke-opacity="0.7"/>
<line x1="222.00" y1="368.36" x2="223.80" y2="368.36" stroke="#a62b2b" stroke-width="0.5" stroke-opacity="0.7"/>
<line x1="222.00" y1="384.36" x2="223.80" y2="384.36" stroke="#a62b2b" stroke-width="0.5" stroke-opacity="0.7"/>
<line x1="221.18" y1="376.36" x2="224.62" y2="376.36" stroke="#a62b2b" stroke-width="0.6" />
<line x1="222.90" y1="374.63" x2="222.90" y2="378.09" stroke="#a62b2b" stroke-width="0.6" />
<line x1="221.64" y1="375.10" x2="224.16" y2="377.62" stroke="#a62b2b" stroke-width="0.6" />
<line x1="221.64" y1="377.62" x2="224.16" y2="375.10" stroke="#a62b2b" stroke-width="0.6" />
<line x1="253.60" y1="402.96" x2="253.60" y2="406.96" stroke="#a62b2b" stroke-width="0.5" stroke-opacity="0.7"/>
<line x1="252.70" y1="402.96" x2="254.50" y2="402.96" stroke="#a62b2b" stroke-width="0.5" stroke-opacity="0.7"/>
<line x1="252.70" y1="406.96" x2="254.50" y2="406.96" stroke="#a62b2b" stroke-width="0.5" stroke-opacity="0.7"/>
<line x1="251.88" y1="404.96" x2="255.32" y2="404.96" stroke="#a62b2b" stroke-width="0.6" />
<line x1="253.60" y1="403.24" x2="253.60" y2="406.69" stroke="#a62b2b" stroke-width="0.6" />
<line x1="252.34" y1="403.70" x2="254.86" y2="406.23" stroke="#a62b2b" stroke-width="0.6" />
<line x1="252.34" y1="406.23" x2="254.86" y2="403.70" stroke="#a62b2b" stroke-width="0.6" />
<line x1="222.90" y1="384.37" x2="222.90" y2="392.37" stroke="#a62b2b" stroke-width="0.5" stroke-opacity="0.7"/>
<line x1="222.00" y1="384.37" x2="223.80" y2="384.37" stroke="#a62b2b" stroke-width="0.5" stroke-opacity="0.7"/>
<line x1="222.00" y1="392.37" x2="223.80" y2="392.37" stroke="#a62b2b" stroke-width="0.5" stroke-opacity="0.7"/>
<polygon points="222.90,386.42 224.86,388.37 222.90,390.33 220.94,388.37" fill="none" stroke="#a62b2b" stroke-width="0.6"/>
<line x1="220.94" y1="388.37" x2="224.86" y2="388.37" stroke="#a62b2b" stroke-width="0.5" />
<line x1="222.90" y1="386.42" x2="222.90" y2="390.33" stroke="#a62b2b" stroke-width="0.5" />
<line x1="253.60" y1="392.52" x2="253.60" y2="398.52" stroke="#a62b2b" stroke-width="0.5" stroke-opacity="0.7"/>
<line x1="252.70" y1="392.52" x2="254.50" y2="392.52" stroke="#a62b2b" stroke-width="0.5" stroke-opacity="0.7"/>
<line x1="252.70" y1="398.52" x2="254.50" y2="398.52" stroke="#a62b2b" stroke-width="0.5" stroke-opacity="0.7"/>
<polygon points="253.60,393.57 255.56,395.52 253.60,397.48 251.64,395.52" fill="none" stroke="#a62b2b" stroke-width="0.6"/>
<line x1="251.64" y1="395.52" x2="255.56" y2="395.52" stroke="#a62b2b" stroke-width="0.5" />
<line x1="253.60" y1="393.57" x2="253.60" y2="397.48" stroke="#a62b2b" stroke-width="0.5" />
<line x1="222.90" y1="395.81" x2="222.90" y2="399.81" stroke="#a62b2b" stroke-width="0.5" stroke-opacity="0.7"/>
<line x1="222.00" y1="395.81" x2="223.80" y2="395.81" stroke="#a62b2b" stroke-width="0.5" stroke-opacity="0.7"/>
<line x1="222.00" y1="399.81" x2="223.80" y2="399.81" stroke="#a62b2b" stroke-width="0.5" stroke-opacity="0.7"/>
<rect x="221.41" y="396.31" width="2.99" height="2.99" fill="none" stroke="#a62b2b" stroke-width="0.6" rx="0" />
<line x1="221.41" y1="396.31" x2="224.40" y2="399.31" stroke="#a62b2b" stroke-width="0.5" />
<line x1="221.41" y1="399.31" x2="224.40" y2="396.31" stroke="#a62b2b" stroke-width="0.5" />
<line x1="253.60" y1="402.10" x2="253.60" y2="406.10" stroke="#a62b2b" stroke-width="0.5" stroke-opacity="0.7"/>
<line x1="252.70" y1="402.10" x2="254.50" y2="402.10" stroke="#a62b2b" stroke-width="0.5" stroke-opacity="0.7"/>
<line x1="252.70" y1="406.10" x2="254.50" y2="406.10" stroke="#a62b2b" stroke-width="0.5" stroke-opacity="0.7"/>
<rect x="252.10" y="402.61" width="2.99" height="2.99" fill="none" stroke="#a62b2b" stroke-width="0.6" rx="0" />
<line x1="252.10" y1="402.61" x2="255.09" y2="405.60" stroke="#a62b2b" stroke-width="0.5" />
<line x1="252.10" y1="405.60" x2="255.09" y2="402.61" stroke="#a62b2b" stroke-width="0.5" />
<line x1="222.90" y1="404.53" x2="222.90" y2="406.53" stroke="#111" stroke-width="0.5" stroke-opacity="0.7"/>
<line x1="222.00" y1="404.53" x2="223.80" y2="404.53" stroke="#111" stroke-width="0.5" stroke-opacity="0.7"/>
<line x1="222.00" y1="406.53" x2="223.80" y2="406.53" stroke="#111" stroke-width="0.5" stroke-opacity="0.7"/>
<polygon points="222.90,403.69 224.62,406.68 221.18,406.68" fill="#111"/>
<line x1="253.60" y1="398.81" x2="253.60" y2="400.81" stroke="#111" stroke-width="0.5" stroke-opacity="0.7"/>
<line x1="252.70" y1="398.81" x2="254.50" y2="398.81" stroke="#111" stroke-width="0.5" stroke-opacity="0.7"/>
<line x1="252.70" y1="400.81" x2="254.50" y2="400.81" stroke="#111" stroke-width="0.5" stroke-opacity="0.7"/>
<polygon points="253.60,397.97 255.32,400.96 251.88,400.96" fill="#111"/>
<line x1="222.90" y1="405.96" x2="222.90" y2="407.96" stroke="#111" stroke-width="0.5" stroke-opacity="0.7"/>
<line x1="222.00" y1="405.96" x2="223.80" y2="405.96" stroke="#111" stroke-width="0.5" stroke-opacity="0.7"/>
<line x1="222.00" y1="407.96" x2="223.80" y2="407.96" stroke="#111" stroke-width="0.5" stroke-opacity="0.7"/>
<rect x="221.52" y="405.58" width="2.76" height="2.76" fill="#111" stroke="none" stroke-width="0.8" rx="0" />
<line x1="253.60" y1="408.25" x2="253.60" y2="410.25" stroke="#111" stroke-width="0.5" stroke-opacity="0.7"/>
<line x1="252.70" y1="408.25" x2="254.50" y2="408.25" stroke="#111" stroke-width="0.5" stroke-opacity="0.7"/>
<line x1="252.70" y1="410.25" x2="254.50" y2="410.25" stroke="#111" stroke-width="0.5" stroke-opacity="0.7"/>
<rect x="252.22" y="407.87" width="2.76" height="2.76" fill="#111" stroke="none" stroke-width="0.8" rx="0" />
<line x1="222.90" y1="406.82" x2="222.90" y2="408.82" stroke="#111" stroke-width="0.5" stroke-opacity="0.7"/>
<line x1="222.00" y1="406.82" x2="223.80" y2="406.82" stroke="#111" stroke-width="0.5" stroke-opacity="0.7"/>
<line x1="222.00" y1="408.82" x2="223.80" y2="408.82" stroke="#111" stroke-width="0.5" stroke-opacity="0.7"/>
<circle cx="222.90" cy="407.82" r="1.49" fill="#111"/>
<line x1="253.60" y1="409.11" x2="253.60" y2="411.11" stroke="#111" stroke-width="0.5" stroke-opacity="0.7"/>
<line x1="252.70" y1="409.11" x2="254.50" y2="409.11" stroke="#111" stroke-width="0.5" stroke-opacity="0.7"/>
<line x1="252.70" y1="411.11" x2="254.50" y2="411.11" stroke="#111" stroke-width="0.5" stroke-opacity="0.7"/>
<circle cx="253.60" cy="410.11" r="1.49" fill="#111"/>
<line x1="205.20" y1="340.20" x2="205.20" y2="413.30" stroke="#222" stroke-width="0.9" />
<line x1="205.20" y1="413.30" x2="271.60" y2="413.30" stroke="#222" stroke-width="0.9" />
<line x1="203.90" y1="402.10" x2="205.20" y2="402.10" stroke="#222" stroke-width="0.6" />
<text x="202.90" y="404.40" font-size="6.4" font-weight="normal" font-style="normal" fill="#333" text-anchor="end"  stroke="#333" stroke-width="0.12">50</text>
<line x1="203.90" y1="387.80" x2="205.20" y2="387.80" stroke="#222" stroke-width="0.6" />
<text x="202.90" y="390.10" font-size="6.4" font-weight="normal" font-style="normal" fill="#333" text-anchor="end"  stroke="#333" stroke-width="0.12">100</text>
<line x1="203.90" y1="373.50" x2="205.20" y2="373.50" stroke="#222" stroke-width="0.6" />
<text x="202.90" y="375.80" font-size="6.4" font-weight="normal" font-style="normal" fill="#333" text-anchor="end"  stroke="#333" stroke-width="0.12">150</text>
<line x1="203.90" y1="359.20" x2="205.20" y2="359.20" stroke="#222" stroke-width="0.6" />
<text x="202.90" y="361.50" font-size="6.4" font-weight="normal" font-style="normal" fill="#333" text-anchor="end"  stroke="#333" stroke-width="0.12">200</text>
<line x1="203.90" y1="344.90" x2="205.20" y2="344.90" stroke="#222" stroke-width="0.6" />
<text x="202.90" y="347.20" font-size="6.4" font-weight="normal" font-style="normal" fill="#333" text-anchor="end"  stroke="#333" stroke-width="0.12">250</text>
<line x1="222.90" y1="413.30" x2="222.90" y2="414.60" stroke="#222" stroke-width="0.6" />
<text x="222.90" y="420.90" font-size="6.4" font-weight="normal" font-style="normal" fill="#333" text-anchor="middle"  stroke="#333" stroke-width="0.12">DIV23</text>
<line x1="253.60" y1="413.30" x2="253.60" y2="414.60" stroke="#222" stroke-width="0.6" />
<text x="253.60" y="420.90" font-size="6.4" font-weight="normal" font-style="normal" fill="#333" text-anchor="middle"  stroke="#333" stroke-width="0.12">DIV30</text>
<text x="245.00" y="332.20" font-size="8.0" font-weight="bold" font-style="normal" fill="#222" text-anchor="middle"  stroke="#222" stroke-width="0.0">NIBI</text>
<text x="173.50" y="327.00" font-size="8.5" font-weight="bold" font-style="normal" fill="#222" text-anchor="start"  stroke="#222" stroke-width="0.0">H</text>
<text font-size="7.0" fill="#222" text-anchor="middle" transform="translate(177.40,379.00) rotate(-90)" textLength="67" lengthAdjust="spacingAndGlyphs" stroke="#222" stroke-width="0.12">Mean NB inter-burst</text><text font-size="7.0" fill="#222" text-anchor="middle" transform="translate(186.10,379.00) rotate(-90)" textLength="35" lengthAdjust="spacingAndGlyphs" stroke="#222" stroke-width="0.12">interval (s)</text>
<text x="256.0" y="344.9" font-size="6.4" fill="#222" textLength="26" lengthAdjust="spacingAndGlyphs" stroke="#222" stroke-width="0.12"><tspan font-style="italic">p</tspan> = 0.007</text>
<text x="225.20" y="342.40" font-size="11" font-weight="normal" font-style="normal" fill="#222" text-anchor="middle"  stroke="#222" stroke-width="0.12">*</text>
<path d="M383.10,382.52 L414.70,366.33" stroke="#a62b2b" stroke-width="0.95" fill="none"/>
<path d="M414.70,359.29" stroke="#a62b2b" stroke-width="0.95" fill="none"/>
<path d="M383.10,386.04 L414.70,389.56" stroke="#a62b2b" stroke-width="0.95" fill="none"/>
<path d="M383.10,383.93 L414.70,379.70" stroke="#a62b2b" stroke-width="0.95" fill="none"/>
<path d="M383.10,381.11 L414.70,390.97" stroke="#a62b2b" stroke-width="0.95" fill="none"/>
<path d="M383.10,389.56 L414.70,389.56" stroke="#a62b2b" stroke-width="0.95" fill="none"/>
<path d="M383.10,392.38 L414.70,395.19" stroke="#111" stroke-width="0.95" fill="none"/>
<path d="M383.10,399.42 L414.70,409.27" stroke="#111" stroke-width="0.95" fill="none"/>
<path d="M383.10,406.46 L414.70,395.90" stroke="#111" stroke-width="0.95" fill="none"/>
<line x1="383.10" y1="375.48" x2="383.10" y2="389.56" stroke="#a62b2b" stroke-width="0.5" stroke-opacity="0.7"/>
<line x1="382.20" y1="375.48" x2="384.00" y2="375.48" stroke="#a62b2b" stroke-width="0.5" stroke-opacity="0.7"/>
<line x1="382.20" y1="389.56" x2="384.00" y2="389.56" stroke="#a62b2b" stroke-width="0.5" stroke-opacity="0.7"/>
<circle cx="383.10" cy="382.52" r="1.49" fill="#a62b2b"/>
<line x1="414.70" y1="352.25" x2="414.70" y2="380.41" stroke="#a62b2b" stroke-width="0.5" stroke-opacity="0.7"/>
<line x1="413.80" y1="352.25" x2="415.60" y2="352.25" stroke="#a62b2b" stroke-width="0.5" stroke-opacity="0.7"/>
<line x1="413.80" y1="380.41" x2="415.60" y2="380.41" stroke="#a62b2b" stroke-width="0.5" stroke-opacity="0.7"/>
<circle cx="414.70" cy="366.33" r="1.49" fill="#a62b2b"/>
<line x1="414.70" y1="345.21" x2="414.70" y2="373.37" stroke="#a62b2b" stroke-width="0.5" stroke-opacity="0.7"/>
<line x1="413.80" y1="345.21" x2="415.60" y2="345.21" stroke="#a62b2b" stroke-width="0.5" stroke-opacity="0.7"/>
<line x1="413.80" y1="373.37" x2="415.60" y2="373.37" stroke="#a62b2b" stroke-width="0.5" stroke-opacity="0.7"/>
<rect x="413.20" y="357.79" width="2.99" height="2.99" fill="none" stroke="#a62b2b" stroke-width="0.6" rx="0" />
<line x1="413.20" y1="357.79" x2="416.19" y2="360.78" stroke="#a62b2b" stroke-width="0.5" />
<line x1="413.20" y1="360.78" x2="416.19" y2="357.79" stroke="#a62b2b" stroke-width="0.5" />
<line x1="383.10" y1="379.00" x2="383.10" y2="393.08" stroke="#a62b2b" stroke-width="0.5" stroke-opacity="0.7"/>
<line x1="382.20" y1="379.00" x2="384.00" y2="379.00" stroke="#a62b2b" stroke-width="0.5" stroke-opacity="0.7"/>
<line x1="382.20" y1="393.08" x2="384.00" y2="393.08" stroke="#a62b2b" stroke-width="0.5" stroke-opacity="0.7"/>
<line x1="381.15" y1="386.04" x2="385.06" y2="386.04" stroke="#a62b2b" stroke-width="0.6" />
<line x1="383.10" y1="384.08" x2="383.10" y2="387.99" stroke="#a62b2b" stroke-width="0.6" />
<line x1="414.70" y1="381.11" x2="414.70" y2="398.01" stroke="#a62b2b" stroke-width="0.5" stroke-opacity="0.7"/>
<line x1="413.80" y1="381.11" x2="415.60" y2="381.11" stroke="#a62b2b" stroke-width="0.5" stroke-opacity="0.7"/>
<line x1="413.80" y1="398.01" x2="415.60" y2="398.01" stroke="#a62b2b" stroke-width="0.5" stroke-opacity="0.7"/>
<line x1="412.75" y1="389.56" x2="416.65" y2="389.56" stroke="#a62b2b" stroke-width="0.6" />
<line x1="414.70" y1="387.61" x2="414.70" y2="391.51" stroke="#a62b2b" stroke-width="0.6" />
<line x1="383.10" y1="376.89" x2="383.10" y2="390.97" stroke="#a62b2b" stroke-width="0.5" stroke-opacity="0.7"/>
<line x1="382.20" y1="376.89" x2="384.00" y2="376.89" stroke="#a62b2b" stroke-width="0.5" stroke-opacity="0.7"/>
<line x1="382.20" y1="390.97" x2="384.00" y2="390.97" stroke="#a62b2b" stroke-width="0.5" stroke-opacity="0.7"/>
<line x1="381.38" y1="383.93" x2="384.83" y2="383.93" stroke="#a62b2b" stroke-width="0.6" />
<line x1="383.10" y1="382.20" x2="383.10" y2="385.65" stroke="#a62b2b" stroke-width="0.6" />
<line x1="381.84" y1="382.66" x2="384.37" y2="385.19" stroke="#a62b2b" stroke-width="0.6" />
<line x1="381.84" y1="385.19" x2="384.37" y2="382.66" stroke="#a62b2b" stroke-width="0.6" />
<line x1="414.70" y1="365.62" x2="414.70" y2="393.78" stroke="#a62b2b" stroke-width="0.5" stroke-opacity="0.7"/>
<line x1="413.80" y1="365.62" x2="415.60" y2="365.62" stroke="#a62b2b" stroke-width="0.5" stroke-opacity="0.7"/>
<line x1="413.80" y1="393.78" x2="415.60" y2="393.78" stroke="#a62b2b" stroke-width="0.5" stroke-opacity="0.7"/>
<line x1="412.97" y1="379.70" x2="416.43" y2="379.70" stroke="#a62b2b" stroke-width="0.6" />
<line x1="414.70" y1="377.98" x2="414.70" y2="381.43" stroke="#a62b2b" stroke-width="0.6" />
<line x1="413.44" y1="378.44" x2="415.96" y2="380.97" stroke="#a62b2b" stroke-width="0.6" />
<line x1="413.44" y1="380.97" x2="415.96" y2="378.44" stroke="#a62b2b" stroke-width="0.6" />
<line x1="383.10" y1="370.55" x2="383.10" y2="391.67" stroke="#a62b2b" stroke-width="0.5" stroke-opacity="0.7"/>
<line x1="382.20" y1="370.55" x2="384.00" y2="370.55" stroke="#a62b2b" stroke-width="0.5" stroke-opacity="0.7"/>
<line x1="382.20" y1="391.67" x2="384.00" y2="391.67" stroke="#a62b2b" stroke-width="0.5" stroke-opacity="0.7"/>
<polygon points="383.10,379.16 385.06,381.11 383.10,383.07 381.15,381.11" fill="none" stroke="#a62b2b" stroke-width="0.6"/>
<line x1="381.15" y1="381.11" x2="385.06" y2="381.11" stroke="#a62b2b" stroke-width="0.5" />
<line x1="383.10" y1="379.16" x2="383.10" y2="383.07" stroke="#a62b2b" stroke-width="0.5" />
<line x1="414.70" y1="383.93" x2="414.70" y2="398.01" stroke="#a62b2b" stroke-width="0.5" stroke-opacity="0.7"/>
<line x1="413.80" y1="383.93" x2="415.60" y2="383.93" stroke="#a62b2b" stroke-width="0.5" stroke-opacity="0.7"/>
<line x1="413.80" y1="398.01" x2="415.60" y2="398.01" stroke="#a62b2b" stroke-width="0.5" stroke-opacity="0.7"/>
<polygon points="414.70,389.01 416.65,390.97 414.70,392.92 412.75,390.97" fill="none" stroke="#a62b2b" stroke-width="0.6"/>
<line x1="412.75" y1="390.97" x2="416.65" y2="390.97" stroke="#a62b2b" stroke-width="0.5" />
<line x1="414.70" y1="389.01" x2="414.70" y2="392.92" stroke="#a62b2b" stroke-width="0.5" />
<line x1="383.10" y1="383.93" x2="383.10" y2="395.19" stroke="#a62b2b" stroke-width="0.5" stroke-opacity="0.7"/>
<line x1="382.20" y1="383.93" x2="384.00" y2="383.93" stroke="#a62b2b" stroke-width="0.5" stroke-opacity="0.7"/>
<line x1="382.20" y1="395.19" x2="384.00" y2="395.19" stroke="#a62b2b" stroke-width="0.5" stroke-opacity="0.7"/>
<rect x="381.61" y="388.06" width="2.99" height="2.99" fill="none" stroke="#a62b2b" stroke-width="0.6" rx="0" />
<line x1="381.61" y1="388.06" x2="384.60" y2="391.06" stroke="#a62b2b" stroke-width="0.5" />
<line x1="381.61" y1="391.06" x2="384.60" y2="388.06" stroke="#a62b2b" stroke-width="0.5" />
<line x1="414.70" y1="382.52" x2="414.70" y2="396.60" stroke="#a62b2b" stroke-width="0.5" stroke-opacity="0.7"/>
<line x1="413.80" y1="382.52" x2="415.60" y2="382.52" stroke="#a62b2b" stroke-width="0.5" stroke-opacity="0.7"/>
<line x1="413.80" y1="396.60" x2="415.60" y2="396.60" stroke="#a62b2b" stroke-width="0.5" stroke-opacity="0.7"/>
<rect x="413.20" y="388.06" width="2.99" height="2.99" fill="none" stroke="#a62b2b" stroke-width="0.6" rx="0" />
<line x1="413.20" y1="388.06" x2="416.19" y2="391.06" stroke="#a62b2b" stroke-width="0.5" />
<line x1="413.20" y1="391.06" x2="416.19" y2="388.06" stroke="#a62b2b" stroke-width="0.5" />
<line x1="383.10" y1="389.56" x2="383.10" y2="395.19" stroke="#111" stroke-width="0.5" stroke-opacity="0.7"/>
<line x1="382.20" y1="389.56" x2="384.00" y2="389.56" stroke="#111" stroke-width="0.5" stroke-opacity="0.7"/>
<line x1="382.20" y1="395.19" x2="384.00" y2="395.19" stroke="#111" stroke-width="0.5" stroke-opacity="0.7"/>
<polygon points="383.10,390.54 384.83,393.53 381.38,393.53" fill="#111"/>
<line x1="414.70" y1="392.38" x2="414.70" y2="398.01" stroke="#111" stroke-width="0.5" stroke-opacity="0.7"/>
<line x1="413.80" y1="392.38" x2="415.60" y2="392.38" stroke="#111" stroke-width="0.5" stroke-opacity="0.7"/>
<line x1="413.80" y1="398.01" x2="415.60" y2="398.01" stroke="#111" stroke-width="0.5" stroke-opacity="0.7"/>
<polygon points="414.70,393.35 416.43,396.34 412.97,396.34" fill="#111"/>
<line x1="383.10" y1="396.60" x2="383.10" y2="402.23" stroke="#111" stroke-width="0.5" stroke-opacity="0.7"/>
<line x1="382.20" y1="396.60" x2="384.00" y2="396.60" stroke="#111" stroke-width="0.5" stroke-opacity="0.7"/>
<line x1="382.20" y1="402.23" x2="384.00" y2="402.23" stroke="#111" stroke-width="0.5" stroke-opacity="0.7"/>
<rect x="381.72" y="398.04" width="2.76" height="2.76" fill="#111" stroke="none" stroke-width="0.8" rx="0" />
<line x1="414.70" y1="407.16" x2="414.70" y2="411.38" stroke="#111" stroke-width="0.5" stroke-opacity="0.7"/>
<line x1="413.80" y1="407.16" x2="415.60" y2="407.16" stroke="#111" stroke-width="0.5" stroke-opacity="0.7"/>
<line x1="413.80" y1="411.38" x2="415.60" y2="411.38" stroke="#111" stroke-width="0.5" stroke-opacity="0.7"/>
<rect x="413.32" y="407.89" width="2.76" height="2.76" fill="#111" stroke="none" stroke-width="0.8" rx="0" />
<line x1="383.10" y1="404.34" x2="383.10" y2="408.57" stroke="#111" stroke-width="0.5" stroke-opacity="0.7"/>
<line x1="382.20" y1="404.34" x2="384.00" y2="404.34" stroke="#111" stroke-width="0.5" stroke-opacity="0.7"/>
<line x1="382.20" y1="408.57" x2="384.00" y2="408.57" stroke="#111" stroke-width="0.5" stroke-opacity="0.7"/>
<circle cx="383.10" cy="406.46" r="1.49" fill="#111"/>
<line x1="414.70" y1="393.78" x2="414.70" y2="398.01" stroke="#111" stroke-width="0.5" stroke-opacity="0.7"/>
<line x1="413.80" y1="393.78" x2="415.60" y2="393.78" stroke="#111" stroke-width="0.5" stroke-opacity="0.7"/>
<line x1="413.80" y1="398.01" x2="415.60" y2="398.01" stroke="#111" stroke-width="0.5" stroke-opacity="0.7"/>
<circle cx="414.70" cy="395.90" r="1.49" fill="#111"/>
<line x1="364.10" y1="342.10" x2="364.10" y2="413.30" stroke="#222" stroke-width="0.9" />
<line x1="364.10" y1="413.30" x2="428.30" y2="413.30" stroke="#222" stroke-width="0.9" />
<line x1="362.80" y1="396.60" x2="364.10" y2="396.60" stroke="#222" stroke-width="0.6" />
<text x="361.80" y="398.90" font-size="6.4" font-weight="normal" font-style="normal" fill="#333" text-anchor="end"  stroke="#333" stroke-width="0.12">0.25</text>
<line x1="362.80" y1="379.00" x2="364.10" y2="379.00" stroke="#222" stroke-width="0.6" />
<text x="361.80" y="381.30" font-size="6.4" font-weight="normal" font-style="normal" fill="#333" text-anchor="end"  stroke="#333" stroke-width="0.12">0.50</text>
<line x1="362.80" y1="361.40" x2="364.10" y2="361.40" stroke="#222" stroke-width="0.6" />
<text x="361.80" y="363.70" font-size="6.4" font-weight="normal" font-style="normal" fill="#333" text-anchor="end"  stroke="#333" stroke-width="0.12">0.75</text>
<line x1="362.80" y1="343.80" x2="364.10" y2="343.80" stroke="#222" stroke-width="0.6" />
<text x="361.80" y="346.10" font-size="6.4" font-weight="normal" font-style="normal" fill="#333" text-anchor="end"  stroke="#333" stroke-width="0.12">1.00</text>
<line x1="383.10" y1="413.30" x2="383.10" y2="414.60" stroke="#222" stroke-width="0.6" />
<text x="383.10" y="420.90" font-size="6.4" font-weight="normal" font-style="normal" fill="#333" text-anchor="middle"  stroke="#333" stroke-width="0.12">DIV23</text>
<line x1="414.70" y1="413.30" x2="414.70" y2="414.60" stroke="#222" stroke-width="0.6" />
<text x="414.70" y="420.90" font-size="6.4" font-weight="normal" font-style="normal" fill="#333" text-anchor="middle"  stroke="#333" stroke-width="0.12">DIV30</text>
<text x="389" y="332.5" font-size="8.0" font-weight="bold" fill="#222" stroke="#222" stroke-width="0.0">CV<tspan font-size="4.6" dy="1.8">NIBI</tspan></text>
<text x="319.30" y="327.00" font-size="8.5" font-weight="bold" font-style="normal" fill="#222" text-anchor="start"  stroke="#222" stroke-width="0.0">I</text>
<text font-size="7.0" fill="#222" text-anchor="middle" transform="translate(333.50,378.00) rotate(-90)" textLength="72" lengthAdjust="spacingAndGlyphs" stroke="#222" stroke-width="0.12">Coefficient of variation</text><text font-size="7.0" fill="#222" text-anchor="middle" transform="translate(343.60,378.00) rotate(-90)" stroke="#222" stroke-width="0.12">on NIBI (CV<tspan font-size="4" dy="1">NIBI</tspan><tspan dy="-1">)</tspan></text>
<text x="372.5" y="347.6" font-size="6.4" fill="#222" textLength="26.5" lengthAdjust="spacingAndGlyphs" stroke="#222" stroke-width="0.12"><tspan font-style="italic">p</tspan> = 0.003</text>
<text x="415.20" y="346.00" font-size="11" font-weight="normal" font-style="normal" fill="#222" text-anchor="middle"  stroke="#222" stroke-width="0.12">*</text>
<text x="459.00" y="240.00" font-size="7.6" font-weight="bold" font-style="normal" fill="#222" text-anchor="start" textLength="22" lengthAdjust="spacingAndGlyphs"  stroke="#222" stroke-width="0.0">Status</text>
<line x1="465.00" y1="249.00" x2="471.70" y2="249.00" stroke="#111" stroke-width="0.9" />
<text x="474.00" y="251.30" font-size="6.6" font-weight="normal" font-style="normal" fill="#222" text-anchor="start" textLength="22" lengthAdjust="spacingAndGlyphs"  stroke="#222" stroke-width="0.12">Control</text>
<line x1="465.00" y1="259.30" x2="471.70" y2="259.30" stroke="#a62b2b" stroke-width="0.9" />
<text x="474.00" y="261.60" font-size="6.6" font-weight="normal" font-style="normal" fill="#222" text-anchor="start" textLength="16.5" lengthAdjust="spacingAndGlyphs"  stroke="#222" stroke-width="0.12">KdVS</text>
<text x="451.90" y="293.50" font-size="7.6" font-weight="bold" font-style="normal" fill="#222" text-anchor="start" textLength="14.5" lengthAdjust="spacingAndGlyphs"  stroke="#222" stroke-width="0.0">Line</text>
<polygon points="456.00,299.82 457.95,303.20 454.05,303.20" fill="#111"/>
<text x="462.80" y="304.20" font-size="6.6" font-weight="normal" font-style="normal" fill="#222" text-anchor="start" textLength="8" lengthAdjust="spacingAndGlyphs"  stroke="#222" stroke-width="0.12">C1</text>
<rect x="454.44" y="312.50" width="3.12" height="3.12" fill="#111" stroke="none" stroke-width="0.8" rx="0" />
<text x="462.80" y="316.36" font-size="6.6" font-weight="normal" font-style="normal" fill="#222" text-anchor="start" textLength="8" lengthAdjust="spacingAndGlyphs"  stroke="#222" stroke-width="0.12">C2</text>
<circle cx="456.00" cy="326.22" r="1.69" fill="#111"/>
<text x="462.80" y="328.52" font-size="6.6" font-weight="normal" font-style="normal" fill="#222" text-anchor="start" textLength="8" lengthAdjust="spacingAndGlyphs"  stroke="#222" stroke-width="0.12">C4</text>
<circle cx="456.00" cy="338.38" r="1.69" fill="#a62b2b"/>
<text x="462.8" y="340.68" font-size="6.6" fill="#222" stroke="#222" stroke-width="0.12"><tspan font-style="italic" textLength="22" lengthAdjust="spacingAndGlyphs">KANSL1</tspan><tspan font-size="4.0" dy="-2.6">+/-</tspan><tspan dy="2.6" dx="0.6" textLength="10" lengthAdjust="spacingAndGlyphs">-C4</tspan></text>
<line x1="453.79" y1="350.54" x2="458.21" y2="350.54" stroke="#a62b2b" stroke-width="0.6" />
<line x1="456.00" y1="348.33" x2="456.00" y2="352.75" stroke="#a62b2b" stroke-width="0.6" />
<text x="462.80" y="352.84" font-size="6.6" font-weight="normal" font-style="normal" fill="#222" text-anchor="start" textLength="17" lengthAdjust="spacingAndGlyphs"  stroke="#222" stroke-width="0.12">KdVS1</text>
<line x1="454.05" y1="362.70" x2="457.95" y2="362.70" stroke="#a62b2b" stroke-width="0.6" />
<line x1="456.00" y1="360.75" x2="456.00" y2="364.65" stroke="#a62b2b" stroke-width="0.6" />
<line x1="454.57" y1="361.27" x2="457.43" y2="364.13" stroke="#a62b2b" stroke-width="0.6" />
<line x1="454.57" y1="364.13" x2="457.43" y2="361.27" stroke="#a62b2b" stroke-width="0.6" />
<text x="462.80" y="365.00" font-size="6.6" font-weight="normal" font-style="normal" fill="#222" text-anchor="start" textLength="17" lengthAdjust="spacingAndGlyphs"  stroke="#222" stroke-width="0.12">KdVS2</text>
<polygon points="456.00,372.65 458.21,374.86 456.00,377.07 453.79,374.86" fill="none" stroke="#a62b2b" stroke-width="0.6"/>
<line x1="453.79" y1="374.86" x2="458.21" y2="374.86" stroke="#a62b2b" stroke-width="0.5" />
<line x1="456.00" y1="372.65" x2="456.00" y2="377.07" stroke="#a62b2b" stroke-width="0.5" />
<text x="462.80" y="377.16" font-size="6.6" font-weight="normal" font-style="normal" fill="#222" text-anchor="start" textLength="17" lengthAdjust="spacingAndGlyphs"  stroke="#222" stroke-width="0.12">KdVS3</text>
<rect x="454.31" y="385.33" width="3.38" height="3.38" fill="none" stroke="#a62b2b" stroke-width="0.6" rx="0" />
<line x1="454.31" y1="385.33" x2="457.69" y2="388.71" stroke="#a62b2b" stroke-width="0.5" />
<line x1="454.31" y1="388.71" x2="457.69" y2="385.33" stroke="#a62b2b" stroke-width="0.5" />
<text x="462.80" y="389.32" font-size="6.6" font-weight="normal" font-style="normal" fill="#222" text-anchor="start" textLength="17" lengthAdjust="spacingAndGlyphs"  stroke="#222" stroke-width="0.12">KdVS4</text>
<polygon points="83.00,503.00 93.94,510.95 89.76,523.80 76.24,523.80 72.06,510.95" fill="none" stroke="#b5b5b5" stroke-width="0.6"/>
<polygon points="83.00,491.50 104.87,507.39 96.52,533.11 69.48,533.11 61.13,507.39" fill="none" stroke="#b5b5b5" stroke-width="0.6"/>
<polygon points="83.00,480.00 115.81,503.84 103.28,542.41 62.72,542.41 50.19,503.84" fill="none" stroke="#b5b5b5" stroke-width="0.6"/>
<polygon points="83.00,468.50 126.75,500.29 110.04,551.71 55.96,551.71 39.25,500.29" fill="none" stroke="#b5b5b5" stroke-width="0.6"/>
<polygon points="83.00,457.00 137.69,496.73 116.80,561.02 49.20,561.02 28.31,496.73" fill="none" stroke="#b5b5b5" stroke-width="0.6"/>
<line x1="83.00" y1="503.00" x2="83.00" y2="457.00" stroke="#b5b5b5" stroke-width="0.6" />
<line x1="93.94" y1="510.95" x2="137.69" y2="496.73" stroke="#b5b5b5" stroke-width="0.6" />
<line x1="89.76" y1="523.80" x2="116.80" y2="561.02" stroke="#b5b5b5" stroke-width="0.6" />
<line x1="76.24" y1="523.80" x2="49.20" y2="561.02" stroke="#b5b5b5" stroke-width="0.6" />
<line x1="72.06" y1="510.95" x2="28.31" y2="496.73" stroke="#b5b5b5" stroke-width="0.6" />
<polygon points="83.00,457.00 108.70,506.15 116.12,560.09 49.88,560.09 28.31,496.73" fill="#a32424" fill-opacity="0.095" stroke="#a32424" stroke-width="1.0" stroke-linejoin="round"/>
<polygon points="83.00,465.05 107.61,506.50 108.01,548.92 54.27,554.04 31.05,497.62" fill="#a32424" fill-opacity="0.095" stroke="#a32424" stroke-width="1.0" stroke-linejoin="round"/>
<polygon points="83.00,472.81 107.06,506.68 105.31,545.20 54.27,554.04 46.36,502.60" fill="#a32424" fill-opacity="0.095" stroke="#a32424" stroke-width="1.0" stroke-linejoin="round"/>
<polygon points="83.00,482.30 107.06,506.68 101.25,539.62 55.29,552.65 46.36,502.60" fill="#a32424" fill-opacity="0.095" stroke="#a32424" stroke-width="1.0" stroke-linejoin="round"/>
<polygon points="83.00,484.60 105.97,507.04 96.86,533.57 55.96,551.71 49.09,503.48" fill="#a32424" fill-opacity="0.095" stroke="#a32424" stroke-width="1.0" stroke-linejoin="round"/>
<polygon points="83.00,477.12 101.05,508.64 93.82,529.39 64.75,539.62 57.84,506.33" fill="#2a0a0a" fill-opacity="0.16" stroke="#2a0a0a" stroke-width="1.0" stroke-linejoin="round"/>
<polygon points="83.00,482.88 97.77,509.70 93.82,529.39 66.78,536.83 57.84,506.33" fill="#2a0a0a" fill-opacity="0.16" stroke="#2a0a0a" stroke-width="1.0" stroke-linejoin="round"/>
<polygon points="83.00,484.60 99.41,509.17 93.14,528.46 66.10,537.76 58.94,506.68" fill="#2a0a0a" fill-opacity="0.16" stroke="#2a0a0a" stroke-width="1.0" stroke-linejoin="round"/>
<line x1="81.30" y1="457.00" x2="84.70" y2="457.00" stroke="#a32424" stroke-width="0.6" />
<line x1="83.00" y1="455.30" x2="83.00" y2="458.70" stroke="#a32424" stroke-width="0.6" />
<line x1="107.00" y1="506.15" x2="110.40" y2="506.15" stroke="#a32424" stroke-width="0.6" />
<line x1="108.70" y1="504.45" x2="108.70" y2="507.85" stroke="#a32424" stroke-width="0.6" />
<line x1="114.42" y1="560.09" x2="117.82" y2="560.09" stroke="#a32424" stroke-width="0.6" />
<line x1="116.12" y1="558.39" x2="116.12" y2="561.79" stroke="#a32424" stroke-width="0.6" />
<line x1="48.18" y1="560.09" x2="51.58" y2="560.09" stroke="#a32424" stroke-width="0.6" />
<line x1="49.88" y1="558.39" x2="49.88" y2="561.79" stroke="#a32424" stroke-width="0.6" />
<line x1="26.61" y1="496.73" x2="30.01" y2="496.73" stroke="#a32424" stroke-width="0.6" />
<line x1="28.31" y1="495.03" x2="28.31" y2="498.43" stroke="#a32424" stroke-width="0.6" />
<circle cx="83.00" cy="465.05" r="1.30" fill="#a32424"/>
<circle cx="107.61" cy="506.50" r="1.30" fill="#a32424"/>
<circle cx="108.01" cy="548.92" r="1.30" fill="#a32424"/>
<circle cx="54.27" cy="554.04" r="1.30" fill="#a32424"/>
<circle cx="31.05" cy="497.62" r="1.30" fill="#a32424"/>
<line x1="81.50" y1="472.81" x2="84.50" y2="472.81" stroke="#a32424" stroke-width="0.6" />
<line x1="83.00" y1="471.31" x2="83.00" y2="474.31" stroke="#a32424" stroke-width="0.6" />
<line x1="81.90" y1="471.71" x2="84.10" y2="473.91" stroke="#a32424" stroke-width="0.6" />
<line x1="81.90" y1="473.91" x2="84.10" y2="471.71" stroke="#a32424" stroke-width="0.6" />
<line x1="105.56" y1="506.68" x2="108.56" y2="506.68" stroke="#a32424" stroke-width="0.6" />
<line x1="107.06" y1="505.18" x2="107.06" y2="508.18" stroke="#a32424" stroke-width="0.6" />
<line x1="105.96" y1="505.58" x2="108.16" y2="507.78" stroke="#a32424" stroke-width="0.6" />
<line x1="105.96" y1="507.78" x2="108.16" y2="505.58" stroke="#a32424" stroke-width="0.6" />
<line x1="103.81" y1="545.20" x2="106.81" y2="545.20" stroke="#a32424" stroke-width="0.6" />
<line x1="105.31" y1="543.70" x2="105.31" y2="546.70" stroke="#a32424" stroke-width="0.6" />
<line x1="104.21" y1="544.10" x2="106.41" y2="546.30" stroke="#a32424" stroke-width="0.6" />
<line x1="104.21" y1="546.30" x2="106.41" y2="544.10" stroke="#a32424" stroke-width="0.6" />
<line x1="52.77" y1="554.04" x2="55.77" y2="554.04" stroke="#a32424" stroke-width="0.6" />
<line x1="54.27" y1="552.54" x2="54.27" y2="555.54" stroke="#a32424" stroke-width="0.6" />
<line x1="53.17" y1="552.94" x2="55.37" y2="555.14" stroke="#a32424" stroke-width="0.6" />
<line x1="53.17" y1="555.14" x2="55.37" y2="552.94" stroke="#a32424" stroke-width="0.6" />
<line x1="44.86" y1="502.60" x2="47.86" y2="502.60" stroke="#a32424" stroke-width="0.6" />
<line x1="46.36" y1="501.10" x2="46.36" y2="504.10" stroke="#a32424" stroke-width="0.6" />
<line x1="45.26" y1="501.50" x2="47.46" y2="503.70" stroke="#a32424" stroke-width="0.6" />
<line x1="45.26" y1="503.70" x2="47.46" y2="501.50" stroke="#a32424" stroke-width="0.6" />
<polygon points="83.00,480.60 84.70,482.30 83.00,484.00 81.30,482.30" fill="none" stroke="#a32424" stroke-width="0.6"/>
<line x1="81.30" y1="482.30" x2="84.70" y2="482.30" stroke="#a32424" stroke-width="0.5" />
<line x1="83.00" y1="480.60" x2="83.00" y2="484.00" stroke="#a32424" stroke-width="0.5" />
<polygon points="107.06,504.98 108.76,506.68 107.06,508.38 105.36,506.68" fill="none" stroke="#a32424" stroke-width="0.6"/>
<line x1="105.36" y1="506.68" x2="108.76" y2="506.68" stroke="#a32424" stroke-width="0.5" />
<line x1="107.06" y1="504.98" x2="107.06" y2="508.38" stroke="#a32424" stroke-width="0.5" />
<polygon points="101.25,537.92 102.95,539.62 101.25,541.32 99.55,539.62" fill="none" stroke="#a32424" stroke-width="0.6"/>
<line x1="99.55" y1="539.62" x2="102.95" y2="539.62" stroke="#a32424" stroke-width="0.5" />
<line x1="101.25" y1="537.92" x2="101.25" y2="541.32" stroke="#a32424" stroke-width="0.5" />
<polygon points="55.29,550.95 56.99,552.65 55.29,554.35 53.59,552.65" fill="none" stroke="#a32424" stroke-width="0.6"/>
<line x1="53.59" y1="552.65" x2="56.99" y2="552.65" stroke="#a32424" stroke-width="0.5" />
<line x1="55.29" y1="550.95" x2="55.29" y2="554.35" stroke="#a32424" stroke-width="0.5" />
<polygon points="46.36,500.90 48.06,502.60 46.36,504.30 44.66,502.60" fill="none" stroke="#a32424" stroke-width="0.6"/>
<line x1="44.66" y1="502.60" x2="48.06" y2="502.60" stroke="#a32424" stroke-width="0.5" />
<line x1="46.36" y1="500.90" x2="46.36" y2="504.30" stroke="#a32424" stroke-width="0.5" />
<rect x="81.70" y="483.30" width="2.60" height="2.60" fill="none" stroke="#a32424" stroke-width="0.6" rx="0" />
<line x1="81.70" y1="483.30" x2="84.30" y2="485.90" stroke="#a32424" stroke-width="0.5" />
<line x1="81.70" y1="485.90" x2="84.30" y2="483.30" stroke="#a32424" stroke-width="0.5" />
<rect x="104.67" y="505.74" width="2.60" height="2.60" fill="none" stroke="#a32424" stroke-width="0.6" rx="0" />
<line x1="104.67" y1="505.74" x2="107.27" y2="508.34" stroke="#a32424" stroke-width="0.5" />
<line x1="104.67" y1="508.34" x2="107.27" y2="505.74" stroke="#a32424" stroke-width="0.5" />
<rect x="95.56" y="532.27" width="2.60" height="2.60" fill="none" stroke="#a32424" stroke-width="0.6" rx="0" />
<line x1="95.56" y1="532.27" x2="98.16" y2="534.87" stroke="#a32424" stroke-width="0.5" />
<line x1="95.56" y1="534.87" x2="98.16" y2="532.27" stroke="#a32424" stroke-width="0.5" />
<rect x="54.66" y="550.41" width="2.60" height="2.60" fill="none" stroke="#a32424" stroke-width="0.6" rx="0" />
<line x1="54.66" y1="550.41" x2="57.26" y2="553.01" stroke="#a32424" stroke-width="0.5" />
<line x1="54.66" y1="553.01" x2="57.26" y2="550.41" stroke="#a32424" stroke-width="0.5" />
<rect x="47.79" y="502.18" width="2.60" height="2.60" fill="none" stroke="#a32424" stroke-width="0.6" rx="0" />
<line x1="47.79" y1="502.18" x2="50.39" y2="504.78" stroke="#a32424" stroke-width="0.5" />
<line x1="47.79" y1="504.78" x2="50.39" y2="502.18" stroke="#a32424" stroke-width="0.5" />
<circle cx="83.00" cy="477.12" r="1.30" fill="#2a0a0a"/>
<circle cx="101.05" cy="508.64" r="1.30" fill="#2a0a0a"/>
<circle cx="93.82" cy="529.39" r="1.30" fill="#2a0a0a"/>
<circle cx="64.75" cy="539.62" r="1.30" fill="#2a0a0a"/>
<circle cx="57.84" cy="506.33" r="1.30" fill="#2a0a0a"/>
<rect x="81.80" y="481.68" width="2.40" height="2.40" fill="#2a0a0a" stroke="none" stroke-width="0.8" rx="0" />
<rect x="96.57" y="508.50" width="2.40" height="2.40" fill="#2a0a0a" stroke="none" stroke-width="0.8" rx="0" />
<rect x="92.62" y="528.19" width="2.40" height="2.40" fill="#2a0a0a" stroke="none" stroke-width="0.8" rx="0" />
<rect x="65.58" y="535.63" width="2.40" height="2.40" fill="#2a0a0a" stroke="none" stroke-width="0.8" rx="0" />
<rect x="56.64" y="505.13" width="2.40" height="2.40" fill="#2a0a0a" stroke="none" stroke-width="0.8" rx="0" />
<polygon points="83.00,483.00 84.50,485.60 81.50,485.60" fill="#2a0a0a"/>
<polygon points="99.41,507.57 100.91,510.17 97.91,510.17" fill="#2a0a0a"/>
<polygon points="93.14,526.86 94.64,529.46 91.64,529.46" fill="#2a0a0a"/>
<polygon points="66.10,536.16 67.60,538.76 64.60,538.76" fill="#2a0a0a"/>
<polygon points="58.94,505.08 60.44,507.68 57.44,507.68" fill="#2a0a0a"/>
<text x="83.00" y="508.18" font-size="6.6" font-weight="normal" font-style="normal" fill="#333" text-anchor="middle"  stroke="#333" stroke-width="0.12">0</text>
<text x="91.20" y="514.13" font-size="6.6" font-weight="normal" font-style="normal" fill="#333" text-anchor="middle"  stroke="#333" stroke-width="0.12">0</text>
<text x="88.07" y="523.78" font-size="6.6" font-weight="normal" font-style="normal" fill="#333" text-anchor="middle"  stroke="#333" stroke-width="0.12">0</text>
<text x="77.93" y="523.78" font-size="6.6" font-weight="normal" font-style="normal" fill="#333" text-anchor="middle"  stroke="#333" stroke-width="0.12">3</text>
<text x="74.80" y="514.13" font-size="6.6" font-weight="normal" font-style="normal" fill="#333" text-anchor="middle"  stroke="#333" stroke-width="0.12">0</text>
<text x="83.00" y="448.40" font-size="6.8" font-weight="normal" font-style="normal" fill="#222" text-anchor="middle" textLength="12" lengthAdjust="spacingAndGlyphs"  stroke="#222" stroke-width="0.12">PRS</text>
<text x="83.00" y="454.60" font-size="6.8" font-weight="normal" font-style="normal" fill="#222" text-anchor="middle"  stroke="#222" stroke-width="0.12">100</text>
<text x="138.69" y="490.43" font-size="6.8" fill="#222" stroke="#222" stroke-width="0.12">CV<tspan font-size="4" dy="1.5">NIBI</tspan></text>
<text x="139.49" y="498.13" font-size="6.8" font-weight="normal" font-style="normal" fill="#222" text-anchor="start"  stroke="#222" stroke-width="0.12">1.5</text>
<text x="118.30" y="569.02" font-size="6.8" font-weight="normal" font-style="normal" fill="#222" text-anchor="middle"  stroke="#222" stroke-width="0.12">250</text>
<text x="118.80" y="576.02" font-size="6.8" font-weight="normal" font-style="normal" fill="#222" text-anchor="middle"  stroke="#222" stroke-width="0.12">NIBI</text>
<text x="47.20" y="568.52" font-size="6.8" font-weight="normal" font-style="normal" fill="#222" text-anchor="middle"  stroke="#222" stroke-width="0.12">0</text>
<text x="47.20" y="576.02" font-size="6.8" font-weight="normal" font-style="normal" fill="#222" text-anchor="middle"  stroke="#222" stroke-width="0.12">NBR</text>
<text x="20.51" y="490.73" font-size="6.8" font-weight="normal" font-style="normal" fill="#222" text-anchor="middle"  stroke="#222" stroke-width="0.12">IBI</text>
<text x="20.51" y="498.13" font-size="6.8" font-weight="normal" font-style="normal" fill="#222" text-anchor="middle"  stroke="#222" stroke-width="0.12">110</text>
<text x="21.60" y="463.00" font-size="11.0" font-weight="bold" font-style="normal" fill="#222" text-anchor="start" textLength="27" lengthAdjust="spacingAndGlyphs"  stroke="#222" stroke-width="0.0">DIV23</text>
<text x="3.00" y="443.50" font-size="8.5" font-weight="bold" font-style="normal" fill="#222" text-anchor="start"  stroke="#222" stroke-width="0.0">J</text>
<polygon points="237.40,502.60 248.53,510.68 244.28,523.77 230.52,523.77 226.27,510.68" fill="none" stroke="#b5b5b5" stroke-width="0.6"/>
<polygon points="237.40,490.90 259.65,507.07 251.15,533.23 223.65,533.23 215.15,507.07" fill="none" stroke="#b5b5b5" stroke-width="0.6"/>
<polygon points="237.40,479.20 270.78,503.45 258.03,542.70 216.77,542.70 204.02,503.45" fill="none" stroke="#b5b5b5" stroke-width="0.6"/>
<polygon points="237.40,467.50 281.91,499.84 264.91,552.16 209.89,552.16 192.89,499.84" fill="none" stroke="#b5b5b5" stroke-width="0.6"/>
<polygon points="237.40,455.80 293.04,496.22 271.79,561.63 203.01,561.63 181.76,496.22" fill="none" stroke="#b5b5b5" stroke-width="0.6"/>
<line x1="237.40" y1="502.60" x2="237.40" y2="455.80" stroke="#b5b5b5" stroke-width="0.6" />
<line x1="248.53" y1="510.68" x2="293.04" y2="496.22" stroke="#b5b5b5" stroke-width="0.6" />
<line x1="244.28" y1="523.77" x2="271.79" y2="561.63" stroke="#b5b5b5" stroke-width="0.6" />
<line x1="230.52" y1="523.77" x2="203.01" y2="561.63" stroke="#b5b5b5" stroke-width="0.6" />
<line x1="226.27" y1="510.68" x2="181.76" y2="496.22" stroke="#b5b5b5" stroke-width="0.6" />
<polygon points="237.40,471.59 271.89,503.09 256.31,540.33 207.48,555.47 197.34,501.28" fill="#a32424" fill-opacity="0.095" stroke="#a32424" stroke-width="1.0" stroke-linejoin="round"/>
<polygon points="237.40,476.27 268.00,504.36 254.59,537.96 208.17,554.53 206.80,504.36" fill="#a32424" fill-opacity="0.095" stroke="#a32424" stroke-width="1.0" stroke-linejoin="round"/>
<polygon points="237.40,479.20 265.22,505.26 251.84,534.18 209.20,553.11 209.58,505.26" fill="#a32424" fill-opacity="0.095" stroke="#a32424" stroke-width="1.0" stroke-linejoin="round"/>
<polygon points="237.40,482.12 258.54,507.43 251.84,534.18 209.89,552.16 210.14,505.44" fill="#a32424" fill-opacity="0.095" stroke="#a32424" stroke-width="1.0" stroke-linejoin="round"/>
<polygon points="237.40,491.48 259.65,507.07 251.15,533.23 213.33,547.43 210.14,505.44" fill="#a32424" fill-opacity="0.095" stroke="#a32424" stroke-width="1.0" stroke-linejoin="round"/>
<polygon points="237.40,487.39 250.20,510.14 250.47,532.28 211.95,549.32 216.81,507.61" fill="#2a0a0a" fill-opacity="0.16" stroke="#2a0a0a" stroke-width="1.0" stroke-linejoin="round"/>
<polygon points="237.40,490.90 251.31,509.78 246.34,526.61 222.96,534.18 216.81,507.61" fill="#2a0a0a" fill-opacity="0.16" stroke="#2a0a0a" stroke-width="1.0" stroke-linejoin="round"/>
<polygon points="237.40,489.73 252.98,509.24 247.72,528.50 225.71,530.39 215.15,507.07" fill="#2a0a0a" fill-opacity="0.16" stroke="#2a0a0a" stroke-width="1.0" stroke-linejoin="round"/>
<line x1="235.70" y1="471.59" x2="239.10" y2="471.59" stroke="#a32424" stroke-width="0.6" />
<line x1="237.40" y1="469.89" x2="237.40" y2="473.29" stroke="#a32424" stroke-width="0.6" />
<line x1="270.19" y1="503.09" x2="273.59" y2="503.09" stroke="#a32424" stroke-width="0.6" />
<line x1="271.89" y1="501.39" x2="271.89" y2="504.79" stroke="#a32424" stroke-width="0.6" />
<line x1="254.61" y1="540.33" x2="258.01" y2="540.33" stroke="#a32424" stroke-width="0.6" />
<line x1="256.31" y1="538.63" x2="256.31" y2="542.03" stroke="#a32424" stroke-width="0.6" />
<line x1="205.78" y1="555.47" x2="209.18" y2="555.47" stroke="#a32424" stroke-width="0.6" />
<line x1="207.48" y1="553.77" x2="207.48" y2="557.17" stroke="#a32424" stroke-width="0.6" />
<line x1="195.64" y1="501.28" x2="199.04" y2="501.28" stroke="#a32424" stroke-width="0.6" />
<line x1="197.34" y1="499.58" x2="197.34" y2="502.98" stroke="#a32424" stroke-width="0.6" />
<circle cx="237.40" cy="476.27" r="1.30" fill="#a32424"/>
<circle cx="268.00" cy="504.36" r="1.30" fill="#a32424"/>
<circle cx="254.59" cy="537.96" r="1.30" fill="#a32424"/>
<circle cx="208.17" cy="554.53" r="1.30" fill="#a32424"/>
<circle cx="206.80" cy="504.36" r="1.30" fill="#a32424"/>
<line x1="235.90" y1="479.20" x2="238.90" y2="479.20" stroke="#a32424" stroke-width="0.6" />
<line x1="237.40" y1="477.70" x2="237.40" y2="480.70" stroke="#a32424" stroke-width="0.6" />
<line x1="236.30" y1="478.10" x2="238.50" y2="480.30" stroke="#a32424" stroke-width="0.6" />
<line x1="236.30" y1="480.30" x2="238.50" y2="478.10" stroke="#a32424" stroke-width="0.6" />
<line x1="263.72" y1="505.26" x2="266.72" y2="505.26" stroke="#a32424" stroke-width="0.6" />
<line x1="265.22" y1="503.76" x2="265.22" y2="506.76" stroke="#a32424" stroke-width="0.6" />
<line x1="264.12" y1="504.16" x2="266.32" y2="506.36" stroke="#a32424" stroke-width="0.6" />
<line x1="264.12" y1="506.36" x2="266.32" y2="504.16" stroke="#a32424" stroke-width="0.6" />
<line x1="250.34" y1="534.18" x2="253.34" y2="534.18" stroke="#a32424" stroke-width="0.6" />
<line x1="251.84" y1="532.68" x2="251.84" y2="535.68" stroke="#a32424" stroke-width="0.6" />
<line x1="250.74" y1="533.08" x2="252.94" y2="535.28" stroke="#a32424" stroke-width="0.6" />
<line x1="250.74" y1="535.28" x2="252.94" y2="533.08" stroke="#a32424" stroke-width="0.6" />
<line x1="207.70" y1="553.11" x2="210.70" y2="553.11" stroke="#a32424" stroke-width="0.6" />
<line x1="209.20" y1="551.61" x2="209.20" y2="554.61" stroke="#a32424" stroke-width="0.6" />
<line x1="208.10" y1="552.01" x2="210.30" y2="554.21" stroke="#a32424" stroke-width="0.6" />
<line x1="208.10" y1="554.21" x2="210.30" y2="552.01" stroke="#a32424" stroke-width="0.6" />
<line x1="208.08" y1="505.26" x2="211.08" y2="505.26" stroke="#a32424" stroke-width="0.6" />
<line x1="209.58" y1="503.76" x2="209.58" y2="506.76" stroke="#a32424" stroke-width="0.6" />
<line x1="208.48" y1="504.16" x2="210.68" y2="506.36" stroke="#a32424" stroke-width="0.6" />
<line x1="208.48" y1="506.36" x2="210.68" y2="504.16" stroke="#a32424" stroke-width="0.6" />
<polygon points="237.40,480.42 239.10,482.12 237.40,483.82 235.70,482.12" fill="none" stroke="#a32424" stroke-width="0.6"/>
<line x1="235.70" y1="482.12" x2="239.10" y2="482.12" stroke="#a32424" stroke-width="0.5" />
<line x1="237.40" y1="480.42" x2="237.40" y2="483.82" stroke="#a32424" stroke-width="0.5" />
<polygon points="258.54,505.73 260.24,507.43 258.54,509.13 256.84,507.43" fill="none" stroke="#a32424" stroke-width="0.6"/>
<line x1="256.84" y1="507.43" x2="260.24" y2="507.43" stroke="#a32424" stroke-width="0.5" />
<line x1="258.54" y1="505.73" x2="258.54" y2="509.13" stroke="#a32424" stroke-width="0.5" />
<polygon points="251.84,532.48 253.54,534.18 251.84,535.88 250.14,534.18" fill="none" stroke="#a32424" stroke-width="0.6"/>
<line x1="250.14" y1="534.18" x2="253.54" y2="534.18" stroke="#a32424" stroke-width="0.5" />
<line x1="251.84" y1="532.48" x2="251.84" y2="535.88" stroke="#a32424" stroke-width="0.5" />
<polygon points="209.89,550.46 211.59,552.16 209.89,553.86 208.19,552.16" fill="none" stroke="#a32424" stroke-width="0.6"/>
<line x1="208.19" y1="552.16" x2="211.59" y2="552.16" stroke="#a32424" stroke-width="0.5" />
<line x1="209.89" y1="550.46" x2="209.89" y2="553.86" stroke="#a32424" stroke-width="0.5" />
<polygon points="210.14,503.74 211.84,505.44 210.14,507.14 208.44,505.44" fill="none" stroke="#a32424" stroke-width="0.6"/>
<line x1="208.44" y1="505.44" x2="211.84" y2="505.44" stroke="#a32424" stroke-width="0.5" />
<line x1="210.14" y1="503.74" x2="210.14" y2="507.14" stroke="#a32424" stroke-width="0.5" />
<rect x="236.10" y="490.18" width="2.60" height="2.60" fill="none" stroke="#a32424" stroke-width="0.6" rx="0" />
<line x1="236.10" y1="490.18" x2="238.70" y2="492.78" stroke="#a32424" stroke-width="0.5" />
<line x1="236.10" y1="492.78" x2="238.70" y2="490.18" stroke="#a32424" stroke-width="0.5" />
<rect x="258.35" y="505.77" width="2.60" height="2.60" fill="none" stroke="#a32424" stroke-width="0.6" rx="0" />
<line x1="258.35" y1="505.77" x2="260.95" y2="508.37" stroke="#a32424" stroke-width="0.5" />
<line x1="258.35" y1="508.37" x2="260.95" y2="505.77" stroke="#a32424" stroke-width="0.5" />
<rect x="249.85" y="531.93" width="2.60" height="2.60" fill="none" stroke="#a32424" stroke-width="0.6" rx="0" />
<line x1="249.85" y1="531.93" x2="252.45" y2="534.53" stroke="#a32424" stroke-width="0.5" />
<line x1="249.85" y1="534.53" x2="252.45" y2="531.93" stroke="#a32424" stroke-width="0.5" />
<rect x="212.03" y="546.13" width="2.60" height="2.60" fill="none" stroke="#a32424" stroke-width="0.6" rx="0" />
<line x1="212.03" y1="546.13" x2="214.63" y2="548.73" stroke="#a32424" stroke-width="0.5" />
<line x1="212.03" y1="548.73" x2="214.63" y2="546.13" stroke="#a32424" stroke-width="0.5" />
<rect x="208.84" y="504.14" width="2.60" height="2.60" fill="none" stroke="#a32424" stroke-width="0.6" rx="0" />
<line x1="208.84" y1="504.14" x2="211.44" y2="506.74" stroke="#a32424" stroke-width="0.5" />
<line x1="208.84" y1="506.74" x2="211.44" y2="504.14" stroke="#a32424" stroke-width="0.5" />
<circle cx="237.40" cy="487.39" r="1.30" fill="#2a0a0a"/>
<circle cx="250.20" cy="510.14" r="1.30" fill="#2a0a0a"/>
<circle cx="250.47" cy="532.28" r="1.30" fill="#2a0a0a"/>
<circle cx="211.95" cy="549.32" r="1.30" fill="#2a0a0a"/>
<circle cx="216.81" cy="507.61" r="1.30" fill="#2a0a0a"/>
<rect x="236.20" y="489.70" width="2.40" height="2.40" fill="#2a0a0a" stroke="none" stroke-width="0.8" rx="0" />
<rect x="250.11" y="508.58" width="2.40" height="2.40" fill="#2a0a0a" stroke="none" stroke-width="0.8" rx="0" />
<rect x="245.14" y="525.41" width="2.40" height="2.40" fill="#2a0a0a" stroke="none" stroke-width="0.8" rx="0" />
<rect x="221.76" y="532.98" width="2.40" height="2.40" fill="#2a0a0a" stroke="none" stroke-width="0.8" rx="0" />
<rect x="215.61" y="506.41" width="2.40" height="2.40" fill="#2a0a0a" stroke="none" stroke-width="0.8" rx="0" />
<polygon points="237.40,488.13 238.90,490.73 235.90,490.73" fill="#2a0a0a"/>
<polygon points="252.98,507.64 254.48,510.24 251.48,510.24" fill="#2a0a0a"/>
<polygon points="247.72,526.90 249.22,529.50 246.22,529.50" fill="#2a0a0a"/>
<polygon points="225.71,528.79 227.21,531.39 224.21,531.39" fill="#2a0a0a"/>
<polygon points="215.15,505.47 216.65,508.07 213.65,508.07" fill="#2a0a0a"/>
<text x="237.40" y="507.82" font-size="6.6" font-weight="normal" font-style="normal" fill="#333" text-anchor="middle"  stroke="#333" stroke-width="0.12">0</text>
<text x="245.75" y="513.89" font-size="6.6" font-weight="normal" font-style="normal" fill="#333" text-anchor="middle"  stroke="#333" stroke-width="0.12">0</text>
<text x="242.56" y="523.70" font-size="6.6" font-weight="normal" font-style="normal" fill="#333" text-anchor="middle"  stroke="#333" stroke-width="0.12">0</text>
<text x="232.24" y="523.70" font-size="6.6" font-weight="normal" font-style="normal" fill="#333" text-anchor="middle"  stroke="#333" stroke-width="0.12">3</text>
<text x="229.05" y="513.89" font-size="6.6" font-weight="normal" font-style="normal" fill="#333" text-anchor="middle"  stroke="#333" stroke-width="0.12">0</text>
<text x="237.40" y="447.20" font-size="6.8" font-weight="normal" font-style="normal" fill="#222" text-anchor="middle" textLength="12" lengthAdjust="spacingAndGlyphs"  stroke="#222" stroke-width="0.12">PRS</text>
<text x="237.40" y="453.40" font-size="6.8" font-weight="normal" font-style="normal" fill="#222" text-anchor="middle"  stroke="#222" stroke-width="0.12">100</text>
<text x="294.04" y="489.92" font-size="6.8" fill="#222" stroke="#222" stroke-width="0.12">CV<tspan font-size="4" dy="1.5">NIBI</tspan></text>
<text x="294.84" y="497.62" font-size="6.8" font-weight="normal" font-style="normal" fill="#222" text-anchor="start"  stroke="#222" stroke-width="0.12">1.5</text>
<text x="273.29" y="569.63" font-size="6.8" font-weight="normal" font-style="normal" fill="#222" text-anchor="middle"  stroke="#222" stroke-width="0.12">250</text>
<text x="273.79" y="576.63" font-size="6.8" font-weight="normal" font-style="normal" fill="#222" text-anchor="middle"  stroke="#222" stroke-width="0.12">NIBI</text>
<text x="201.01" y="569.13" font-size="6.8" font-weight="normal" font-style="normal" fill="#222" text-anchor="middle"  stroke="#222" stroke-width="0.12">0</text>
<text x="201.01" y="576.63" font-size="6.8" font-weight="normal" font-style="normal" fill="#222" text-anchor="middle"  stroke="#222" stroke-width="0.12">NBR</text>
<text x="173.96" y="490.22" font-size="6.8" font-weight="normal" font-style="normal" fill="#222" text-anchor="middle"  stroke="#222" stroke-width="0.12">IBI</text>
<text x="173.96" y="497.62" font-size="6.8" font-weight="normal" font-style="normal" fill="#222" text-anchor="middle"  stroke="#222" stroke-width="0.12">110</text>
<text x="176.80" y="463.00" font-size="11.0" font-weight="bold" font-style="normal" fill="#222" text-anchor="start" textLength="27" lengthAdjust="spacingAndGlyphs"  stroke="#222" stroke-width="0.0">DIV30</text>
<text x="152.20" y="443.50" font-size="8.5" font-weight="bold" font-style="normal" fill="#222" text-anchor="start"  stroke="#222" stroke-width="0.0">K</text>
<text x="309.80" y="444.00" font-size="8.5" font-weight="bold" font-style="normal" fill="#222" text-anchor="start"  stroke="#222" stroke-width="0.0">L</text>
<path d="M351.00,536.90 L369.00,532.74 L387.00,524.43 L400.50,515.52 L432.00,494.13" stroke="#a62b2b" stroke-width="0.95" fill="none"/>
<path d="M351.00,536.31 L369.00,533.34 L387.00,527.99 L400.50,510.76 L432.00,495.32" stroke="#a62b2b" stroke-width="0.95" fill="none"/>
<path d="M351.00,536.90 L369.00,532.74 L387.00,526.21 L400.50,513.14 L432.00,495.91" stroke="#a62b2b" stroke-width="0.95" fill="none"/>
<path d="M351.00,536.90 L369.00,533.34 L387.00,527.40 L400.50,514.33 L432.00,494.73" stroke="#a62b2b" stroke-width="0.95" fill="none"/>
<path d="M351.00,534.52 L369.00,529.77 L387.00,508.39 L400.50,481.06 L432.00,469.18" stroke="#111" stroke-width="0.95" fill="none"/>
<path d="M351.00,535.12 L369.00,530.37 L387.00,517.30 L400.50,483.44 L432.00,475.72" stroke="#111" stroke-width="0.95" fill="none"/>
<line x1="351.00" y1="536.31" x2="351.00" y2="537.49" stroke="#a62b2b" stroke-width="0.5" stroke-opacity="0.7"/>
<line x1="350.10" y1="536.31" x2="351.90" y2="536.31" stroke="#a62b2b" stroke-width="0.5" stroke-opacity="0.7"/>
<line x1="350.10" y1="537.49" x2="351.90" y2="537.49" stroke="#a62b2b" stroke-width="0.5" stroke-opacity="0.7"/>
<circle cx="351.00" cy="536.90" r="1.49" fill="#a62b2b"/>
<line x1="369.00" y1="532.15" x2="369.00" y2="533.34" stroke="#a62b2b" stroke-width="0.5" stroke-opacity="0.7"/>
<line x1="368.10" y1="532.15" x2="369.90" y2="532.15" stroke="#a62b2b" stroke-width="0.5" stroke-opacity="0.7"/>
<line x1="368.10" y1="533.34" x2="369.90" y2="533.34" stroke="#a62b2b" stroke-width="0.5" stroke-opacity="0.7"/>
<circle cx="369.00" cy="532.74" r="1.49" fill="#a62b2b"/>
<line x1="387.00" y1="522.64" x2="387.00" y2="526.21" stroke="#a62b2b" stroke-width="0.5" stroke-opacity="0.7"/>
<line x1="386.10" y1="522.64" x2="387.90" y2="522.64" stroke="#a62b2b" stroke-width="0.5" stroke-opacity="0.7"/>
<line x1="386.10" y1="526.21" x2="387.90" y2="526.21" stroke="#a62b2b" stroke-width="0.5" stroke-opacity="0.7"/>
<circle cx="387.00" cy="524.43" r="1.49" fill="#a62b2b"/>
<line x1="400.50" y1="513.14" x2="400.50" y2="517.89" stroke="#a62b2b" stroke-width="0.5" stroke-opacity="0.7"/>
<line x1="399.60" y1="513.14" x2="401.40" y2="513.14" stroke="#a62b2b" stroke-width="0.5" stroke-opacity="0.7"/>
<line x1="399.60" y1="517.89" x2="401.40" y2="517.89" stroke="#a62b2b" stroke-width="0.5" stroke-opacity="0.7"/>
<circle cx="400.50" cy="515.52" r="1.49" fill="#a62b2b"/>
<line x1="432.00" y1="485.82" x2="432.00" y2="502.45" stroke="#a62b2b" stroke-width="0.5" stroke-opacity="0.7"/>
<line x1="431.10" y1="485.82" x2="432.90" y2="485.82" stroke="#a62b2b" stroke-width="0.5" stroke-opacity="0.7"/>
<line x1="431.10" y1="502.45" x2="432.90" y2="502.45" stroke="#a62b2b" stroke-width="0.5" stroke-opacity="0.7"/>
<circle cx="432.00" cy="494.13" r="1.49" fill="#a62b2b"/>
<line x1="351.00" y1="535.71" x2="351.00" y2="536.90" stroke="#a62b2b" stroke-width="0.5" stroke-opacity="0.7"/>
<line x1="350.10" y1="535.71" x2="351.90" y2="535.71" stroke="#a62b2b" stroke-width="0.5" stroke-opacity="0.7"/>
<line x1="350.10" y1="536.90" x2="351.90" y2="536.90" stroke="#a62b2b" stroke-width="0.5" stroke-opacity="0.7"/>
<line x1="349.05" y1="536.31" x2="352.95" y2="536.31" stroke="#a62b2b" stroke-width="0.6" />
<line x1="351.00" y1="534.35" x2="351.00" y2="538.26" stroke="#a62b2b" stroke-width="0.6" />
<line x1="369.00" y1="532.74" x2="369.00" y2="533.93" stroke="#a62b2b" stroke-width="0.5" stroke-opacity="0.7"/>
<line x1="368.10" y1="532.74" x2="369.90" y2="532.74" stroke="#a62b2b" stroke-width="0.5" stroke-opacity="0.7"/>
<line x1="368.10" y1="533.93" x2="369.90" y2="533.93" stroke="#a62b2b" stroke-width="0.5" stroke-opacity="0.7"/>
<line x1="367.05" y1="533.34" x2="370.95" y2="533.34" stroke="#a62b2b" stroke-width="0.6" />
<line x1="369.00" y1="531.38" x2="369.00" y2="535.29" stroke="#a62b2b" stroke-width="0.6" />
<line x1="387.00" y1="526.21" x2="387.00" y2="529.77" stroke="#a62b2b" stroke-width="0.5" stroke-opacity="0.7"/>
<line x1="386.10" y1="526.21" x2="387.90" y2="526.21" stroke="#a62b2b" stroke-width="0.5" stroke-opacity="0.7"/>
<line x1="386.10" y1="529.77" x2="387.90" y2="529.77" stroke="#a62b2b" stroke-width="0.5" stroke-opacity="0.7"/>
<line x1="385.05" y1="527.99" x2="388.95" y2="527.99" stroke="#a62b2b" stroke-width="0.6" />
<line x1="387.00" y1="526.03" x2="387.00" y2="529.95" stroke="#a62b2b" stroke-width="0.6" />
<line x1="400.50" y1="506.61" x2="400.50" y2="514.92" stroke="#a62b2b" stroke-width="0.5" stroke-opacity="0.7"/>
<line x1="399.60" y1="506.61" x2="401.40" y2="506.61" stroke="#a62b2b" stroke-width="0.5" stroke-opacity="0.7"/>
<line x1="399.60" y1="514.92" x2="401.40" y2="514.92" stroke="#a62b2b" stroke-width="0.5" stroke-opacity="0.7"/>
<line x1="398.55" y1="510.76" x2="402.45" y2="510.76" stroke="#a62b2b" stroke-width="0.6" />
<line x1="400.50" y1="508.81" x2="400.50" y2="512.72" stroke="#a62b2b" stroke-width="0.6" />
<line x1="432.00" y1="488.19" x2="432.00" y2="502.45" stroke="#a62b2b" stroke-width="0.5" stroke-opacity="0.7"/>
<line x1="431.10" y1="488.19" x2="432.90" y2="488.19" stroke="#a62b2b" stroke-width="0.5" stroke-opacity="0.7"/>
<line x1="431.10" y1="502.45" x2="432.90" y2="502.45" stroke="#a62b2b" stroke-width="0.5" stroke-opacity="0.7"/>
<line x1="430.05" y1="495.32" x2="433.95" y2="495.32" stroke="#a62b2b" stroke-width="0.6" />
<line x1="432.00" y1="493.37" x2="432.00" y2="497.27" stroke="#a62b2b" stroke-width="0.6" />
<line x1="351.00" y1="536.31" x2="351.00" y2="537.49" stroke="#a62b2b" stroke-width="0.5" stroke-opacity="0.7"/>
<line x1="350.10" y1="536.31" x2="351.90" y2="536.31" stroke="#a62b2b" stroke-width="0.5" stroke-opacity="0.7"/>
<line x1="350.10" y1="537.49" x2="351.90" y2="537.49" stroke="#a62b2b" stroke-width="0.5" stroke-opacity="0.7"/>
<line x1="349.27" y1="536.90" x2="352.73" y2="536.90" stroke="#a62b2b" stroke-width="0.6" />
<line x1="351.00" y1="535.17" x2="351.00" y2="538.62" stroke="#a62b2b" stroke-width="0.6" />
<line x1="349.74" y1="535.63" x2="352.26" y2="538.16" stroke="#a62b2b" stroke-width="0.6" />
<line x1="349.74" y1="538.16" x2="352.26" y2="535.63" stroke="#a62b2b" stroke-width="0.6" />
<line x1="369.00" y1="532.15" x2="369.00" y2="533.34" stroke="#a62b2b" stroke-width="0.5" stroke-opacity="0.7"/>
<line x1="368.10" y1="532.15" x2="369.90" y2="532.15" stroke="#a62b2b" stroke-width="0.5" stroke-opacity="0.7"/>
<line x1="368.10" y1="533.34" x2="369.90" y2="533.34" stroke="#a62b2b" stroke-width="0.5" stroke-opacity="0.7"/>
<line x1="367.27" y1="532.74" x2="370.73" y2="532.74" stroke="#a62b2b" stroke-width="0.6" />
<line x1="369.00" y1="531.02" x2="369.00" y2="534.47" stroke="#a62b2b" stroke-width="0.6" />
<line x1="367.74" y1="531.48" x2="370.26" y2="534.01" stroke="#a62b2b" stroke-width="0.6" />
<line x1="367.74" y1="534.01" x2="370.26" y2="531.48" stroke="#a62b2b" stroke-width="0.6" />
<line x1="387.00" y1="524.43" x2="387.00" y2="527.99" stroke="#a62b2b" stroke-width="0.5" stroke-opacity="0.7"/>
<line x1="386.10" y1="524.43" x2="387.90" y2="524.43" stroke="#a62b2b" stroke-width="0.5" stroke-opacity="0.7"/>
<line x1="386.10" y1="527.99" x2="387.90" y2="527.99" stroke="#a62b2b" stroke-width="0.5" stroke-opacity="0.7"/>
<line x1="385.27" y1="526.21" x2="388.73" y2="526.21" stroke="#a62b2b" stroke-width="0.6" />
<line x1="387.00" y1="524.48" x2="387.00" y2="527.93" stroke="#a62b2b" stroke-width="0.6" />
<line x1="385.74" y1="524.94" x2="388.26" y2="527.47" stroke="#a62b2b" stroke-width="0.6" />
<line x1="385.74" y1="527.47" x2="388.26" y2="524.94" stroke="#a62b2b" stroke-width="0.6" />
<line x1="400.50" y1="510.76" x2="400.50" y2="515.52" stroke="#a62b2b" stroke-width="0.5" stroke-opacity="0.7"/>
<line x1="399.60" y1="510.76" x2="401.40" y2="510.76" stroke="#a62b2b" stroke-width="0.5" stroke-opacity="0.7"/>
<line x1="399.60" y1="515.52" x2="401.40" y2="515.52" stroke="#a62b2b" stroke-width="0.5" stroke-opacity="0.7"/>
<line x1="398.77" y1="513.14" x2="402.23" y2="513.14" stroke="#a62b2b" stroke-width="0.6" />
<line x1="400.50" y1="511.41" x2="400.50" y2="514.87" stroke="#a62b2b" stroke-width="0.6" />
<line x1="399.24" y1="511.88" x2="401.76" y2="514.40" stroke="#a62b2b" stroke-width="0.6" />
<line x1="399.24" y1="514.40" x2="401.76" y2="511.88" stroke="#a62b2b" stroke-width="0.6" />
<line x1="432.00" y1="491.16" x2="432.00" y2="500.67" stroke="#a62b2b" stroke-width="0.5" stroke-opacity="0.7"/>
<line x1="431.10" y1="491.16" x2="432.90" y2="491.16" stroke="#a62b2b" stroke-width="0.5" stroke-opacity="0.7"/>
<line x1="431.10" y1="500.67" x2="432.90" y2="500.67" stroke="#a62b2b" stroke-width="0.5" stroke-opacity="0.7"/>
<line x1="430.27" y1="495.91" x2="433.73" y2="495.91" stroke="#a62b2b" stroke-width="0.6" />
<line x1="432.00" y1="494.19" x2="432.00" y2="497.64" stroke="#a62b2b" stroke-width="0.6" />
<line x1="430.74" y1="494.65" x2="433.26" y2="497.18" stroke="#a62b2b" stroke-width="0.6" />
<line x1="430.74" y1="497.18" x2="433.26" y2="494.65" stroke="#a62b2b" stroke-width="0.6" />
<line x1="351.00" y1="536.31" x2="351.00" y2="537.49" stroke="#a62b2b" stroke-width="0.5" stroke-opacity="0.7"/>
<line x1="350.10" y1="536.31" x2="351.90" y2="536.31" stroke="#a62b2b" stroke-width="0.5" stroke-opacity="0.7"/>
<line x1="350.10" y1="537.49" x2="351.90" y2="537.49" stroke="#a62b2b" stroke-width="0.5" stroke-opacity="0.7"/>
<polygon points="351.00,534.94 352.95,536.90 351.00,538.86 349.05,536.90" fill="none" stroke="#a62b2b" stroke-width="0.6"/>
<line x1="349.05" y1="536.90" x2="352.95" y2="536.90" stroke="#a62b2b" stroke-width="0.5" />
<line x1="351.00" y1="534.94" x2="351.00" y2="538.86" stroke="#a62b2b" stroke-width="0.5" />
<line x1="369.00" y1="532.74" x2="369.00" y2="533.93" stroke="#a62b2b" stroke-width="0.5" stroke-opacity="0.7"/>
<line x1="368.10" y1="532.74" x2="369.90" y2="532.74" stroke="#a62b2b" stroke-width="0.5" stroke-opacity="0.7"/>
<line x1="368.10" y1="533.93" x2="369.90" y2="533.93" stroke="#a62b2b" stroke-width="0.5" stroke-opacity="0.7"/>
<polygon points="369.00,531.38 370.95,533.34 369.00,535.29 367.05,533.34" fill="none" stroke="#a62b2b" stroke-width="0.6"/>
<line x1="367.05" y1="533.34" x2="370.95" y2="533.34" stroke="#a62b2b" stroke-width="0.5" />
<line x1="369.00" y1="531.38" x2="369.00" y2="535.29" stroke="#a62b2b" stroke-width="0.5" />
<line x1="387.00" y1="525.61" x2="387.00" y2="529.18" stroke="#a62b2b" stroke-width="0.5" stroke-opacity="0.7"/>
<line x1="386.10" y1="525.61" x2="387.90" y2="525.61" stroke="#a62b2b" stroke-width="0.5" stroke-opacity="0.7"/>
<line x1="386.10" y1="529.18" x2="387.90" y2="529.18" stroke="#a62b2b" stroke-width="0.5" stroke-opacity="0.7"/>
<polygon points="387.00,525.44 388.95,527.40 387.00,529.35 385.05,527.40" fill="none" stroke="#a62b2b" stroke-width="0.6"/>
<line x1="385.05" y1="527.40" x2="388.95" y2="527.40" stroke="#a62b2b" stroke-width="0.5" />
<line x1="387.00" y1="525.44" x2="387.00" y2="529.35" stroke="#a62b2b" stroke-width="0.5" />
<line x1="400.50" y1="512.55" x2="400.50" y2="516.11" stroke="#a62b2b" stroke-width="0.5" stroke-opacity="0.7"/>
<line x1="399.60" y1="512.55" x2="401.40" y2="512.55" stroke="#a62b2b" stroke-width="0.5" stroke-opacity="0.7"/>
<line x1="399.60" y1="516.11" x2="401.40" y2="516.11" stroke="#a62b2b" stroke-width="0.5" stroke-opacity="0.7"/>
<polygon points="400.50,512.37 402.45,514.33 400.50,516.28 398.55,514.33" fill="none" stroke="#a62b2b" stroke-width="0.6"/>
<line x1="398.55" y1="514.33" x2="402.45" y2="514.33" stroke="#a62b2b" stroke-width="0.5" />
<line x1="400.50" y1="512.37" x2="400.50" y2="516.28" stroke="#a62b2b" stroke-width="0.5" />
<line x1="432.00" y1="488.79" x2="432.00" y2="500.67" stroke="#a62b2b" stroke-width="0.5" stroke-opacity="0.7"/>
<line x1="431.10" y1="488.79" x2="432.90" y2="488.79" stroke="#a62b2b" stroke-width="0.5" stroke-opacity="0.7"/>
<line x1="431.10" y1="500.67" x2="432.90" y2="500.67" stroke="#a62b2b" stroke-width="0.5" stroke-opacity="0.7"/>
<polygon points="432.00,492.77 433.95,494.73 432.00,496.68 430.05,494.73" fill="none" stroke="#a62b2b" stroke-width="0.6"/>
<line x1="430.05" y1="494.73" x2="433.95" y2="494.73" stroke="#a62b2b" stroke-width="0.5" />
<line x1="432.00" y1="492.77" x2="432.00" y2="496.68" stroke="#a62b2b" stroke-width="0.5" />
<line x1="351.00" y1="533.93" x2="351.00" y2="535.12" stroke="#111" stroke-width="0.5" stroke-opacity="0.7"/>
<line x1="350.10" y1="533.93" x2="351.90" y2="533.93" stroke="#111" stroke-width="0.5" stroke-opacity="0.7"/>
<line x1="350.10" y1="535.12" x2="351.90" y2="535.12" stroke="#111" stroke-width="0.5" stroke-opacity="0.7"/>
<rect x="349.62" y="533.14" width="2.76" height="2.76" fill="#111" stroke="none" stroke-width="0.8" rx="0" />
<line x1="369.00" y1="529.18" x2="369.00" y2="530.37" stroke="#111" stroke-width="0.5" stroke-opacity="0.7"/>
<line x1="368.10" y1="529.18" x2="369.90" y2="529.18" stroke="#111" stroke-width="0.5" stroke-opacity="0.7"/>
<line x1="368.10" y1="530.37" x2="369.90" y2="530.37" stroke="#111" stroke-width="0.5" stroke-opacity="0.7"/>
<rect x="367.62" y="528.39" width="2.76" height="2.76" fill="#111" stroke="none" stroke-width="0.8" rx="0" />
<line x1="387.00" y1="505.42" x2="387.00" y2="511.36" stroke="#111" stroke-width="0.5" stroke-opacity="0.7"/>
<line x1="386.10" y1="505.42" x2="387.90" y2="505.42" stroke="#111" stroke-width="0.5" stroke-opacity="0.7"/>
<line x1="386.10" y1="511.36" x2="387.90" y2="511.36" stroke="#111" stroke-width="0.5" stroke-opacity="0.7"/>
<rect x="385.62" y="507.01" width="2.76" height="2.76" fill="#111" stroke="none" stroke-width="0.8" rx="0" />
<line x1="400.50" y1="478.09" x2="400.50" y2="484.03" stroke="#111" stroke-width="0.5" stroke-opacity="0.7"/>
<line x1="399.60" y1="478.09" x2="401.40" y2="478.09" stroke="#111" stroke-width="0.5" stroke-opacity="0.7"/>
<line x1="399.60" y1="484.03" x2="401.40" y2="484.03" stroke="#111" stroke-width="0.5" stroke-opacity="0.7"/>
<rect x="399.12" y="479.68" width="2.76" height="2.76" fill="#111" stroke="none" stroke-width="0.8" rx="0" />
<line x1="432.00" y1="465.03" x2="432.00" y2="473.34" stroke="#111" stroke-width="0.5" stroke-opacity="0.7"/>
<line x1="431.10" y1="465.03" x2="432.90" y2="465.03" stroke="#111" stroke-width="0.5" stroke-opacity="0.7"/>
<line x1="431.10" y1="473.34" x2="432.90" y2="473.34" stroke="#111" stroke-width="0.5" stroke-opacity="0.7"/>
<rect x="430.62" y="467.80" width="2.76" height="2.76" fill="#111" stroke="none" stroke-width="0.8" rx="0" />
<line x1="351.00" y1="534.52" x2="351.00" y2="535.71" stroke="#111" stroke-width="0.5" stroke-opacity="0.7"/>
<line x1="350.10" y1="534.52" x2="351.90" y2="534.52" stroke="#111" stroke-width="0.5" stroke-opacity="0.7"/>
<line x1="350.10" y1="535.71" x2="351.90" y2="535.71" stroke="#111" stroke-width="0.5" stroke-opacity="0.7"/>
<circle cx="351.00" cy="535.12" r="1.49" fill="#111"/>
<line x1="369.00" y1="529.77" x2="369.00" y2="530.96" stroke="#111" stroke-width="0.5" stroke-opacity="0.7"/>
<line x1="368.10" y1="529.77" x2="369.90" y2="529.77" stroke="#111" stroke-width="0.5" stroke-opacity="0.7"/>
<line x1="368.10" y1="530.96" x2="369.90" y2="530.96" stroke="#111" stroke-width="0.5" stroke-opacity="0.7"/>
<circle cx="369.00" cy="530.37" r="1.49" fill="#111"/>
<line x1="387.00" y1="514.92" x2="387.00" y2="519.67" stroke="#111" stroke-width="0.5" stroke-opacity="0.7"/>
<line x1="386.10" y1="514.92" x2="387.90" y2="514.92" stroke="#111" stroke-width="0.5" stroke-opacity="0.7"/>
<line x1="386.10" y1="519.67" x2="387.90" y2="519.67" stroke="#111" stroke-width="0.5" stroke-opacity="0.7"/>
<circle cx="387.00" cy="517.30" r="1.49" fill="#111"/>
<line x1="400.50" y1="481.06" x2="400.50" y2="485.82" stroke="#111" stroke-width="0.5" stroke-opacity="0.7"/>
<line x1="399.60" y1="481.06" x2="401.40" y2="481.06" stroke="#111" stroke-width="0.5" stroke-opacity="0.7"/>
<line x1="399.60" y1="485.82" x2="401.40" y2="485.82" stroke="#111" stroke-width="0.5" stroke-opacity="0.7"/>
<circle cx="400.50" cy="483.44" r="1.49" fill="#111"/>
<line x1="432.00" y1="472.75" x2="432.00" y2="478.69" stroke="#111" stroke-width="0.5" stroke-opacity="0.7"/>
<line x1="431.10" y1="472.75" x2="432.90" y2="472.75" stroke="#111" stroke-width="0.5" stroke-opacity="0.7"/>
<line x1="431.10" y1="478.69" x2="432.90" y2="478.69" stroke="#111" stroke-width="0.5" stroke-opacity="0.7"/>
<circle cx="432.00" cy="475.72" r="1.49" fill="#111"/>
<line x1="347.70" y1="460.40" x2="347.70" y2="541.30" stroke="#222" stroke-width="0.9" />
<line x1="347.70" y1="541.30" x2="437.00" y2="541.30" stroke="#222" stroke-width="0.9" />
<line x1="346.40" y1="536.90" x2="347.70" y2="536.90" stroke="#222" stroke-width="0.6" />
<text x="345.40" y="539.20" font-size="6.2" font-weight="normal" font-style="normal" fill="#333" text-anchor="end"  stroke="#333" stroke-width="0.12">0.0</text>
<line x1="346.40" y1="513.14" x2="347.70" y2="513.14" stroke="#222" stroke-width="0.6" />
<text x="345.40" y="515.44" font-size="6.2" font-weight="normal" font-style="normal" fill="#333" text-anchor="end"  stroke="#333" stroke-width="0.12">0.4</text>
<line x1="346.40" y1="489.38" x2="347.70" y2="489.38" stroke="#222" stroke-width="0.6" />
<text x="345.40" y="491.68" font-size="6.2" font-weight="normal" font-style="normal" fill="#333" text-anchor="end"  stroke="#333" stroke-width="0.12">0.8</text>
<line x1="346.40" y1="465.62" x2="347.70" y2="465.62" stroke="#222" stroke-width="0.6" />
<text x="345.40" y="467.92" font-size="6.2" font-weight="normal" font-style="normal" fill="#333" text-anchor="end"  stroke="#333" stroke-width="0.12">1.2</text>
<line x1="351.00" y1="541.30" x2="351.00" y2="542.60" stroke="#222" stroke-width="0.6" />
<text x="351.00" y="547.50" font-size="6.2" font-weight="normal" font-style="normal" fill="#333" text-anchor="middle"  stroke="#333" stroke-width="0.12">10</text>
<line x1="373.50" y1="541.30" x2="373.50" y2="542.60" stroke="#222" stroke-width="0.6" />
<text x="373.50" y="547.50" font-size="6.2" font-weight="normal" font-style="normal" fill="#333" text-anchor="middle"  stroke="#333" stroke-width="0.12">15</text>
<line x1="396.00" y1="541.30" x2="396.00" y2="542.60" stroke="#222" stroke-width="0.6" />
<text x="396.00" y="547.50" font-size="6.2" font-weight="normal" font-style="normal" fill="#333" text-anchor="middle"  stroke="#333" stroke-width="0.12">20</text>
<line x1="418.50" y1="541.30" x2="418.50" y2="542.60" stroke="#222" stroke-width="0.6" />
<text x="418.50" y="547.50" font-size="6.2" font-weight="normal" font-style="normal" fill="#333" text-anchor="middle"  stroke="#333" stroke-width="0.12">25</text>
<line x1="441.00" y1="541.30" x2="441.00" y2="542.60" stroke="#222" stroke-width="0.6" />
<text x="437.00" y="547.50" font-size="6.2" font-weight="normal" font-style="normal" fill="#333" text-anchor="middle"  stroke="#333" stroke-width="0.12">30</text>
<text x="392.0" y="454.3" font-size="8.4" font-weight="bold" fill="#222" text-anchor="middle" textLength="60" lengthAdjust="spacingAndGlyphs" stroke="#222" stroke-width="0.0">Synapsin counts</text>
<text x="0.00" y="0.00" font-size="8.5" font-weight="bold" font-style="normal" fill="#222" text-anchor="start"  stroke="#222" stroke-width="0.0"></text>
<text font-size="7.0" fill="#222" text-anchor="middle" transform="translate(332.6,500.4) rotate(-90)" textLength="84" lengthAdjust="spacingAndGlyphs" stroke="#222" stroke-width="0.12"># synapsin puncta/10 μM</text>
<text x="351" y="466.5" font-size="4.8" fill="#222" stroke="#222" stroke-width="0.12"><tspan font-style="italic">p</tspan> = 9.7x10<tspan font-size="3.2" dy="-1.8">-6</tspan></text>
<text x="386.26" y="500.02" font-size="9" font-weight="normal" font-style="normal" fill="#222" text-anchor="middle"  stroke="#222" stroke-width="0.12">*</text>
<text x="390.36" y="500.02" font-size="9" font-weight="normal" font-style="normal" fill="#222" text-anchor="middle"  stroke="#222" stroke-width="0.12">*</text>
<text x="397.06" y="477.42" font-size="9" font-weight="normal" font-style="normal" fill="#222" text-anchor="middle"  stroke="#222" stroke-width="0.12">*</text>
<text x="401.51" y="477.42" font-size="9" font-weight="normal" font-style="normal" fill="#222" text-anchor="middle"  stroke="#222" stroke-width="0.12">*</text>
<text x="405.96" y="477.42" font-size="9" font-weight="normal" font-style="normal" fill="#222" text-anchor="middle"  stroke="#222" stroke-width="0.12">*</text>
<text x="430.71" y="463.72" font-size="9" font-weight="normal" font-style="normal" fill="#222" text-anchor="middle"  stroke="#222" stroke-width="0.12">*</text>
<text x="434.81" y="463.72" font-size="9" font-weight="normal" font-style="normal" fill="#222" text-anchor="middle"  stroke="#222" stroke-width="0.12">*</text>
<text x="393.80" y="556.20" font-size="6.8" font-weight="normal" font-style="normal" fill="#222" text-anchor="middle"  stroke="#222" stroke-width="0.12">DIV</text>
<text x="457.00" y="467.00" font-size="7.6" font-weight="bold" font-style="normal" fill="#222" text-anchor="start" textLength="14.5" lengthAdjust="spacingAndGlyphs"  stroke="#222" stroke-width="0.0">Line</text>
<rect x="457.74" y="474.74" width="3.12" height="3.12" fill="#111" stroke="none" stroke-width="0.8" rx="0" />
<text x="466.00" y="478.60" font-size="6.6" font-weight="normal" font-style="normal" fill="#222" text-anchor="start" textLength="8" lengthAdjust="spacingAndGlyphs"  stroke="#222" stroke-width="0.12">C2</text>
<circle cx="459.30" cy="488.40" r="1.69" fill="#111"/>
<text x="466.00" y="490.70" font-size="6.6" font-weight="normal" font-style="normal" fill="#222" text-anchor="start" textLength="8" lengthAdjust="spacingAndGlyphs"  stroke="#222" stroke-width="0.12">C4</text>
<circle cx="459.30" cy="500.50" r="1.69" fill="#a62b2b"/>
<text x="466.0" y="502.80" font-size="6.6" fill="#222" stroke="#222" stroke-width="0.12"><tspan font-style="italic" textLength="22" lengthAdjust="spacingAndGlyphs">KANSL1</tspan><tspan font-size="4.0" dy="-2.6">+/-</tspan><tspan dy="2.6" dx="0.6" textLength="10" lengthAdjust="spacingAndGlyphs">-C4</tspan></text>
<line x1="457.09" y1="512.60" x2="461.51" y2="512.60" stroke="#a62b2b" stroke-width="0.6" />
<line x1="459.30" y1="510.39" x2="459.30" y2="514.81" stroke="#a62b2b" stroke-width="0.6" />
<text x="466.00" y="514.90" font-size="6.6" font-weight="normal" font-style="normal" fill="#222" text-anchor="start" textLength="17" lengthAdjust="spacingAndGlyphs"  stroke="#222" stroke-width="0.12">KdVS1</text>
<line x1="457.35" y1="524.70" x2="461.25" y2="524.70" stroke="#a62b2b" stroke-width="0.6" />
<line x1="459.30" y1="522.75" x2="459.30" y2="526.65" stroke="#a62b2b" stroke-width="0.6" />
<line x1="457.87" y1="523.27" x2="460.73" y2="526.13" stroke="#a62b2b" stroke-width="0.6" />
<line x1="457.87" y1="526.13" x2="460.73" y2="523.27" stroke="#a62b2b" stroke-width="0.6" />
<text x="466.00" y="527.00" font-size="6.6" font-weight="normal" font-style="normal" fill="#222" text-anchor="start" textLength="17" lengthAdjust="spacingAndGlyphs"  stroke="#222" stroke-width="0.12">KdVS2</text>
<polygon points="459.30,534.59 461.51,536.80 459.30,539.01 457.09,536.80" fill="none" stroke="#a62b2b" stroke-width="0.6"/>
<line x1="457.09" y1="536.80" x2="461.51" y2="536.80" stroke="#a62b2b" stroke-width="0.5" />
<line x1="459.30" y1="534.59" x2="459.30" y2="539.01" stroke="#a62b2b" stroke-width="0.5" />
<text x="466.00" y="539.10" font-size="6.6" font-weight="normal" font-style="normal" fill="#222" text-anchor="start" textLength="17" lengthAdjust="spacingAndGlyphs"  stroke="#222" stroke-width="0.12">KdVS3</text>
<defs><filter id="gl" x="-10%" y="-50%" width="120%" height="200%"><feGaussianBlur stdDeviation="0.6"/></filter></defs>
<rect x="285.30" y="589.70" width="73.00" height="8.10" fill="#fff" stroke="#333" stroke-width="0.9" rx="0" />
<line x1="285.80" y1="598.40" x2="357.80" y2="598.40" stroke="#9a9a9a" stroke-width="1.0" />
<text x="321.80" y="596.40" font-size="8.3" font-weight="normal" font-style="normal" fill="#222" text-anchor="middle" textLength="24.5" lengthAdjust="spacingAndGlyphs"  stroke="#222" stroke-width="0.12">DIV14</text>
<svg x="285.30" y="599.20" width="73.00" height="16.40" viewBox="285.30 599.20 73.00 16.40">
<rect x="285.30" y="599.20" width="73.00" height="16.40" fill="#070302" stroke="none" stroke-width="0.8" rx="0" />
<line x1="342.67" y1="608.24" x2="334.99" y2="604.93" stroke="#5a1c10" stroke-width="0.5" stroke-opacity="0.7"/>
<line x1="308.56" y1="605.60" x2="317.60" y2="597.41" stroke="#5a1c10" stroke-width="0.5" stroke-opacity="0.7"/>
<line x1="312.57" y1="612.18" x2="320.33" y2="614.26" stroke="#5a1c10" stroke-width="0.5" stroke-opacity="0.7"/>
<polyline points="353.19,615.60 358.30,600.50" fill="none" stroke="#3cc23c" stroke-width="0.9" stroke-opacity="0.8"/>
<polyline points="288.95,599.20 292.60,615.60" fill="none" stroke="#3cc23c" stroke-width="0.6" stroke-opacity="0.35"/>
<polyline points="285.30,610.00 327.64,607.00 358.30,603.80" fill="none" stroke="#2fae2f" stroke-width="1.90" stroke-opacity="0.5" filter="url(#gl)"/>
<polyline points="285.30,610.00 327.64,607.00 358.30,603.80" fill="none" stroke="#4fd63f" stroke-width="1.00"/>
<circle cx="294.84" cy="609.02" r="0.99" fill="#ff3b1f" fill-opacity="0.8"/>
<circle cx="336.92" cy="605.28" r="0.62" fill="#ff3b1f" fill-opacity="0.8"/>
<circle cx="310.08" cy="607.92" r="0.60" fill="#ff3b1f" fill-opacity="0.8"/>
<circle cx="298.84" cy="605.64" r="0.55" fill="#ff3b1f" fill-opacity="0.8"/>
<circle cx="319.00" cy="612.52" r="0.64" fill="#ff3b1f" fill-opacity="0.8"/>
</svg>
<rect x="285.30" y="599.20" width="73.00" height="16.40" fill="none" stroke="#444" stroke-width="0.6" rx="0" />
<text x="286.30" y="605.20" font-size="7.0" font-weight="normal" font-style="normal" fill="#d0d0d0" text-anchor="start" textLength="9.5" lengthAdjust="spacingAndGlyphs"  stroke="#d0d0d0" stroke-width="0.12">C2</text>
<svg x="285.30" y="618.50" width="73.00" height="16.30" viewBox="285.30 618.50 73.00 16.30">
<rect x="285.30" y="618.50" width="73.00" height="16.30" fill="#070302" stroke="none" stroke-width="0.8" rx="0" />
<line x1="344.52" y1="622.87" x2="353.53" y2="621.71" stroke="#5a1c10" stroke-width="0.5" stroke-opacity="0.7"/>
<line x1="334.27" y1="634.38" x2="325.49" y2="637.00" stroke="#5a1c10" stroke-width="0.5" stroke-opacity="0.7"/>
<line x1="291.37" y1="626.08" x2="281.21" y2="631.41" stroke="#5a1c10" stroke-width="0.5" stroke-opacity="0.7"/>
<polyline points="307.20,618.50 318.15,634.80" fill="none" stroke="#3cc23c" stroke-width="0.5" stroke-opacity="0.25"/>
<polyline points="285.30,630.40 318.15,626.50 358.30,620.70" fill="none" stroke="#2fae2f" stroke-width="1.90" stroke-opacity="0.5" filter="url(#gl)"/>
<polyline points="285.30,630.40 318.15,626.50 358.30,620.70" fill="none" stroke="#4fd63f" stroke-width="1.00"/>
<circle cx="293.12" cy="626.19" r="0.95" fill="#ff3b1f" fill-opacity="0.8"/>
<circle cx="341.48" cy="623.07" r="0.77" fill="#ff3b1f" fill-opacity="0.8"/>
<circle cx="304.16" cy="627.37" r="0.62" fill="#ff3b1f" fill-opacity="0.8"/>
<circle cx="332.64" cy="625.20" r="0.89" fill="#ff3b1f" fill-opacity="0.8"/>
<circle cx="293.85" cy="628.37" r="0.74" fill="#ff3b1f" fill-opacity="0.8"/>
</svg>
<rect x="285.30" y="618.50" width="73.00" height="16.30" fill="none" stroke="#444" stroke-width="0.6" rx="0" />
<text x="286.30" y="624.50" font-size="7.0" font-weight="normal" font-style="normal" fill="#d0d0d0" text-anchor="start" textLength="9.5" lengthAdjust="spacingAndGlyphs"  stroke="#d0d0d0" stroke-width="0.12">C3</text>
<svg x="285.30" y="637.80" width="73.00" height="16.70" viewBox="285.30 637.80 73.00 16.70">
<rect x="285.30" y="637.80" width="73.00" height="16.70" fill="#070302" stroke="none" stroke-width="0.8" rx="0" />
<line x1="354.74" y1="653.43" x2="362.45" y2="659.08" stroke="#5a1c10" stroke-width="0.5" stroke-opacity="0.7"/>
<line x1="335.23" y1="650.46" x2="329.37" y2="659.61" stroke="#5a1c10" stroke-width="0.5" stroke-opacity="0.7"/>
<line x1="342.64" y1="651.75" x2="328.54" y2="646.60" stroke="#5a1c10" stroke-width="0.5" stroke-opacity="0.7"/>
<polyline points="288.95,654.50 314.50,650.50" fill="none" stroke="#3cc23c" stroke-width="0.6" stroke-opacity="0.35"/>
<polyline points="285.30,649.80 299.90,646.50 358.30,645.30" fill="none" stroke="#2fae2f" stroke-width="2.10" stroke-opacity="0.5" filter="url(#gl)"/>
<polyline points="285.30,649.80 299.90,646.50 358.30,645.30" fill="none" stroke="#4fd63f" stroke-width="1.20"/>
<circle cx="308.41" cy="647.16" r="0.85" fill="#ff3b1f" fill-opacity="0.8"/>
<circle cx="322.29" cy="645.97" r="0.79" fill="#ff3b1f" fill-opacity="0.8"/>
<circle cx="348.44" cy="646.25" r="0.91" fill="#ff3b1f" fill-opacity="0.8"/>
<circle cx="288.95" cy="648.50" r="0.60" fill="#ff3b1f" fill-opacity="0.8"/>
<circle cx="355.97" cy="646.12" r="0.58" fill="#ff3b1f" fill-opacity="0.8"/>
</svg>
<rect x="285.30" y="637.80" width="73.00" height="16.70" fill="none" stroke="#444" stroke-width="0.6" rx="0" />
<text x="286.30" y="643.80" font-size="7.0" font-weight="normal" font-style="normal" fill="#d0d0d0" text-anchor="start" textLength="27" lengthAdjust="spacingAndGlyphs"  stroke="#d0d0d0" stroke-width="0.12">CRISPR</text>
<svg x="285.30" y="657.20" width="73.00" height="16.30" viewBox="285.30 657.20 73.00 16.30">
<rect x="285.30" y="657.20" width="73.00" height="16.30" fill="#070302" stroke="none" stroke-width="0.8" rx="0" />
<line x1="313.78" y1="660.53" x2="310.23" y2="659.71" stroke="#5a1c10" stroke-width="0.5" stroke-opacity="0.7"/>
<line x1="357.80" y1="664.30" x2="344.77" y2="661.54" stroke="#5a1c10" stroke-width="0.5" stroke-opacity="0.7"/>
<line x1="319.48" y1="662.32" x2="307.39" y2="672.08" stroke="#5a1c10" stroke-width="0.5" stroke-opacity="0.7"/>
<polyline points="325.45,657.20 332.75,673.50" fill="none" stroke="#3cc23c" stroke-width="0.5" stroke-opacity="0.35"/>
<polyline points="285.30,664.90 358.30,665.60" fill="none" stroke="#2fae2f" stroke-width="2.00" stroke-opacity="0.5" filter="url(#gl)"/>
<polyline points="285.30,664.90 358.30,665.60" fill="none" stroke="#4fd63f" stroke-width="1.10"/>
<circle cx="290.98" cy="665.46" r="0.92" fill="#ff3b1f" fill-opacity="0.8"/>
<circle cx="334.87" cy="658.61" r="0.85" fill="#ff3b1f" fill-opacity="0.8"/>
<circle cx="296.58" cy="664.26" r="0.56" fill="#ff3b1f" fill-opacity="0.8"/>
<circle cx="355.52" cy="666.03" r="0.91" fill="#ff3b1f" fill-opacity="0.8"/>
<circle cx="358.27" cy="664.78" r="0.93" fill="#ff3b1f" fill-opacity="0.8"/>
</svg>
<rect x="285.30" y="657.20" width="73.00" height="16.30" fill="none" stroke="#444" stroke-width="0.6" rx="0" />
<text x="286.30" y="663.20" font-size="7.0" font-weight="normal" font-style="normal" fill="#d0d0d0" text-anchor="start" textLength="22" lengthAdjust="spacingAndGlyphs"  stroke="#d0d0d0" stroke-width="0.12">KdVS2</text>
<rect x="361.10" y="589.70" width="72.90" height="8.10" fill="#fff" stroke="#333" stroke-width="0.9" rx="0" />
<line x1="361.60" y1="598.40" x2="433.50" y2="598.40" stroke="#9a9a9a" stroke-width="1.0" />
<text x="397.55" y="596.40" font-size="8.3" font-weight="normal" font-style="normal" fill="#222" text-anchor="middle" textLength="24.5" lengthAdjust="spacingAndGlyphs"  stroke="#222" stroke-width="0.12">DIV21</text>
<svg x="361.10" y="599.20" width="72.90" height="16.40" viewBox="361.10 599.20 72.90 16.40">
<rect x="361.10" y="599.20" width="72.90" height="16.40" fill="#070302" stroke="none" stroke-width="0.8" rx="0" />
<line x1="398.70" y1="603.73" x2="407.32" y2="596.92" stroke="#5a1c10" stroke-width="0.5" stroke-opacity="0.7"/>
<line x1="433.00" y1="603.35" x2="442.38" y2="606.70" stroke="#5a1c10" stroke-width="0.5" stroke-opacity="0.7"/>
<line x1="406.68" y1="610.51" x2="393.04" y2="602.07" stroke="#5a1c10" stroke-width="0.5" stroke-opacity="0.7"/>
<line x1="409.42" y1="609.09" x2="400.89" y2="616.63" stroke="#5a1c10" stroke-width="0.5" stroke-opacity="0.7"/>
<line x1="423.64" y1="612.19" x2="412.40" y2="619.41" stroke="#5a1c10" stroke-width="0.5" stroke-opacity="0.7"/>
<line x1="389.48" y1="612.45" x2="397.12" y2="614.91" stroke="#5a1c10" stroke-width="0.5" stroke-opacity="0.7"/>
<line x1="402.59" y1="607.63" x2="403.33" y2="609.05" stroke="#5a1c10" stroke-width="0.5" stroke-opacity="0.7"/>
<polyline points="425.25,599.20 434.00,602.50" fill="none" stroke="#3cc23c" stroke-width="0.8" stroke-opacity="0.6"/>
<polyline points="361.10,602.20 382.97,603.80 404.84,605.00 434.00,606.10" fill="none" stroke="#2fae2f" stroke-width="1.80" stroke-opacity="0.5" filter="url(#gl)"/>
<polyline points="361.10,602.20 382.97,603.80 404.84,605.00 434.00,606.10" fill="none" stroke="#4fd63f" stroke-width="0.90"/>
<circle cx="432.70" cy="605.02" r="0.97" fill="#ff3b1f" fill-opacity="0.8"/>
<circle cx="414.56" cy="606.23" r="0.86" fill="#ff3b1f" fill-opacity="0.8"/>
<circle cx="401.46" cy="604.45" r="0.95" fill="#ff3b1f" fill-opacity="0.8"/>
<circle cx="370.94" cy="603.70" r="0.77" fill="#ff3b1f" fill-opacity="0.8"/>
<circle cx="378.26" cy="603.65" r="0.74" fill="#ff3b1f" fill-opacity="0.8"/>
<circle cx="414.57" cy="606.10" r="0.57" fill="#ff3b1f" fill-opacity="0.8"/>
<circle cx="428.04" cy="605.44" r="0.69" fill="#ff3b1f" fill-opacity="0.8"/>
<circle cx="411.64" cy="605.05" r="0.89" fill="#ff3b1f" fill-opacity="0.8"/>
<circle cx="418.54" cy="605.75" r="0.76" fill="#ff3b1f" fill-opacity="0.8"/>
<circle cx="409.56" cy="603.58" r="0.63" fill="#ff3b1f" fill-opacity="0.8"/>
<circle cx="389.58" cy="603.72" r="0.70" fill="#ff3b1f" fill-opacity="0.8"/>
<circle cx="428.45" cy="605.41" r="0.73" fill="#ff3b1f" fill-opacity="0.8"/>
<circle cx="376.72" cy="603.35" r="0.62" fill="#ff3b1f" fill-opacity="0.8"/>
</svg>
<rect x="361.10" y="599.20" width="72.90" height="16.40" fill="none" stroke="#444" stroke-width="0.6" rx="0" />
<text x="362.10" y="605.20" font-size="7.0" font-weight="normal" font-style="normal" fill="#d0d0d0" text-anchor="start" textLength="9.5" lengthAdjust="spacingAndGlyphs"  stroke="#d0d0d0" stroke-width="0.12">C2</text>
<svg x="361.10" y="618.50" width="72.90" height="16.30" viewBox="361.10 618.50 72.90 16.30">
<rect x="361.10" y="618.50" width="72.90" height="16.30" fill="#070302" stroke="none" stroke-width="0.8" rx="0" />
<line x1="430.02" y1="619.05" x2="436.90" y2="624.39" stroke="#5a1c10" stroke-width="0.5" stroke-opacity="0.7"/>
<line x1="429.09" y1="628.60" x2="431.38" y2="623.60" stroke="#5a1c10" stroke-width="0.5" stroke-opacity="0.7"/>
<line x1="425.69" y1="630.12" x2="414.21" y2="631.42" stroke="#5a1c10" stroke-width="0.5" stroke-opacity="0.7"/>
<line x1="402.61" y1="632.87" x2="393.54" y2="630.64" stroke="#5a1c10" stroke-width="0.5" stroke-opacity="0.7"/>
<line x1="423.95" y1="634.25" x2="411.99" y2="640.65" stroke="#5a1c10" stroke-width="0.5" stroke-opacity="0.7"/>
<line x1="367.93" y1="623.72" x2="377.70" y2="626.24" stroke="#5a1c10" stroke-width="0.5" stroke-opacity="0.7"/>
<line x1="368.85" y1="627.03" x2="363.72" y2="617.12" stroke="#5a1c10" stroke-width="0.5" stroke-opacity="0.7"/>
<polyline points="372.04,618.50 404.84,634.80" fill="none" stroke="#3cc23c" stroke-width="0.5" stroke-opacity="0.3"/>
<polyline points="401.19,618.50 397.55,634.80" fill="none" stroke="#3cc23c" stroke-width="0.5" stroke-opacity="0.3"/>
<polyline points="361.10,628.00 434.00,626.50" fill="none" stroke="#2fae2f" stroke-width="2.10" stroke-opacity="0.5" filter="url(#gl)"/>
<polyline points="361.10,628.00 434.00,626.50" fill="none" stroke="#4fd63f" stroke-width="1.20"/>
<circle cx="380.18" cy="627.61" r="0.70" fill="#ff3b1f" fill-opacity="0.8"/>
<circle cx="361.81" cy="627.98" r="0.92" fill="#ff3b1f" fill-opacity="0.8"/>
<circle cx="367.36" cy="627.31" r="0.74" fill="#ff3b1f" fill-opacity="0.8"/>
<circle cx="391.84" cy="627.08" r="0.89" fill="#ff3b1f" fill-opacity="0.8"/>
<circle cx="409.03" cy="626.96" r="0.79" fill="#ff3b1f" fill-opacity="0.8"/>
<circle cx="368.95" cy="626.78" r="0.64" fill="#ff3b1f" fill-opacity="0.8"/>
<circle cx="365.74" cy="627.91" r="0.61" fill="#ff3b1f" fill-opacity="0.8"/>
<circle cx="419.66" cy="624.84" r="0.87" fill="#ff3b1f" fill-opacity="0.8"/>
<circle cx="427.60" cy="625.56" r="0.69" fill="#ff3b1f" fill-opacity="0.8"/>
<circle cx="380.38" cy="626.66" r="1.00" fill="#ff3b1f" fill-opacity="0.8"/>
<circle cx="367.74" cy="627.33" r="0.56" fill="#ff3b1f" fill-opacity="0.8"/>
<circle cx="428.39" cy="626.50" r="0.74" fill="#ff3b1f" fill-opacity="0.8"/>
<circle cx="362.13" cy="627.66" r="0.79" fill="#ff3b1f" fill-opacity="0.8"/>
</svg>
<rect x="361.10" y="618.50" width="72.90" height="16.30" fill="none" stroke="#444" stroke-width="0.6" rx="0" />
<text x="362.10" y="624.50" font-size="7.0" font-weight="normal" font-style="normal" fill="#d0d0d0" text-anchor="start" textLength="9.5" lengthAdjust="spacingAndGlyphs"  stroke="#d0d0d0" stroke-width="0.12">C3</text>
<svg x="361.10" y="637.80" width="72.90" height="16.70" viewBox="361.10 637.80 72.90 16.70">
<rect x="361.10" y="637.80" width="72.90" height="16.70" fill="#070302" stroke="none" stroke-width="0.8" rx="0" />
<line x1="378.25" y1="638.84" x2="390.40" y2="636.21" stroke="#5a1c10" stroke-width="0.5" stroke-opacity="0.7"/>
<line x1="381.54" y1="646.18" x2="395.35" y2="652.73" stroke="#5a1c10" stroke-width="0.5" stroke-opacity="0.7"/>
<line x1="394.33" y1="639.30" x2="381.05" y2="647.50" stroke="#5a1c10" stroke-width="0.5" stroke-opacity="0.7"/>
<line x1="391.88" y1="646.62" x2="381.42" y2="648.24" stroke="#5a1c10" stroke-width="0.5" stroke-opacity="0.7"/>
<line x1="421.51" y1="650.77" x2="435.23" y2="647.62" stroke="#5a1c10" stroke-width="0.5" stroke-opacity="0.7"/>
<line x1="385.57" y1="649.35" x2="377.45" y2="645.27" stroke="#5a1c10" stroke-width="0.5" stroke-opacity="0.7"/>
<line x1="392.19" y1="653.62" x2="405.72" y2="650.18" stroke="#5a1c10" stroke-width="0.5" stroke-opacity="0.7"/>
<polyline points="415.05,637.80 406.30,654.50" fill="none" stroke="#3cc23c" stroke-width="1.3" stroke-opacity="0.9"/>
<polyline points="362.56,641.00 368.39,654.50" fill="none" stroke="#3cc23c" stroke-width="0.9" stroke-opacity="0.6"/>
<polyline points="361.10,652.30 390.26,648.40 434.00,646.10" fill="none" stroke="#2fae2f" stroke-width="2.40" stroke-opacity="0.5" filter="url(#gl)"/>
<polyline points="361.10,652.30 390.26,648.40 434.00,646.10" fill="none" stroke="#4fd63f" stroke-width="1.50"/>
<circle cx="417.60" cy="646.34" r="0.69" fill="#ff3b1f" fill-opacity="0.8"/>
<circle cx="431.76" cy="644.11" r="0.89" fill="#ff3b1f" fill-opacity="0.8"/>
<circle cx="367.25" cy="638.13" r="0.70" fill="#ff3b1f" fill-opacity="0.8"/>
<circle cx="406.98" cy="646.64" r="0.94" fill="#ff3b1f" fill-opacity="0.8"/>
<circle cx="429.75" cy="645.73" r="0.76" fill="#ff3b1f" fill-opacity="0.8"/>
<circle cx="365.15" cy="650.86" r="0.86" fill="#ff3b1f" fill-opacity="0.8"/>
<circle cx="374.94" cy="650.88" r="0.78" fill="#ff3b1f" fill-opacity="0.8"/>
<circle cx="398.36" cy="647.71" r="0.88" fill="#ff3b1f" fill-opacity="0.8"/>
<circle cx="368.21" cy="651.66" r="0.62" fill="#ff3b1f" fill-opacity="0.8"/>
<circle cx="392.90" cy="647.92" r="0.91" fill="#ff3b1f" fill-opacity="0.8"/>
<circle cx="375.83" cy="651.38" r="0.94" fill="#ff3b1f" fill-opacity="0.8"/>
<circle cx="379.00" cy="649.14" r="0.99" fill="#ff3b1f" fill-opacity="0.8"/>
<circle cx="381.98" cy="639.29" r="1.00" fill="#ff3b1f" fill-opacity="0.8"/>
</svg>
<rect x="361.10" y="637.80" width="72.90" height="16.70" fill="none" stroke="#444" stroke-width="0.6" rx="0" />
<text x="362.10" y="643.80" font-size="7.0" font-weight="normal" font-style="normal" fill="#d0d0d0" text-anchor="start" textLength="27" lengthAdjust="spacingAndGlyphs"  stroke="#d0d0d0" stroke-width="0.12">CRISPR</text>
<svg x="361.10" y="657.20" width="72.90" height="16.30" viewBox="361.10 657.20 72.90 16.30">
<rect x="361.10" y="657.20" width="72.90" height="16.30" fill="#070302" stroke="none" stroke-width="0.8" rx="0" />
<line x1="425.42" y1="661.99" x2="420.61" y2="670.13" stroke="#5a1c10" stroke-width="0.5" stroke-opacity="0.7"/>
<line x1="387.15" y1="665.05" x2="398.66" y2="672.90" stroke="#5a1c10" stroke-width="0.5" stroke-opacity="0.7"/>
<line x1="378.44" y1="669.72" x2="374.29" y2="676.49" stroke="#5a1c10" stroke-width="0.5" stroke-opacity="0.7"/>
<line x1="422.30" y1="671.32" x2="419.44" y2="679.02" stroke="#5a1c10" stroke-width="0.5" stroke-opacity="0.7"/>
<line x1="429.29" y1="665.79" x2="417.21" y2="672.27" stroke="#5a1c10" stroke-width="0.5" stroke-opacity="0.7"/>
<line x1="405.82" y1="662.35" x2="394.23" y2="654.66" stroke="#5a1c10" stroke-width="0.5" stroke-opacity="0.7"/>
<line x1="388.26" y1="657.93" x2="398.91" y2="649.99" stroke="#5a1c10" stroke-width="0.5" stroke-opacity="0.7"/>
<polyline points="412.13,657.20 434.00,671.00" fill="none" stroke="#3cc23c" stroke-width="0.6" stroke-opacity="0.4"/>
<polyline points="361.10,665.60 397.55,667.20 434.00,668.80" fill="none" stroke="#2fae2f" stroke-width="2.40" stroke-opacity="0.5" filter="url(#gl)"/>
<polyline points="361.10,665.60 397.55,667.20 434.00,668.80" fill="none" stroke="#4fd63f" stroke-width="1.50"/>
<circle cx="397.87" cy="667.79" r="0.98" fill="#ff3b1f" fill-opacity="0.8"/>
<circle cx="404.34" cy="665.17" r="0.76" fill="#ff3b1f" fill-opacity="0.8"/>
<circle cx="365.65" cy="664.96" r="0.89" fill="#ff3b1f" fill-opacity="0.8"/>
<circle cx="364.89" cy="662.46" r="0.88" fill="#ff3b1f" fill-opacity="0.8"/>
<circle cx="407.99" cy="667.49" r="0.58" fill="#ff3b1f" fill-opacity="0.8"/>
<circle cx="405.81" cy="667.37" r="0.75" fill="#ff3b1f" fill-opacity="0.8"/>
<circle cx="425.16" cy="662.32" r="0.56" fill="#ff3b1f" fill-opacity="0.8"/>
<circle cx="375.71" cy="666.85" r="0.75" fill="#ff3b1f" fill-opacity="0.8"/>
<circle cx="413.85" cy="667.48" r="0.57" fill="#ff3b1f" fill-opacity="0.8"/>
<circle cx="425.20" cy="664.80" r="0.98" fill="#ff3b1f" fill-opacity="0.8"/>
<circle cx="375.02" cy="670.45" r="0.93" fill="#ff3b1f" fill-opacity="0.8"/>
<circle cx="381.75" cy="666.41" r="0.71" fill="#ff3b1f" fill-opacity="0.8"/>
<circle cx="423.76" cy="670.90" r="0.56" fill="#ff3b1f" fill-opacity="0.8"/>
</svg>
<rect x="361.10" y="657.20" width="72.90" height="16.30" fill="none" stroke="#444" stroke-width="0.6" rx="0" />
<text x="362.10" y="663.20" font-size="7.0" font-weight="normal" font-style="normal" fill="#d0d0d0" text-anchor="start" textLength="22" lengthAdjust="spacingAndGlyphs"  stroke="#d0d0d0" stroke-width="0.12">KdVS2</text>
<rect x="437.60" y="589.70" width="72.00" height="8.10" fill="#fff" stroke="#333" stroke-width="0.9" rx="0" />
<line x1="438.10" y1="598.40" x2="509.10" y2="598.40" stroke="#9a9a9a" stroke-width="1.0" />
<text x="473.60" y="596.40" font-size="8.3" font-weight="normal" font-style="normal" fill="#222" text-anchor="middle" textLength="24.5" lengthAdjust="spacingAndGlyphs"  stroke="#222" stroke-width="0.12">DIV28</text>
<svg x="437.60" y="599.20" width="72.00" height="16.40" viewBox="437.60 599.20 72.00 16.40">
<rect x="437.60" y="599.20" width="72.00" height="16.40" fill="#070302" stroke="none" stroke-width="0.8" rx="0" />
<line x1="447.49" y1="607.89" x2="456.91" y2="608.18" stroke="#5a1c10" stroke-width="0.5" stroke-opacity="0.7"/>
<line x1="485.16" y1="611.78" x2="476.64" y2="606.91" stroke="#5a1c10" stroke-width="0.5" stroke-opacity="0.7"/>
<line x1="476.59" y1="603.22" x2="475.54" y2="605.24" stroke="#5a1c10" stroke-width="0.5" stroke-opacity="0.7"/>
<line x1="446.34" y1="607.87" x2="448.47" y2="614.79" stroke="#5a1c10" stroke-width="0.5" stroke-opacity="0.7"/>
<line x1="496.52" y1="607.79" x2="500.57" y2="614.45" stroke="#5a1c10" stroke-width="0.5" stroke-opacity="0.7"/>
<line x1="503.17" y1="600.12" x2="496.64" y2="606.65" stroke="#5a1c10" stroke-width="0.5" stroke-opacity="0.7"/>
<line x1="441.34" y1="605.36" x2="454.88" y2="599.50" stroke="#5a1c10" stroke-width="0.5" stroke-opacity="0.7"/>
<polyline points="497.36,599.20 502.40,615.60" fill="none" stroke="#3cc23c" stroke-width="0.9" stroke-opacity="0.7"/>
<polyline points="437.60,607.70 455.60,608.50 477.20,605.30 509.60,604.60" fill="none" stroke="#2fae2f" stroke-width="1.60" stroke-opacity="0.5" filter="url(#gl)"/>
<polyline points="437.60,607.70 455.60,608.50 477.20,605.30 509.60,604.60" fill="none" stroke="#4fd63f" stroke-width="0.70"/>
<circle cx="443.32" cy="608.30" r="0.66" fill="#ff3b1f" fill-opacity="0.8"/>
<circle cx="447.11" cy="611.59" r="0.64" fill="#ff3b1f" fill-opacity="0.8"/>
<circle cx="449.67" cy="611.48" r="0.99" fill="#ff3b1f" fill-opacity="0.8"/>
<circle cx="457.17" cy="608.80" r="0.81" fill="#ff3b1f" fill-opacity="0.8"/>
<circle cx="445.83" cy="608.04" r="0.88" fill="#ff3b1f" fill-opacity="0.8"/>
<circle cx="503.03" cy="604.33" r="0.93" fill="#ff3b1f" fill-opacity="0.8"/>
<circle cx="506.84" cy="604.77" r="0.82" fill="#ff3b1f" fill-opacity="0.8"/>
<circle cx="450.38" cy="608.63" r="0.64" fill="#ff3b1f" fill-opacity="0.8"/>
<circle cx="447.77" cy="600.96" r="0.76" fill="#ff3b1f" fill-opacity="0.8"/>
<circle cx="472.53" cy="605.59" r="0.82" fill="#ff3b1f" fill-opacity="0.8"/>
<circle cx="460.99" cy="607.14" r="0.95" fill="#ff3b1f" fill-opacity="0.8"/>
<circle cx="491.11" cy="601.34" r="0.93" fill="#ff3b1f" fill-opacity="0.8"/>
<circle cx="486.16" cy="604.31" r="0.61" fill="#ff3b1f" fill-opacity="0.8"/>
<circle cx="459.72" cy="612.77" r="0.88" fill="#ff3b1f" fill-opacity="0.8"/>
<circle cx="465.41" cy="607.95" r="0.68" fill="#ff3b1f" fill-opacity="0.8"/>
<circle cx="492.06" cy="604.29" r="0.99" fill="#ff3b1f" fill-opacity="0.8"/>
<circle cx="506.01" cy="604.37" r="0.80" fill="#ff3b1f" fill-opacity="0.8"/>
</svg>
<rect x="437.60" y="599.20" width="72.00" height="16.40" fill="none" stroke="#444" stroke-width="0.6" rx="0" />
<text x="438.60" y="605.20" font-size="7.0" font-weight="normal" font-style="normal" fill="#d0d0d0" text-anchor="start" textLength="9.5" lengthAdjust="spacingAndGlyphs"  stroke="#d0d0d0" stroke-width="0.12">C2</text>
<svg x="437.60" y="618.50" width="72.00" height="16.30" viewBox="437.60 618.50 72.00 16.30">
<rect x="437.60" y="618.50" width="72.00" height="16.30" fill="#070302" stroke="none" stroke-width="0.8" rx="0" />
<line x1="461.42" y1="621.59" x2="475.98" y2="616.47" stroke="#5a1c10" stroke-width="0.5" stroke-opacity="0.7"/>
<line x1="493.36" y1="623.24" x2="505.37" y2="625.49" stroke="#5a1c10" stroke-width="0.5" stroke-opacity="0.7"/>
<line x1="444.09" y1="627.47" x2="433.53" y2="625.62" stroke="#5a1c10" stroke-width="0.5" stroke-opacity="0.7"/>
<line x1="457.08" y1="631.06" x2="457.69" y2="630.80" stroke="#5a1c10" stroke-width="0.5" stroke-opacity="0.7"/>
<line x1="467.79" y1="624.99" x2="473.49" y2="622.86" stroke="#5a1c10" stroke-width="0.5" stroke-opacity="0.7"/>
<line x1="498.09" y1="634.59" x2="499.95" y2="637.06" stroke="#5a1c10" stroke-width="0.5" stroke-opacity="0.7"/>
<line x1="467.40" y1="627.61" x2="473.43" y2="633.85" stroke="#5a1c10" stroke-width="0.5" stroke-opacity="0.7"/>
<polyline points="437.60,626.50 461.36,618.50" fill="none" stroke="#3cc23c" stroke-width="0.8" stroke-opacity="0.6"/>
<polyline points="437.60,628.80 477.20,625.70 509.60,622.60" fill="none" stroke="#2fae2f" stroke-width="1.65" stroke-opacity="0.5" filter="url(#gl)"/>
<polyline points="437.60,628.80 477.20,625.70 509.60,622.60" fill="none" stroke="#4fd63f" stroke-width="0.75"/>
<circle cx="438.79" cy="624.08" r="0.77" fill="#ff3b1f" fill-opacity="0.8"/>
<circle cx="453.07" cy="627.67" r="0.96" fill="#ff3b1f" fill-opacity="0.8"/>
<circle cx="464.86" cy="627.18" r="0.98" fill="#ff3b1f" fill-opacity="0.8"/>
<circle cx="450.48" cy="626.30" r="0.78" fill="#ff3b1f" fill-opacity="0.8"/>
<circle cx="442.61" cy="627.84" r="0.65" fill="#ff3b1f" fill-opacity="0.8"/>
<circle cx="437.85" cy="629.22" r="0.72" fill="#ff3b1f" fill-opacity="0.8"/>
<circle cx="464.71" cy="627.00" r="0.90" fill="#ff3b1f" fill-opacity="0.8"/>
<circle cx="470.05" cy="626.17" r="0.86" fill="#ff3b1f" fill-opacity="0.8"/>
<circle cx="457.20" cy="627.82" r="0.86" fill="#ff3b1f" fill-opacity="0.8"/>
<circle cx="480.06" cy="625.92" r="0.67" fill="#ff3b1f" fill-opacity="0.8"/>
<circle cx="460.96" cy="627.09" r="0.61" fill="#ff3b1f" fill-opacity="0.8"/>
<circle cx="478.44" cy="625.22" r="0.60" fill="#ff3b1f" fill-opacity="0.8"/>
<circle cx="454.14" cy="627.19" r="0.74" fill="#ff3b1f" fill-opacity="0.8"/>
<circle cx="472.33" cy="634.53" r="0.73" fill="#ff3b1f" fill-opacity="0.8"/>
<circle cx="475.71" cy="626.16" r="0.56" fill="#ff3b1f" fill-opacity="0.8"/>
<circle cx="452.01" cy="626.99" r="0.75" fill="#ff3b1f" fill-opacity="0.8"/>
<circle cx="460.24" cy="626.25" r="0.80" fill="#ff3b1f" fill-opacity="0.8"/>
</svg>
<rect x="437.60" y="618.50" width="72.00" height="16.30" fill="none" stroke="#444" stroke-width="0.6" rx="0" />
<text x="438.60" y="624.50" font-size="7.0" font-weight="normal" font-style="normal" fill="#d0d0d0" text-anchor="start" textLength="9.5" lengthAdjust="spacingAndGlyphs"  stroke="#d0d0d0" stroke-width="0.12">C3</text>
<svg x="437.60" y="637.80" width="72.00" height="16.70" viewBox="437.60 637.80 72.00 16.70">
<rect x="437.60" y="637.80" width="72.00" height="16.70" fill="#070302" stroke="none" stroke-width="0.8" rx="0" />
<line x1="457.99" y1="643.77" x2="472.75" y2="646.02" stroke="#5a1c10" stroke-width="0.5" stroke-opacity="0.7"/>
<line x1="460.83" y1="642.99" x2="469.30" y2="638.70" stroke="#5a1c10" stroke-width="0.5" stroke-opacity="0.7"/>
<line x1="460.47" y1="650.17" x2="453.27" y2="650.55" stroke="#5a1c10" stroke-width="0.5" stroke-opacity="0.7"/>
<line x1="475.81" y1="640.22" x2="480.83" y2="649.66" stroke="#5a1c10" stroke-width="0.5" stroke-opacity="0.7"/>
<line x1="495.12" y1="643.59" x2="483.45" y2="650.08" stroke="#5a1c10" stroke-width="0.5" stroke-opacity="0.7"/>
<line x1="456.02" y1="644.22" x2="442.53" y2="649.08" stroke="#5a1c10" stroke-width="0.5" stroke-opacity="0.7"/>
<line x1="478.16" y1="646.06" x2="476.13" y2="649.60" stroke="#5a1c10" stroke-width="0.5" stroke-opacity="0.7"/>
<polyline points="437.60,650.00 470.00,647.60 509.60,639.00" fill="none" stroke="#2fae2f" stroke-width="1.75" stroke-opacity="0.5" filter="url(#gl)"/>
<polyline points="437.60,650.00 470.00,647.60 509.60,639.00" fill="none" stroke="#4fd63f" stroke-width="0.85"/>
<circle cx="446.34" cy="649.49" r="0.57" fill="#ff3b1f" fill-opacity="0.8"/>
<circle cx="492.52" cy="643.24" r="0.76" fill="#ff3b1f" fill-opacity="0.8"/>
<circle cx="491.04" cy="644.04" r="0.92" fill="#ff3b1f" fill-opacity="0.8"/>
<circle cx="468.28" cy="648.39" r="0.71" fill="#ff3b1f" fill-opacity="0.8"/>
<circle cx="485.90" cy="644.06" r="0.57" fill="#ff3b1f" fill-opacity="0.8"/>
<circle cx="505.39" cy="639.10" r="0.72" fill="#ff3b1f" fill-opacity="0.8"/>
<circle cx="462.05" cy="647.56" r="0.91" fill="#ff3b1f" fill-opacity="0.8"/>
<circle cx="475.96" cy="648.47" r="0.91" fill="#ff3b1f" fill-opacity="0.8"/>
<circle cx="507.07" cy="639.78" r="0.73" fill="#ff3b1f" fill-opacity="0.8"/>
<circle cx="438.29" cy="649.79" r="0.78" fill="#ff3b1f" fill-opacity="0.8"/>
<circle cx="476.57" cy="648.72" r="0.83" fill="#ff3b1f" fill-opacity="0.8"/>
<circle cx="505.77" cy="640.88" r="0.77" fill="#ff3b1f" fill-opacity="0.8"/>
<circle cx="494.75" cy="637.80" r="0.78" fill="#ff3b1f" fill-opacity="0.8"/>
<circle cx="456.57" cy="648.20" r="0.87" fill="#ff3b1f" fill-opacity="0.8"/>
<circle cx="473.29" cy="646.36" r="0.87" fill="#ff3b1f" fill-opacity="0.8"/>
<circle cx="442.22" cy="650.20" r="0.75" fill="#ff3b1f" fill-opacity="0.8"/>
<circle cx="458.54" cy="649.12" r="0.58" fill="#ff3b1f" fill-opacity="0.8"/>
</svg>
<rect x="437.60" y="637.80" width="72.00" height="16.70" fill="none" stroke="#444" stroke-width="0.6" rx="0" />
<text x="438.60" y="643.80" font-size="7.0" font-weight="normal" font-style="normal" fill="#d0d0d0" text-anchor="start" textLength="27" lengthAdjust="spacingAndGlyphs"  stroke="#d0d0d0" stroke-width="0.12">CRISPR</text>
<svg x="437.60" y="657.20" width="72.00" height="16.30" viewBox="437.60 657.20 72.00 16.30">
<rect x="437.60" y="657.20" width="72.00" height="16.30" fill="#070302" stroke="none" stroke-width="0.8" rx="0" />
<line x1="457.19" y1="671.83" x2="456.59" y2="673.44" stroke="#5a1c10" stroke-width="0.5" stroke-opacity="0.7"/>
<line x1="491.34" y1="668.96" x2="491.54" y2="677.26" stroke="#5a1c10" stroke-width="0.5" stroke-opacity="0.7"/>
<line x1="459.67" y1="658.81" x2="448.94" y2="653.79" stroke="#5a1c10" stroke-width="0.5" stroke-opacity="0.7"/>
<line x1="443.05" y1="668.23" x2="446.14" y2="663.32" stroke="#5a1c10" stroke-width="0.5" stroke-opacity="0.7"/>
<line x1="502.63" y1="669.17" x2="489.08" y2="664.77" stroke="#5a1c10" stroke-width="0.5" stroke-opacity="0.7"/>
<line x1="454.51" y1="663.88" x2="461.23" y2="660.02" stroke="#5a1c10" stroke-width="0.5" stroke-opacity="0.7"/>
<line x1="501.95" y1="657.51" x2="513.62" y2="661.76" stroke="#5a1c10" stroke-width="0.5" stroke-opacity="0.7"/>
<polyline points="495.20,673.50 509.60,663.00" fill="none" stroke="#3cc23c" stroke-width="1.1" stroke-opacity="0.8"/>
<polyline points="437.60,669.60 477.20,668.00 509.60,664.90" fill="none" stroke="#2fae2f" stroke-width="2.30" stroke-opacity="0.5" filter="url(#gl)"/>
<polyline points="437.60,669.60 477.20,668.00 509.60,664.90" fill="none" stroke="#4fd63f" stroke-width="1.40"/>
<circle cx="500.61" cy="666.34" r="0.69" fill="#ff3b1f" fill-opacity="0.8"/>
<circle cx="459.84" cy="669.57" r="0.57" fill="#ff3b1f" fill-opacity="0.8"/>
<circle cx="492.68" cy="666.96" r="0.97" fill="#ff3b1f" fill-opacity="0.8"/>
<circle cx="453.75" cy="668.28" r="0.93" fill="#ff3b1f" fill-opacity="0.8"/>
<circle cx="480.03" cy="667.87" r="0.76" fill="#ff3b1f" fill-opacity="0.8"/>
<circle cx="470.26" cy="668.99" r="0.76" fill="#ff3b1f" fill-opacity="0.8"/>
<circle cx="444.45" cy="671.27" r="0.73" fill="#ff3b1f" fill-opacity="0.8"/>
<circle cx="501.28" cy="666.48" r="0.71" fill="#ff3b1f" fill-opacity="0.8"/>
<circle cx="460.15" cy="669.66" r="0.81" fill="#ff3b1f" fill-opacity="0.8"/>
<circle cx="471.97" cy="668.70" r="0.77" fill="#ff3b1f" fill-opacity="0.8"/>
<circle cx="484.65" cy="667.66" r="0.63" fill="#ff3b1f" fill-opacity="0.8"/>
<circle cx="462.60" cy="669.26" r="0.80" fill="#ff3b1f" fill-opacity="0.8"/>
<circle cx="440.78" cy="669.72" r="0.81" fill="#ff3b1f" fill-opacity="0.8"/>
<circle cx="486.46" cy="666.46" r="0.91" fill="#ff3b1f" fill-opacity="0.8"/>
<circle cx="467.02" cy="663.10" r="0.76" fill="#ff3b1f" fill-opacity="0.8"/>
<circle cx="490.68" cy="666.07" r="0.87" fill="#ff3b1f" fill-opacity="0.8"/>
<circle cx="459.96" cy="667.43" r="0.92" fill="#ff3b1f" fill-opacity="0.8"/>
</svg>
<rect x="437.60" y="657.20" width="72.00" height="16.30" fill="none" stroke="#444" stroke-width="0.6" rx="0" />
<text x="438.60" y="663.20" font-size="7.0" font-weight="normal" font-style="normal" fill="#d0d0d0" text-anchor="start" textLength="22" lengthAdjust="spacingAndGlyphs"  stroke="#d0d0d0" stroke-width="0.12">KdVS2</text>
<line x1="496.70" y1="671.40" x2="508.50" y2="671.40" stroke="#bbb" stroke-width="0.8" />
<rect x="285.30" y="675.20" width="224.30" height="8.40" fill="#fff" stroke="#333" stroke-width="0.9" rx="0" />
<line x1="285.80" y1="684.50" x2="509.20" y2="684.50" stroke="#aaa" stroke-width="1.0" />
<text x="367.4" y="683.0" font-size="8.4" fill="#6bbf59" stroke="#6bbf59" stroke-width="0.12"><tspan textLength="24.2" lengthAdjust="spacingAndGlyphs">MAP2</tspan><tspan fill="#444">,</tspan><tspan fill="#e0403a" dx="3" textLength="30.5" lengthAdjust="spacingAndGlyphs">SYN1/2</tspan></text>
</svg></body></html>
